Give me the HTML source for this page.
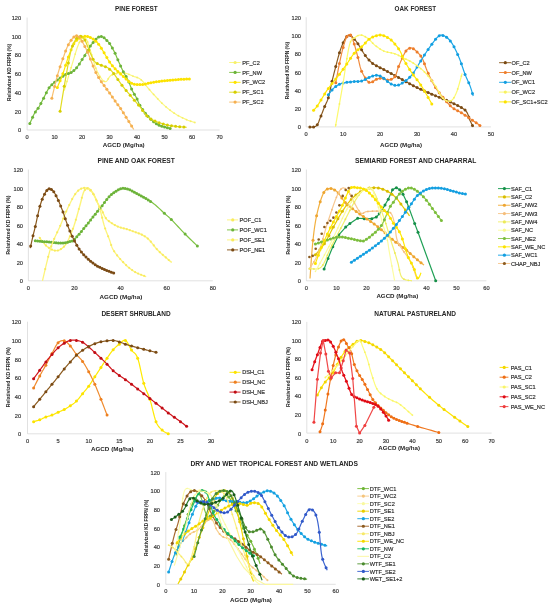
<!DOCTYPE html>
<html><head><meta charset="utf-8"><style>
html,body{margin:0;padding:0;background:#fff;overflow:hidden;width:550px;height:607px;}
svg{display:block;font-family:"Liberation Sans", sans-serif;filter:blur(0.3px);}
.t{stroke:#333;stroke-width:0.18;}
</style></head><body>
<svg width="550" height="607" viewBox="0 0 550 607">
<rect width="550" height="607" fill="#fff"/>
<line x1="27.1" y1="17.56" x2="27.1" y2="130" stroke="#d9d9d9" stroke-width="0.8"/>
<line x1="27.1" y1="130" x2="219.6" y2="130" stroke="#d9d9d9" stroke-width="0.8"/>
<text x="21.2" y="132.45" font-size="5.7" fill="#404040" class="t" text-anchor="end">0</text>
<text x="21.2" y="113.71" font-size="5.7" fill="#404040" class="t" text-anchor="end">20</text>
<text x="21.2" y="94.97" font-size="5.7" fill="#404040" class="t" text-anchor="end">40</text>
<text x="21.2" y="76.23" font-size="5.7" fill="#404040" class="t" text-anchor="end">60</text>
<text x="21.2" y="57.49" font-size="5.7" fill="#404040" class="t" text-anchor="end">80</text>
<text x="21.2" y="38.75" font-size="5.7" fill="#404040" class="t" text-anchor="end">100</text>
<text x="21.2" y="20.01" font-size="5.7" fill="#404040" class="t" text-anchor="end">120</text>
<text x="27.1" y="139.15" font-size="5.7" fill="#404040" class="t" text-anchor="middle">0</text>
<text x="54.6" y="139.15" font-size="5.7" fill="#404040" class="t" text-anchor="middle">10</text>
<text x="82.1" y="139.15" font-size="5.7" fill="#404040" class="t" text-anchor="middle">20</text>
<text x="109.6" y="139.15" font-size="5.7" fill="#404040" class="t" text-anchor="middle">30</text>
<text x="137.1" y="139.15" font-size="5.7" fill="#404040" class="t" text-anchor="middle">40</text>
<text x="164.6" y="139.15" font-size="5.7" fill="#404040" class="t" text-anchor="middle">50</text>
<text x="192.1" y="139.15" font-size="5.7" fill="#404040" class="t" text-anchor="middle">60</text>
<text x="219.6" y="139.15" font-size="5.7" fill="#404040" class="t" text-anchor="middle">70</text>
<text x="136.3" y="10.85" font-size="6.3" font-weight="bold" fill="#262626" text-anchor="middle" textLength="42.5" lengthAdjust="spacingAndGlyphs">PINE FOREST</text>
<text x="123.7" y="146.9" font-size="6.2" font-weight="bold" fill="#262626" text-anchor="middle" textLength="42" lengthAdjust="spacingAndGlyphs">AGCD (Mg/ha)</text>
<text transform="translate(10.5,72.4) rotate(-90)" font-size="5.4" font-weight="bold" fill="#262626" text-anchor="middle" textLength="57" lengthAdjust="spacingAndGlyphs">Relativized KD FRPN (%)</text>
<path d="M64.22 90.65 L64.63 89.28 L65.18 87.45 L65.84 85.26 L66.56 82.85 L67.32 80.31 L68.08 77.79 L68.8 75.38 L69.45 73.22 L70.04 71.24 L70.61 69.33 L71.17 67.46 L71.72 65.63 L72.26 63.83 L72.79 62.07 L73.32 60.33 L73.85 58.6 L74.38 56.87 L74.9 55.12 L75.42 53.39 L75.93 51.69 L76.44 50.05 L76.95 48.48 L77.46 47.01 L77.97 45.67 L78.49 44.42 L79.01 43.22 L79.52 42.09 L80.04 41.06 L80.55 40.13 L81.07 39.33 L81.58 38.67 L82.1 38.17 L82.62 37.82 L83.13 37.57 L83.65 37.45 L84.16 37.47 L84.68 37.63 L85.19 37.95 L85.71 38.44 L86.22 39.11 L86.73 39.98 L87.22 41.04 L87.71 42.28 L88.2 43.68 L88.7 45.21 L89.22 46.84 L89.77 48.57 L90.35 50.35 L90.97 52.32 L91.63 54.52 L92.31 56.88 L93.01 59.32 L93.73 61.74 L94.44 64.08 L95.15 66.25 L95.85 68.16 L96.54 69.85 L97.24 71.43 L97.95 72.89 L98.65 74.23 L99.35 75.46 L100.03 76.57 L100.7 77.57 L101.35 78.47 L101.97 79.26 L102.56 79.97 L103.13 80.57 L103.69 81.06 L104.25 81.41 L104.82 81.63 L105.41 81.68 L106.03 81.56 L106.63 81.18 L107.19 80.51 L107.75 79.64 L108.33 78.65 L108.96 77.62 L109.69 76.63 L110.53 75.76 L111.53 75.09 L112.71 74.58 L114.08 74.12 L115.58 73.73 L117.16 73.41 L118.78 73.16 L120.38 72.99 L121.92 72.92 L123.35 72.94 L124.7 73.09 L126.02 73.38 L127.31 73.77 L128.57 74.24 L129.8 74.75 L130.99 75.28 L132.14 75.77 L133.25 76.22 L134.3 76.59 L135.3 76.91 L136.25 77.22 L137.17 77.53 L138.06 77.88 L138.93 78.29 L139.8 78.79 L140.67 79.4 L141.54 80.15 L142.38 81.01 L143.21 81.96 L144.03 82.97 L144.84 84.01 L145.64 85.07 L146.46 86.1 L147.28 87.09 L148.07 88.02 L148.83 88.91 L149.57 89.79 L150.32 90.68 L151.1 91.59 L151.93 92.54 L152.85 93.57 L153.88 94.68 L155.02 95.9 L156.26 97.24 L157.58 98.65 L158.96 100.1 L160.38 101.56 L161.8 103 L163.22 104.37 L164.6 105.64 L165.96 106.83 L167.33 107.99 L168.7 109.11 L170.08 110.19 L171.46 111.23 L172.84 112.22 L174.22 113.17 L175.6 114.07 L176.99 114.93 L178.41 115.74 L179.85 116.51 L181.27 117.23 L182.68 117.91 L184.04 118.55 L185.36 119.14 L186.6 119.69 L187.82 120.2 L189.05 120.66 L190.26 121.08 L191.41 121.45 L192.48 121.78 L193.43 122.06 L194.23 122.31 L194.85 122.5" fill="none" stroke="#fbf77e" stroke-width="1.2" stroke-linejoin="round"/>
<circle cx="66.97" cy="81.47" r="0.9" fill="#f6f06a"/>
<circle cx="71.1" cy="67.7" r="0.9" fill="#f6f06a"/>
<circle cx="75.22" cy="54.03" r="0.9" fill="#f6f06a"/>
<circle cx="79.35" cy="42.47" r="0.9" fill="#f6f06a"/>
<circle cx="83.47" cy="37.49" r="0.9" fill="#f6f06a"/>
<circle cx="87.6" cy="42" r="0.9" fill="#f6f06a"/>
<circle cx="91.72" cy="54.85" r="0.9" fill="#f6f06a"/>
<circle cx="95.85" cy="68.16" r="0.9" fill="#f6f06a"/>
<circle cx="99.97" cy="76.48" r="0.9" fill="#f6f06a"/>
<circle cx="104.1" cy="81.32" r="0.9" fill="#f6f06a"/>
<circle cx="108.22" cy="78.83" r="0.9" fill="#f6f06a"/>
<circle cx="112.35" cy="74.74" r="0.9" fill="#f6f06a"/>
<circle cx="116.47" cy="73.55" r="0.9" fill="#f6f06a"/>
<circle cx="120.6" cy="72.98" r="0.9" fill="#f6f06a"/>
<circle cx="124.72" cy="73.09" r="0.9" fill="#f6f06a"/>
<circle cx="128.85" cy="74.36" r="0.9" fill="#f6f06a"/>
<circle cx="132.97" cy="76.11" r="0.9" fill="#f6f06a"/>
<circle cx="137.1" cy="77.51" r="0.9" fill="#f6f06a"/>
<circle cx="141.22" cy="79.88" r="0.9" fill="#f6f06a"/>
<circle cx="145.35" cy="84.68" r="0.9" fill="#f6f06a"/>
<circle cx="149.47" cy="89.68" r="0.9" fill="#f6f06a"/>
<circle cx="153.6" cy="94.38" r="0.9" fill="#f6f06a"/>
<circle cx="157.72" cy="98.8" r="0.9" fill="#f6f06a"/>
<circle cx="161.85" cy="103.04" r="0.9" fill="#f6f06a"/>
<circle cx="165.97" cy="106.84" r="0.9" fill="#f6f06a"/>
<circle cx="170.1" cy="110.2" r="0.9" fill="#f6f06a"/>
<circle cx="174.22" cy="113.17" r="0.9" fill="#f6f06a"/>
<circle cx="178.35" cy="115.7" r="0.9" fill="#f6f06a"/>
<circle cx="182.47" cy="117.82" r="0.9" fill="#f6f06a"/>
<circle cx="186.6" cy="119.69" r="0.9" fill="#f6f06a"/>
<circle cx="190.72" cy="121.23" r="0.9" fill="#f6f06a"/>
<circle cx="194.85" cy="122.5" r="0.9" fill="#f6f06a"/>
<path d="M29.3 124.66 L29.71 123.75 L30.26 122.51 L30.91 121.02 L31.64 119.39 L32.4 117.71 L33.15 116.07 L33.88 114.58 L34.53 113.32 L35.11 112.3 L35.68 111.44 L36.22 110.68 L36.76 109.98 L37.29 109.3 L37.82 108.6 L38.37 107.83 L38.92 106.95 L39.49 105.98 L40.06 104.95 L40.62 103.89 L41.19 102.79 L41.77 101.66 L42.37 100.51 L42.97 99.33 L43.6 98.14 L44.25 96.9 L44.91 95.57 L45.58 94.19 L46.27 92.81 L46.97 91.44 L47.68 90.14 L48.39 88.92 L49.1 87.84 L49.82 86.87 L50.57 86 L51.32 85.21 L52.08 84.48 L52.84 83.8 L53.58 83.16 L54.31 82.54 L55.01 81.93 L55.68 81.35 L56.33 80.82 L56.95 80.34 L57.56 79.88 L58.18 79.43 L58.8 79 L59.44 78.55 L60.1 78.09 L60.79 77.6 L61.5 77.1 L62.23 76.6 L62.96 76.09 L63.7 75.61 L64.43 75.15 L65.16 74.72 L65.88 74.34 L66.58 74.04 L67.27 73.82 L67.96 73.64 L68.64 73.49 L69.32 73.32 L70.01 73.12 L70.69 72.84 L71.38 72.47 L72.06 72.01 L72.75 71.5 L73.44 70.94 L74.12 70.34 L74.81 69.68 L75.5 68.97 L76.19 68.22 L76.88 67.41 L77.58 66.5 L78.32 65.47 L79.07 64.35 L79.81 63.2 L80.53 62.07 L81.21 60.98 L81.83 60 L82.38 59.16 L82.8 58.53 L83.1 58.09 L83.32 57.77 L83.51 57.5 L83.71 57.2 L83.97 56.8 L84.34 56.23 L84.85 55.41 L85.51 54.31 L86.28 52.97 L87.14 51.45 L88.06 49.84 L89.03 48.2 L90.03 46.6 L91.02 45.1 L92 43.8 L92.98 42.57 L93.99 41.32 L95.03 40.11 L96.07 38.97 L97.13 37.97 L98.18 37.16 L99.22 36.58 L100.25 36.3 L101.28 36.35 L102.31 36.7 L103.36 37.29 L104.39 38.07 L105.41 38.98 L106.39 39.96 L107.34 40.96 L108.22 41.92 L109.07 42.9 L109.87 43.98 L110.64 45.13 L111.37 46.32 L112.07 47.54 L112.74 48.76 L113.39 49.95 L114 51.1 L114.56 52.19 L115.06 53.24 L115.51 54.26 L115.94 55.29 L116.37 56.33 L116.82 57.42 L117.3 58.58 L117.85 59.82 L118.47 61.19 L119.13 62.69 L119.84 64.27 L120.57 65.89 L121.3 67.49 L122.01 69.05 L122.7 70.5 L123.35 71.81 L123.95 72.95 L124.53 73.94 L125.08 74.84 L125.62 75.68 L126.15 76.51 L126.68 77.38 L127.21 78.33 L127.75 79.4 L128.3 80.63 L128.85 81.96 L129.4 83.38 L129.95 84.83 L130.5 86.28 L131.05 87.7 L131.6 89.04 L132.15 90.27 L132.7 91.38 L133.26 92.39 L133.81 93.34 L134.37 94.25 L134.92 95.14 L135.47 96.04 L136.01 96.97 L136.55 97.95 L137.04 98.97 L137.48 99.99 L137.9 101.02 L138.32 102.07 L138.78 103.14 L139.3 104.26 L139.92 105.43 L140.67 106.67 L141.57 108.02 L142.6 109.48 L143.72 111.03 L144.9 112.6 L146.13 114.16 L147.37 115.66 L148.58 117.05 L149.75 118.29 L150.87 119.39 L151.97 120.4 L153.06 121.32 L154.15 122.18 L155.26 122.97 L156.4 123.7 L157.59 124.39 L158.82 125.03 L160.21 125.64 L161.75 126.19 L163.39 126.69 L165.03 127.14 L166.6 127.54 L168.02 127.88 L169.22 128.17 L170.1 128.41" fill="none" stroke="#7dc242" stroke-width="1.2" stroke-linejoin="round"/>
<circle cx="29.85" cy="123.43" r="1.5" fill="#6cb33a"/>
<circle cx="32.6" cy="117.27" r="1.5" fill="#6cb33a"/>
<circle cx="35.35" cy="111.94" r="1.5" fill="#6cb33a"/>
<circle cx="38.1" cy="108.21" r="1.5" fill="#6cb33a"/>
<circle cx="40.85" cy="103.45" r="1.5" fill="#6cb33a"/>
<circle cx="43.6" cy="98.14" r="1.5" fill="#6cb33a"/>
<circle cx="46.35" cy="92.66" r="1.5" fill="#6cb33a"/>
<circle cx="49.1" cy="87.84" r="1.5" fill="#6cb33a"/>
<circle cx="51.85" cy="84.7" r="1.5" fill="#6cb33a"/>
<circle cx="54.6" cy="82.29" r="1.5" fill="#6cb33a"/>
<circle cx="57.35" cy="80.04" r="1.5" fill="#6cb33a"/>
<circle cx="60.1" cy="78.09" r="1.5" fill="#6cb33a"/>
<circle cx="62.85" cy="76.17" r="1.5" fill="#6cb33a"/>
<circle cx="65.6" cy="74.49" r="1.5" fill="#6cb33a"/>
<circle cx="68.35" cy="73.55" r="1.5" fill="#6cb33a"/>
<circle cx="71.1" cy="72.62" r="1.5" fill="#6cb33a"/>
<circle cx="73.85" cy="70.58" r="1.5" fill="#6cb33a"/>
<circle cx="76.6" cy="67.73" r="1.5" fill="#6cb33a"/>
<circle cx="79.35" cy="63.92" r="1.5" fill="#6cb33a"/>
<circle cx="82.1" cy="59.59" r="1.5" fill="#6cb33a"/>
<circle cx="84.85" cy="55.41" r="1.5" fill="#6cb33a"/>
<circle cx="87.6" cy="50.65" r="1.5" fill="#6cb33a"/>
<circle cx="90.35" cy="46.11" r="1.5" fill="#6cb33a"/>
<circle cx="93.1" cy="42.42" r="1.5" fill="#6cb33a"/>
<circle cx="95.85" cy="39.21" r="1.5" fill="#6cb33a"/>
<circle cx="98.6" cy="36.92" r="1.5" fill="#6cb33a"/>
<circle cx="101.35" cy="36.38" r="1.5" fill="#6cb33a"/>
<circle cx="104.1" cy="37.85" r="1.5" fill="#6cb33a"/>
<circle cx="106.85" cy="40.44" r="1.5" fill="#6cb33a"/>
<circle cx="109.6" cy="43.62" r="1.5" fill="#6cb33a"/>
<circle cx="112.35" cy="48.04" r="1.5" fill="#6cb33a"/>
<circle cx="115.1" cy="53.33" r="1.5" fill="#6cb33a"/>
<circle cx="117.85" cy="59.82" r="1.5" fill="#6cb33a"/>
<circle cx="120.6" cy="65.96" r="1.5" fill="#6cb33a"/>
<circle cx="123.35" cy="71.81" r="1.5" fill="#6cb33a"/>
<circle cx="126.1" cy="76.43" r="1.5" fill="#6cb33a"/>
<circle cx="128.85" cy="81.96" r="1.5" fill="#6cb33a"/>
<circle cx="131.6" cy="89.04" r="1.5" fill="#6cb33a"/>
<circle cx="134.35" cy="94.22" r="1.5" fill="#6cb33a"/>
<circle cx="137.1" cy="99.1" r="1.5" fill="#6cb33a"/>
<circle cx="139.85" cy="105.29" r="1.5" fill="#6cb33a"/>
<circle cx="142.6" cy="109.49" r="1.5" fill="#6cb33a"/>
<circle cx="145.35" cy="113.17" r="1.5" fill="#6cb33a"/>
<circle cx="148.1" cy="116.5" r="1.5" fill="#6cb33a"/>
<circle cx="150.85" cy="119.37" r="1.5" fill="#6cb33a"/>
<circle cx="153.6" cy="121.75" r="1.5" fill="#6cb33a"/>
<circle cx="156.35" cy="123.67" r="1.5" fill="#6cb33a"/>
<circle cx="159.1" cy="125.15" r="1.5" fill="#6cb33a"/>
<circle cx="161.85" cy="126.22" r="1.5" fill="#6cb33a"/>
<circle cx="164.6" cy="127.02" r="1.5" fill="#6cb33a"/>
<circle cx="167.35" cy="127.72" r="1.5" fill="#6cb33a"/>
<circle cx="170.1" cy="128.41" r="1.5" fill="#6cb33a"/>
<path d="M56.8 88.77 L57.27 87.63 L57.9 86.12 L58.65 84.33 L59.48 82.33 L60.36 80.2 L61.23 78.01 L62.08 75.85 L62.85 73.78 L63.56 71.74 L64.26 69.61 L64.95 67.43 L65.63 65.23 L66.31 63.05 L66.99 60.91 L67.67 58.86 L68.35 56.91 L69.04 55.04 L69.72 53.2 L70.41 51.39 L71.1 49.65 L71.79 48 L72.47 46.46 L73.16 45.05 L73.85 43.8 L74.53 42.71 L75.19 41.78 L75.84 40.97 L76.5 40.28 L77.17 39.68 L77.86 39.14 L78.58 38.65 L79.35 38.17 L80.17 37.73 L81.03 37.33 L81.93 36.99 L82.86 36.71 L83.79 36.49 L84.71 36.35 L85.62 36.28 L86.5 36.3 L87.35 36.4 L88.19 36.59 L89.02 36.85 L89.83 37.18 L90.65 37.58 L91.46 38.03 L92.28 38.55 L93.1 39.11 L93.89 39.67 L94.64 40.21 L95.37 40.78 L96.11 41.42 L96.88 42.19 L97.72 43.12 L98.65 44.26 L99.7 45.67 L100.88 47.44 L102.18 49.57 L103.57 51.95 L105.03 54.48 L106.52 57.06 L108.03 59.56 L109.52 61.89 L110.97 63.94 L112.42 65.75 L113.9 67.43 L115.39 69 L116.89 70.47 L118.36 71.86 L119.81 73.18 L121.2 74.44 L122.53 75.65 L123.78 76.83 L124.96 77.97 L126.1 79.04 L127.2 80.05 L128.29 80.97 L129.37 81.8 L130.47 82.53 L131.6 83.15 L132.71 83.65 L133.78 84.03 L134.82 84.31 L135.88 84.5 L136.99 84.6 L138.18 84.64 L139.49 84.62 L140.95 84.56 L142.56 84.4 L144.3 84.13 L146.14 83.77 L148.07 83.36 L150.07 82.92 L152.13 82.49 L154.23 82.08 L156.35 81.74 L158.56 81.45 L160.88 81.17 L163.29 80.9 L165.73 80.64 L168.17 80.4 L170.57 80.17 L172.87 79.96 L175.05 79.78 L177.19 79.61 L179.38 79.47 L181.55 79.34 L183.64 79.23 L185.59 79.14 L187.32 79.06 L188.78 78.99 L189.9 78.93" fill="none" stroke="#ffea00" stroke-width="1.2" stroke-linejoin="round"/>
<circle cx="57.35" cy="87.44" r="1.5" fill="#fce200"/>
<circle cx="60.1" cy="80.82" r="1.5" fill="#fce200"/>
<circle cx="62.85" cy="73.78" r="1.5" fill="#fce200"/>
<circle cx="65.6" cy="65.34" r="1.5" fill="#fce200"/>
<circle cx="68.35" cy="56.91" r="1.5" fill="#fce200"/>
<circle cx="71.1" cy="49.65" r="1.5" fill="#fce200"/>
<circle cx="73.85" cy="43.8" r="1.5" fill="#fce200"/>
<circle cx="76.6" cy="40.19" r="1.5" fill="#fce200"/>
<circle cx="79.35" cy="38.17" r="1.5" fill="#fce200"/>
<circle cx="82.1" cy="36.94" r="1.5" fill="#fce200"/>
<circle cx="84.85" cy="36.34" r="1.5" fill="#fce200"/>
<circle cx="87.6" cy="36.46" r="1.5" fill="#fce200"/>
<circle cx="90.35" cy="37.43" r="1.5" fill="#fce200"/>
<circle cx="93.1" cy="39.11" r="1.5" fill="#fce200"/>
<circle cx="95.85" cy="41.2" r="1.5" fill="#fce200"/>
<circle cx="98.6" cy="44.2" r="1.5" fill="#fce200"/>
<circle cx="101.35" cy="48.2" r="1.5" fill="#fce200"/>
<circle cx="104.1" cy="52.87" r="1.5" fill="#fce200"/>
<circle cx="106.85" cy="57.6" r="1.5" fill="#fce200"/>
<circle cx="109.6" cy="62" r="1.5" fill="#fce200"/>
<circle cx="112.35" cy="65.66" r="1.5" fill="#fce200"/>
<circle cx="115.1" cy="68.69" r="1.5" fill="#fce200"/>
<circle cx="117.85" cy="71.38" r="1.5" fill="#fce200"/>
<circle cx="120.6" cy="73.9" r="1.5" fill="#fce200"/>
<circle cx="123.35" cy="76.43" r="1.5" fill="#fce200"/>
<circle cx="126.1" cy="79.04" r="1.5" fill="#fce200"/>
<circle cx="128.85" cy="81.4" r="1.5" fill="#fce200"/>
<circle cx="131.6" cy="83.15" r="1.5" fill="#fce200"/>
<circle cx="134.35" cy="84.18" r="1.5" fill="#fce200"/>
<circle cx="137.1" cy="84.61" r="1.5" fill="#fce200"/>
<circle cx="139.85" cy="84.61" r="1.5" fill="#fce200"/>
<circle cx="142.6" cy="84.39" r="1.5" fill="#fce200"/>
<circle cx="145.35" cy="83.93" r="1.5" fill="#fce200"/>
<circle cx="148.1" cy="83.35" r="1.5" fill="#fce200"/>
<circle cx="150.85" cy="82.76" r="1.5" fill="#fce200"/>
<circle cx="153.6" cy="82.2" r="1.5" fill="#fce200"/>
<circle cx="156.35" cy="81.74" r="1.5" fill="#fce200"/>
<circle cx="159.1" cy="81.38" r="1.5" fill="#fce200"/>
<circle cx="161.85" cy="81.06" r="1.5" fill="#fce200"/>
<circle cx="164.6" cy="80.76" r="1.5" fill="#fce200"/>
<circle cx="167.35" cy="80.48" r="1.5" fill="#fce200"/>
<circle cx="170.1" cy="80.21" r="1.5" fill="#fce200"/>
<circle cx="172.85" cy="79.97" r="1.5" fill="#fce200"/>
<circle cx="175.6" cy="79.73" r="1.5" fill="#fce200"/>
<circle cx="178.35" cy="79.54" r="1.5" fill="#fce200"/>
<circle cx="181.1" cy="79.37" r="1.5" fill="#fce200"/>
<circle cx="183.85" cy="79.22" r="1.5" fill="#fce200"/>
<circle cx="186.6" cy="79.09" r="1.5" fill="#fce200"/>
<circle cx="189.35" cy="78.96" r="1.5" fill="#fce200"/>
<path d="M60.1 111.26 L60.52 108.7 L61.09 105.26 L61.76 101.16 L62.51 96.62 L63.3 91.86 L64.1 87.1 L64.87 82.56 L65.6 78.47 L66.29 74.62 L66.97 70.73 L67.66 66.88 L68.35 63.12 L69.04 59.52 L69.72 56.15 L70.41 53.07 L71.1 50.35 L71.8 48 L72.51 45.95 L73.22 44.17 L73.94 42.62 L74.64 41.29 L75.32 40.12 L75.98 39.09 L76.6 38.17 L77.18 37.41 L77.73 36.85 L78.25 36.47 L78.75 36.24 L79.24 36.14 L79.73 36.13 L80.22 36.19 L80.72 36.3 L81.23 36.44 L81.72 36.62 L82.21 36.88 L82.7 37.24 L83.2 37.71 L83.72 38.32 L84.27 39.09 L84.85 40.05 L85.48 41.27 L86.15 42.77 L86.85 44.47 L87.57 46.29 L88.29 48.15 L89 49.97 L89.69 51.67 L90.35 53.17 L90.96 54.51 L91.53 55.8 L92.08 57.02 L92.62 58.18 L93.17 59.26 L93.74 60.25 L94.35 61.16 L95.03 61.97 L95.77 62.66 L96.57 63.23 L97.41 63.69 L98.27 64.08 L99.15 64.42 L100.01 64.72 L100.84 65.03 L101.62 65.35 L102.37 65.65 L103.08 65.9 L103.78 66.11 L104.46 66.31 L105.13 66.52 L105.8 66.76 L106.46 67.05 L107.12 67.41 L107.79 67.83 L108.44 68.27 L109.09 68.75 L109.74 69.26 L110.38 69.82 L111.03 70.43 L111.69 71.09 L112.35 71.81 L113.02 72.61 L113.71 73.48 L114.39 74.42 L115.08 75.4 L115.78 76.41 L116.47 77.42 L117.16 78.43 L117.85 79.4 L118.54 80.37 L119.22 81.34 L119.91 82.33 L120.6 83.31 L121.29 84.28 L121.97 85.24 L122.66 86.18 L123.35 87.09 L124.04 87.96 L124.72 88.8 L125.41 89.63 L126.1 90.44 L126.79 91.23 L127.47 92.03 L128.16 92.83 L128.85 93.64 L129.54 94.46 L130.22 95.29 L130.91 96.11 L131.6 96.93 L132.29 97.75 L132.97 98.57 L133.66 99.39 L134.35 100.2 L135.01 100.98 L135.62 101.71 L136.22 102.41 L136.82 103.12 L137.47 103.87 L138.17 104.69 L138.95 105.61 L139.85 106.67 L140.82 107.91 L141.84 109.33 L142.9 110.86 L144.04 112.46 L145.28 114.06 L146.63 115.6 L148.11 117.03 L149.75 118.29 L151.57 119.39 L153.57 120.42 L155.71 121.37 L157.97 122.25 L160.29 123.05 L162.65 123.78 L165.02 124.44 L167.35 125.03 L169.81 125.55 L172.5 125.97 L175.29 126.31 L178.07 126.58 L180.72 126.8 L183.1 126.98 L185.1 127.14 L186.6 127.28" fill="none" stroke="#e2dc20" stroke-width="1.2" stroke-linejoin="round"/>
<circle cx="60.1" cy="111.26" r="1.5" fill="#d6ce00"/>
<circle cx="64.22" cy="86.35" r="1.5" fill="#d6ce00"/>
<circle cx="68.35" cy="63.12" r="1.5" fill="#d6ce00"/>
<circle cx="72.47" cy="46.04" r="1.5" fill="#d6ce00"/>
<circle cx="76.6" cy="38.17" r="1.5" fill="#d6ce00"/>
<circle cx="80.72" cy="36.3" r="1.5" fill="#d6ce00"/>
<circle cx="84.85" cy="40.05" r="1.5" fill="#d6ce00"/>
<circle cx="88.97" cy="49.9" r="1.5" fill="#d6ce00"/>
<circle cx="93.1" cy="59.13" r="1.5" fill="#d6ce00"/>
<circle cx="97.22" cy="63.59" r="1.5" fill="#d6ce00"/>
<circle cx="101.35" cy="65.23" r="1.5" fill="#d6ce00"/>
<circle cx="105.47" cy="66.64" r="1.5" fill="#d6ce00"/>
<circle cx="109.6" cy="69.15" r="1.5" fill="#d6ce00"/>
<circle cx="113.72" cy="73.51" r="1.5" fill="#d6ce00"/>
<circle cx="117.85" cy="79.4" r="1.5" fill="#d6ce00"/>
<circle cx="121.97" cy="85.24" r="1.5" fill="#d6ce00"/>
<circle cx="126.1" cy="90.44" r="1.5" fill="#d6ce00"/>
<circle cx="130.22" cy="95.29" r="1.5" fill="#d6ce00"/>
<circle cx="134.35" cy="100.2" r="1.5" fill="#d6ce00"/>
<circle cx="138.47" cy="105.06" r="1.5" fill="#d6ce00"/>
<circle cx="142.6" cy="110.43" r="1.5" fill="#d6ce00"/>
<circle cx="146.72" cy="115.7" r="1.5" fill="#d6ce00"/>
<circle cx="150.85" cy="118.96" r="1.5" fill="#d6ce00"/>
<circle cx="154.97" cy="121.04" r="1.5" fill="#d6ce00"/>
<circle cx="159.1" cy="122.64" r="1.5" fill="#d6ce00"/>
<circle cx="163.22" cy="123.94" r="1.5" fill="#d6ce00"/>
<circle cx="167.35" cy="125.03" r="1.5" fill="#d6ce00"/>
<circle cx="171.47" cy="125.81" r="1.5" fill="#d6ce00"/>
<circle cx="175.6" cy="126.34" r="1.5" fill="#d6ce00"/>
<circle cx="179.72" cy="126.72" r="1.5" fill="#d6ce00"/>
<circle cx="183.85" cy="127.04" r="1.5" fill="#d6ce00"/>
<path d="M51.85 98.14 L52.27 96.37 L52.84 93.97 L53.51 91.11 L54.26 87.95 L55.05 84.66 L55.85 81.41 L56.62 78.35 L57.35 75.65 L58.04 73.26 L58.73 70.98 L59.41 68.79 L60.1 66.69 L60.79 64.66 L61.48 62.68 L62.16 60.72 L62.85 58.79 L63.53 56.86 L64.21 54.94 L64.88 53.06 L65.55 51.23 L66.23 49.47 L66.92 47.79 L67.62 46.2 L68.35 44.73 L69.11 43.35 L69.91 42.01 L70.73 40.75 L71.56 39.58 L72.39 38.53 L73.19 37.62 L73.96 36.87 L74.68 36.3 L75.35 35.95 L76 35.8 L76.63 35.83 L77.24 35.98 L77.81 36.24 L78.36 36.56 L78.87 36.9 L79.35 37.24 L79.77 37.55 L80.11 37.89 L80.4 38.25 L80.67 38.68 L80.95 39.18 L81.26 39.78 L81.64 40.5 L82.1 41.36 L82.64 42.34 L83.24 43.42 L83.88 44.61 L84.56 45.9 L85.28 47.3 L86.03 48.82 L86.8 50.46 L87.6 52.23 L88.45 54.23 L89.37 56.51 L90.33 58.97 L91.31 61.52 L92.3 64.06 L93.26 66.5 L94.18 68.74 L95.03 70.69 L95.8 72.34 L96.54 73.8 L97.23 75.1 L97.9 76.28 L98.55 77.37 L99.2 78.42 L99.85 79.46 L100.53 80.53 L101.21 81.59 L101.9 82.6 L102.59 83.57 L103.28 84.51 L103.96 85.43 L104.65 86.35 L105.34 87.27 L106.03 88.21 L106.71 89.16 L107.41 90.11 L108.1 91.06 L108.79 92.01 L109.48 92.96 L110.17 93.9 L110.85 94.85 L111.53 95.8 L112.2 96.76 L112.87 97.73 L113.54 98.72 L114.21 99.69 L114.86 100.66 L115.51 101.6 L116.14 102.52 L116.75 103.39 L117.28 104.12 L117.71 104.67 L118.1 105.13 L118.49 105.6 L118.93 106.17 L119.49 106.93 L120.21 107.97 L121.15 109.39 L122.42 111.36 L124.03 113.9 L125.85 116.79 L127.75 119.83 L129.62 122.83 L131.33 125.58 L132.77 127.88 L133.8 129.53" fill="none" stroke="#f8c070" stroke-width="1.2" stroke-linejoin="round"/>
<circle cx="51.85" cy="98.14" r="1.5" fill="#f5b050"/>
<circle cx="54.6" cy="86.52" r="1.5" fill="#f5b050"/>
<circle cx="57.35" cy="75.65" r="1.5" fill="#f5b050"/>
<circle cx="60.1" cy="66.69" r="1.5" fill="#f5b050"/>
<circle cx="62.85" cy="58.79" r="1.5" fill="#f5b050"/>
<circle cx="65.6" cy="51.1" r="1.5" fill="#f5b050"/>
<circle cx="68.35" cy="44.73" r="1.5" fill="#f5b050"/>
<circle cx="71.1" cy="40.23" r="1.5" fill="#f5b050"/>
<circle cx="73.85" cy="36.97" r="1.5" fill="#f5b050"/>
<circle cx="76.6" cy="35.82" r="1.5" fill="#f5b050"/>
<circle cx="79.35" cy="37.24" r="1.5" fill="#f5b050"/>
<circle cx="82.1" cy="41.36" r="1.5" fill="#f5b050"/>
<circle cx="84.85" cy="46.47" r="1.5" fill="#f5b050"/>
<circle cx="87.6" cy="52.23" r="1.5" fill="#f5b050"/>
<circle cx="90.35" cy="59.03" r="1.5" fill="#f5b050"/>
<circle cx="93.1" cy="66.1" r="1.5" fill="#f5b050"/>
<circle cx="95.85" cy="72.44" r="1.5" fill="#f5b050"/>
<circle cx="98.6" cy="77.46" r="1.5" fill="#f5b050"/>
<circle cx="101.35" cy="81.79" r="1.5" fill="#f5b050"/>
<circle cx="104.1" cy="85.61" r="1.5" fill="#f5b050"/>
<circle cx="106.85" cy="89.35" r="1.5" fill="#f5b050"/>
<circle cx="109.6" cy="93.12" r="1.5" fill="#f5b050"/>
<circle cx="112.35" cy="96.98" r="1.5" fill="#f5b050"/>
<circle cx="115.1" cy="101.01" r="1.5" fill="#f5b050"/>
<circle cx="117.85" cy="104.83" r="1.5" fill="#f5b050"/>
<circle cx="120.6" cy="108.56" r="1.5" fill="#f5b050"/>
<circle cx="123.35" cy="112.83" r="1.5" fill="#f5b050"/>
<circle cx="126.1" cy="117.2" r="1.5" fill="#f5b050"/>
<circle cx="128.85" cy="121.6" r="1.5" fill="#f5b050"/>
<circle cx="131.6" cy="126.01" r="1.5" fill="#f5b050"/>
<line x1="229.2" y1="62.5" x2="240.6" y2="62.5" stroke="#fbf77e" stroke-width="0.95"/>
<circle cx="235.1" cy="62.5" r="1.6" fill="#f6f06a"/>
<text x="242.3" y="64.66" font-size="6.0" fill="#262626" class="t" textLength="17.51" lengthAdjust="spacingAndGlyphs">PF_C2</text>
<line x1="229.2" y1="72.4" x2="240.6" y2="72.4" stroke="#7dc242" stroke-width="0.95"/>
<circle cx="235.1" cy="72.4" r="1.6" fill="#6cb33a"/>
<text x="242.3" y="74.56" font-size="6.0" fill="#262626" class="t" textLength="19.69" lengthAdjust="spacingAndGlyphs">PF_NW</text>
<line x1="229.2" y1="82.3" x2="240.6" y2="82.3" stroke="#ffea00" stroke-width="0.95"/>
<circle cx="235.1" cy="82.3" r="1.6" fill="#fce200"/>
<text x="242.3" y="84.46" font-size="6.0" fill="#262626" class="t" textLength="22.82" lengthAdjust="spacingAndGlyphs">PF_WC2</text>
<line x1="229.2" y1="92.2" x2="240.6" y2="92.2" stroke="#e2dc20" stroke-width="0.95"/>
<circle cx="235.1" cy="92.2" r="1.6" fill="#d6ce00"/>
<text x="242.3" y="94.36" font-size="6.0" fill="#262626" class="t" textLength="21.26" lengthAdjust="spacingAndGlyphs">PF_SC1</text>
<line x1="229.2" y1="102.1" x2="240.6" y2="102.1" stroke="#f8c070" stroke-width="0.95"/>
<circle cx="235.1" cy="102.1" r="1.6" fill="#f5b050"/>
<text x="242.3" y="104.26" font-size="6.0" fill="#262626" class="t" textLength="21.26" lengthAdjust="spacingAndGlyphs">PF_SC2</text>
<line x1="306.2" y1="17.22" x2="306.2" y2="126.9" stroke="#d9d9d9" stroke-width="0.8"/>
<line x1="306.2" y1="126.9" x2="490.95" y2="126.9" stroke="#d9d9d9" stroke-width="0.8"/>
<text x="301" y="129.35" font-size="5.7" fill="#404040" class="t" text-anchor="end">0</text>
<text x="301" y="111.07" font-size="5.7" fill="#404040" class="t" text-anchor="end">20</text>
<text x="301" y="92.79" font-size="5.7" fill="#404040" class="t" text-anchor="end">40</text>
<text x="301" y="74.51" font-size="5.7" fill="#404040" class="t" text-anchor="end">60</text>
<text x="301" y="56.23" font-size="5.7" fill="#404040" class="t" text-anchor="end">80</text>
<text x="301" y="37.95" font-size="5.7" fill="#404040" class="t" text-anchor="end">100</text>
<text x="301" y="19.67" font-size="5.7" fill="#404040" class="t" text-anchor="end">120</text>
<text x="306.2" y="136.25" font-size="5.7" fill="#404040" class="t" text-anchor="middle">0</text>
<text x="343.15" y="136.25" font-size="5.7" fill="#404040" class="t" text-anchor="middle">10</text>
<text x="380.1" y="136.25" font-size="5.7" fill="#404040" class="t" text-anchor="middle">20</text>
<text x="417.05" y="136.25" font-size="5.7" fill="#404040" class="t" text-anchor="middle">30</text>
<text x="454" y="136.25" font-size="5.7" fill="#404040" class="t" text-anchor="middle">40</text>
<text x="490.95" y="136.25" font-size="5.7" fill="#404040" class="t" text-anchor="middle">50</text>
<text x="415.3" y="10.95" font-size="6.3" font-weight="bold" fill="#262626" text-anchor="middle" textLength="41.4" lengthAdjust="spacingAndGlyphs">OAK FOREST</text>
<text x="401" y="146.7" font-size="6.2" font-weight="bold" fill="#262626" text-anchor="middle" textLength="42" lengthAdjust="spacingAndGlyphs">AGCD (Mg/ha)</text>
<text transform="translate(289.1,70.5) rotate(-90)" font-size="5.4" font-weight="bold" fill="#262626" text-anchor="middle" textLength="57.3" lengthAdjust="spacingAndGlyphs">Relativized KD FRPN (%)</text>
<path d="M309.89 126.9 L310.18 126.91 L310.56 126.95 L311.01 127 L311.51 127.04 L312.04 127.06 L312.58 127.05 L313.1 127 L313.59 126.9 L314.05 126.78 L314.51 126.66 L314.98 126.53 L315.44 126.35 L315.9 126.11 L316.36 125.77 L316.82 125.31 L317.28 124.71 L317.75 123.93 L318.21 122.99 L318.67 121.93 L319.13 120.77 L319.59 119.56 L320.06 118.32 L320.52 117.1 L320.98 115.93 L321.44 114.78 L321.9 113.61 L322.37 112.42 L322.83 111.23 L323.29 110.04 L323.75 108.85 L324.21 107.67 L324.68 106.52 L325.14 105.44 L325.6 104.44 L326.06 103.49 L326.52 102.52 L326.98 101.51 L327.45 100.39 L327.91 99.12 L328.37 97.65 L328.83 95.95 L329.29 94.03 L329.76 91.96 L330.22 89.79 L330.68 87.57 L331.14 85.36 L331.6 83.22 L332.06 81.2 L332.53 79.28 L332.99 77.39 L333.45 75.54 L333.91 73.72 L334.37 71.91 L334.84 70.12 L335.3 68.35 L335.76 66.58 L336.22 64.79 L336.68 63 L337.15 61.21 L337.61 59.44 L338.07 57.7 L338.53 56.02 L338.99 54.4 L339.45 52.87 L339.92 51.41 L340.38 50.01 L340.84 48.67 L341.3 47.38 L341.76 46.15 L342.23 44.98 L342.69 43.87 L343.15 42.81 L343.61 41.8 L344.07 40.83 L344.54 39.9 L345 39.04 L345.46 38.25 L345.92 37.54 L346.38 36.93 L346.84 36.41 L347.31 36.01 L347.77 35.69 L348.23 35.47 L348.69 35.33 L349.15 35.27 L349.62 35.28 L350.08 35.36 L350.54 35.5 L351 35.73 L351.46 36.07 L351.93 36.5 L352.39 36.99 L352.85 37.52 L353.31 38.07 L353.77 38.62 L354.24 39.16 L354.67 39.63 L355.07 40.06 L355.46 40.48 L355.85 40.93 L356.27 41.44 L356.75 42.05 L357.29 42.8 L357.93 43.73 L358.68 44.89 L359.52 46.28 L360.43 47.83 L361.39 49.47 L362.39 51.13 L363.39 52.76 L364.37 54.27 L365.32 55.61 L366.23 56.79 L367.13 57.9 L368.03 58.94 L368.92 59.92 L369.83 60.85 L370.76 61.72 L371.72 62.57 L372.71 63.38 L373.74 64.14 L374.81 64.82 L375.89 65.46 L377.01 66.06 L378.13 66.63 L379.27 67.21 L380.42 67.79 L381.58 68.4 L382.76 69.05 L383.98 69.7 L385.22 70.36 L386.47 71.03 L387.71 71.68 L388.92 72.32 L390.09 72.93 L391.19 73.52 L392.14 74.04 L392.93 74.46 L393.63 74.85 L394.33 75.22 L395.09 75.64 L396 76.14 L397.14 76.76 L398.57 77.54 L400.36 78.53 L402.44 79.69 L404.74 80.98 L407.19 82.34 L409.72 83.74 L412.25 85.11 L414.72 86.41 L417.05 87.6 L419.27 88.67 L421.46 89.69 L423.63 90.66 L425.78 91.59 L427.93 92.51 L430.07 93.42 L432.24 94.34 L434.42 95.28 L436.65 96.23 L438.93 97.18 L441.24 98.13 L443.54 99.07 L445.81 100.02 L448.02 100.97 L450.15 101.91 L452.15 102.86 L454.09 103.79 L456 104.7 L457.86 105.61 L459.63 106.51 L461.31 107.44 L462.86 108.39 L464.25 109.39 L465.45 110.45 L466.44 111.6 L467.21 112.83 L467.82 114.13 L468.3 115.45 L468.7 116.76 L469.07 118.03 L469.45 119.23 L469.89 120.32 L470.38 121.34 L470.88 122.35 L471.36 123.32 L471.83 124.23 L472.26 125.06 L472.64 125.79 L472.97 126.41 L473.21 126.9" fill="none" stroke="#8b5a1e" stroke-width="1.2" stroke-linejoin="round"/>
<circle cx="309.89" cy="126.9" r="1.5" fill="#7a4a14"/>
<circle cx="313.59" cy="126.9" r="1.5" fill="#7a4a14"/>
<circle cx="317.28" cy="124.71" r="1.5" fill="#7a4a14"/>
<circle cx="320.98" cy="115.93" r="1.5" fill="#7a4a14"/>
<circle cx="324.68" cy="106.52" r="1.5" fill="#7a4a14"/>
<circle cx="328.37" cy="97.65" r="1.5" fill="#7a4a14"/>
<circle cx="332.06" cy="81.2" r="1.5" fill="#7a4a14"/>
<circle cx="335.76" cy="66.58" r="1.5" fill="#7a4a14"/>
<circle cx="339.45" cy="52.87" r="1.5" fill="#7a4a14"/>
<circle cx="343.15" cy="42.81" r="1.5" fill="#7a4a14"/>
<circle cx="346.84" cy="36.41" r="1.5" fill="#7a4a14"/>
<circle cx="350.54" cy="35.5" r="1.5" fill="#7a4a14"/>
<circle cx="354.24" cy="39.16" r="1.5" fill="#7a4a14"/>
<circle cx="357.93" cy="43.73" r="1.5" fill="#7a4a14"/>
<circle cx="361.62" cy="49.85" r="1.5" fill="#7a4a14"/>
<circle cx="365.32" cy="55.61" r="1.5" fill="#7a4a14"/>
<circle cx="369.01" cy="60.01" r="1.5" fill="#7a4a14"/>
<circle cx="372.71" cy="63.38" r="1.5" fill="#7a4a14"/>
<circle cx="376.4" cy="65.73" r="1.5" fill="#7a4a14"/>
<circle cx="380.1" cy="67.63" r="1.5" fill="#7a4a14"/>
<circle cx="383.79" cy="69.6" r="1.5" fill="#7a4a14"/>
<circle cx="387.49" cy="71.56" r="1.5" fill="#7a4a14"/>
<circle cx="391.19" cy="73.52" r="1.5" fill="#7a4a14"/>
<circle cx="394.88" cy="75.53" r="1.5" fill="#7a4a14"/>
<circle cx="398.57" cy="77.54" r="1.5" fill="#7a4a14"/>
<circle cx="402.27" cy="79.59" r="1.5" fill="#7a4a14"/>
<circle cx="405.96" cy="81.66" r="1.5" fill="#7a4a14"/>
<circle cx="409.66" cy="83.71" r="1.5" fill="#7a4a14"/>
<circle cx="413.36" cy="85.69" r="1.5" fill="#7a4a14"/>
<circle cx="417.05" cy="87.6" r="1.5" fill="#7a4a14"/>
<circle cx="420.75" cy="89.35" r="1.5" fill="#7a4a14"/>
<circle cx="424.44" cy="91.01" r="1.5" fill="#7a4a14"/>
<circle cx="428.13" cy="92.6" r="1.5" fill="#7a4a14"/>
<circle cx="431.83" cy="94.16" r="1.5" fill="#7a4a14"/>
<circle cx="435.52" cy="95.75" r="1.5" fill="#7a4a14"/>
<circle cx="439.22" cy="97.3" r="1.5" fill="#7a4a14"/>
<circle cx="442.91" cy="98.82" r="1.5" fill="#7a4a14"/>
<circle cx="446.61" cy="100.36" r="1.5" fill="#7a4a14"/>
<circle cx="450.3" cy="101.99" r="1.5" fill="#7a4a14"/>
<circle cx="454" cy="103.75" r="1.5" fill="#7a4a14"/>
<circle cx="457.69" cy="105.53" r="1.5" fill="#7a4a14"/>
<circle cx="461.39" cy="107.48" r="1.5" fill="#7a4a14"/>
<circle cx="465.08" cy="110.12" r="1.5" fill="#7a4a14"/>
<circle cx="468.78" cy="117.05" r="1.5" fill="#7a4a14"/>
<circle cx="472.48" cy="125.47" r="1.5" fill="#7a4a14"/>
<path d="M335.76 82.66 L336.05 81.15 L336.42 79.12 L336.87 76.7 L337.38 74.02 L337.91 71.22 L338.44 68.42 L338.97 65.76 L339.45 63.38 L339.92 61.18 L340.38 59.02 L340.84 56.9 L341.3 54.84 L341.76 52.84 L342.23 50.92 L342.69 49.1 L343.15 47.38 L343.61 45.74 L344.07 44.14 L344.54 42.62 L345 41.19 L345.46 39.87 L345.92 38.68 L346.38 37.64 L346.84 36.78 L347.31 36.06 L347.77 35.47 L348.23 35.01 L348.69 34.68 L349.15 34.51 L349.62 34.51 L350.08 34.68 L350.54 35.04 L351 35.63 L351.46 36.45 L351.93 37.46 L352.39 38.62 L352.85 39.91 L353.31 41.27 L353.77 42.68 L354.24 44.09 L354.7 45.55 L355.16 47.12 L355.62 48.77 L356.08 50.47 L356.54 52.22 L357.01 53.97 L357.47 55.72 L357.93 57.44 L358.37 59.15 L358.77 60.9 L359.15 62.66 L359.55 64.43 L359.97 66.18 L360.44 67.89 L360.99 69.55 L361.62 71.15 L362.37 72.76 L363.21 74.44 L364.13 76.13 L365.09 77.76 L366.08 79.26 L367.08 80.56 L368.07 81.59 L369.01 82.3 L369.95 82.59 L370.91 82.51 L371.88 82.15 L372.85 81.61 L373.8 80.96 L374.71 80.31 L375.59 79.75 L376.4 79.37 L377.15 79.12 L377.81 78.88 L378.43 78.67 L379.01 78.49 L379.6 78.34 L380.21 78.23 L380.86 78.18 L381.58 78.18 L382.37 78.3 L383.22 78.53 L384.11 78.84 L385.02 79.18 L385.94 79.51 L386.85 79.77 L387.74 79.92 L388.6 79.92 L389.43 79.8 L390.27 79.63 L391.11 79.39 L391.92 79.07 L392.72 78.65 L393.48 78.11 L394.21 77.44 L394.88 76.63 L395.48 75.65 L395.99 74.5 L396.45 73.22 L396.89 71.82 L397.33 70.34 L397.8 68.8 L398.33 67.23 L398.94 65.66 L399.66 63.98 L400.45 62.12 L401.3 60.15 L402.18 58.17 L403.07 56.24 L403.95 54.45 L404.8 52.87 L405.6 51.59 L406.34 50.58 L407.06 49.77 L407.76 49.13 L408.44 48.65 L409.11 48.31 L409.78 48.09 L410.45 47.97 L411.14 47.93 L411.83 48.02 L412.52 48.26 L413.22 48.63 L413.91 49.11 L414.6 49.67 L415.29 50.28 L415.99 50.93 L416.68 51.59 L417.37 52.23 L418.07 52.89 L418.76 53.58 L419.45 54.32 L420.14 55.15 L420.84 56.08 L421.53 57.14 L422.22 58.35 L422.9 59.74 L423.56 61.31 L424.2 63.01 L424.86 64.81 L425.52 66.68 L426.22 68.58 L426.97 70.48 L427.77 72.33 L428.63 74.22 L429.55 76.18 L430.51 78.19 L431.51 80.21 L432.52 82.2 L433.53 84.12 L434.54 85.93 L435.52 87.6 L436.49 89.11 L437.44 90.48 L438.39 91.76 L439.34 92.97 L440.29 94.13 L441.27 95.28 L442.26 96.44 L443.28 97.65 L444.32 98.91 L445.37 100.19 L446.43 101.48 L447.51 102.76 L448.62 104.02 L449.75 105.22 L450.93 106.37 L452.15 107.43 L453.39 108.36 L454.61 109.15 L455.85 109.85 L457.14 110.52 L458.5 111.21 L459.95 111.97 L461.52 112.86 L463.24 113.92 L465.26 115.26 L467.62 116.87 L470.18 118.63 L472.8 120.45 L475.33 122.22 L477.63 123.83 L479.56 125.18 L480.97 126.17" fill="none" stroke="#f08a3c" stroke-width="1.2" stroke-linejoin="round"/>
<circle cx="335.76" cy="82.66" r="1.5" fill="#ee7d2a"/>
<circle cx="339.45" cy="63.38" r="1.5" fill="#ee7d2a"/>
<circle cx="343.15" cy="47.38" r="1.5" fill="#ee7d2a"/>
<circle cx="346.84" cy="36.78" r="1.5" fill="#ee7d2a"/>
<circle cx="350.54" cy="35.04" r="1.5" fill="#ee7d2a"/>
<circle cx="354.24" cy="44.09" r="1.5" fill="#ee7d2a"/>
<circle cx="357.93" cy="57.44" r="1.5" fill="#ee7d2a"/>
<circle cx="361.62" cy="71.15" r="1.5" fill="#ee7d2a"/>
<circle cx="365.32" cy="78.11" r="1.5" fill="#ee7d2a"/>
<circle cx="369.01" cy="82.3" r="1.5" fill="#ee7d2a"/>
<circle cx="372.71" cy="81.68" r="1.5" fill="#ee7d2a"/>
<circle cx="376.4" cy="79.37" r="1.5" fill="#ee7d2a"/>
<circle cx="380.1" cy="78.25" r="1.5" fill="#ee7d2a"/>
<circle cx="383.79" cy="78.73" r="1.5" fill="#ee7d2a"/>
<circle cx="387.49" cy="79.88" r="1.5" fill="#ee7d2a"/>
<circle cx="391.19" cy="79.36" r="1.5" fill="#ee7d2a"/>
<circle cx="394.88" cy="76.63" r="1.5" fill="#ee7d2a"/>
<circle cx="398.57" cy="66.6" r="1.5" fill="#ee7d2a"/>
<circle cx="402.27" cy="57.97" r="1.5" fill="#ee7d2a"/>
<circle cx="405.96" cy="51.09" r="1.5" fill="#ee7d2a"/>
<circle cx="409.66" cy="48.13" r="1.5" fill="#ee7d2a"/>
<circle cx="413.36" cy="48.72" r="1.5" fill="#ee7d2a"/>
<circle cx="417.05" cy="51.93" r="1.5" fill="#ee7d2a"/>
<circle cx="420.75" cy="55.95" r="1.5" fill="#ee7d2a"/>
<circle cx="424.44" cy="63.66" r="1.5" fill="#ee7d2a"/>
<circle cx="428.13" cy="73.14" r="1.5" fill="#ee7d2a"/>
<circle cx="431.83" cy="80.85" r="1.5" fill="#ee7d2a"/>
<circle cx="435.52" cy="87.6" r="1.5" fill="#ee7d2a"/>
<circle cx="439.22" cy="92.82" r="1.5" fill="#ee7d2a"/>
<circle cx="442.91" cy="97.22" r="1.5" fill="#ee7d2a"/>
<circle cx="446.61" cy="101.7" r="1.5" fill="#ee7d2a"/>
<circle cx="450.3" cy="105.76" r="1.5" fill="#ee7d2a"/>
<circle cx="454" cy="108.76" r="1.5" fill="#ee7d2a"/>
<circle cx="457.69" cy="110.8" r="1.5" fill="#ee7d2a"/>
<circle cx="461.39" cy="112.78" r="1.5" fill="#ee7d2a"/>
<circle cx="465.08" cy="115.15" r="1.5" fill="#ee7d2a"/>
<circle cx="468.78" cy="117.67" r="1.5" fill="#ee7d2a"/>
<circle cx="472.48" cy="120.23" r="1.5" fill="#ee7d2a"/>
<circle cx="476.17" cy="122.81" r="1.5" fill="#ee7d2a"/>
<circle cx="479.87" cy="125.4" r="1.5" fill="#ee7d2a"/>
<path d="M327.63 95.82 L328.08 95.22 L328.68 94.4 L329.38 93.43 L330.17 92.35 L331.01 91.24 L331.87 90.16 L332.73 89.17 L333.54 88.33 L334.34 87.61 L335.15 86.95 L335.97 86.34 L336.8 85.77 L337.64 85.25 L338.49 84.77 L339.34 84.34 L340.19 83.94 L341.05 83.6 L341.92 83.32 L342.8 83.08 L343.68 82.89 L344.57 82.73 L345.45 82.58 L346.33 82.44 L347.21 82.3 L348.09 82.16 L348.95 82.05 L349.81 81.96 L350.68 81.87 L351.55 81.8 L352.43 81.73 L353.32 81.65 L354.24 81.57 L355.17 81.5 L356.11 81.46 L357.07 81.43 L358.05 81.39 L359.03 81.34 L360.01 81.24 L361 81.07 L361.99 80.83 L363 80.49 L364.03 80.04 L365.06 79.53 L366.11 78.98 L367.14 78.42 L368.16 77.88 L369.16 77.4 L370.12 77 L371.06 76.65 L371.97 76.3 L372.85 75.99 L373.73 75.7 L374.59 75.48 L375.44 75.32 L376.29 75.24 L377.14 75.26 L378.01 75.39 L378.88 75.64 L379.76 75.97 L380.63 76.37 L381.48 76.81 L382.3 77.27 L383.07 77.74 L383.79 78.18 L384.43 78.63 L384.98 79.11 L385.47 79.61 L385.94 80.12 L386.42 80.64 L386.94 81.15 L387.53 81.64 L388.23 82.11 L389.04 82.61 L389.94 83.16 L390.9 83.72 L391.9 84.26 L392.93 84.75 L393.97 85.14 L395 85.4 L395.99 85.5 L396.95 85.43 L397.91 85.23 L398.87 84.91 L399.82 84.5 L400.78 83.99 L401.76 83.42 L402.74 82.79 L403.75 82.11 L404.77 81.4 L405.81 80.65 L406.86 79.83 L407.93 78.94 L409 77.97 L410.08 76.91 L411.16 75.73 L412.25 74.44 L413.34 72.97 L414.46 71.32 L415.59 69.53 L416.73 67.67 L417.85 65.77 L418.97 63.88 L420.06 62.06 L421.11 60.36 L422.13 58.76 L423.11 57.21 L424.06 55.69 L424.99 54.21 L425.93 52.74 L426.88 51.29 L427.86 49.84 L428.87 48.39 L429.95 46.86 L431.09 45.26 L432.26 43.63 L433.45 42.02 L434.61 40.49 L435.73 39.11 L436.79 37.91 L437.74 36.96 L438.58 36.25 L439.31 35.71 L439.97 35.34 L440.58 35.12 L441.19 35.03 L441.82 35.08 L442.51 35.24 L443.28 35.5 L444.15 35.86 L445.07 36.34 L446.03 36.94 L447.03 37.67 L448.04 38.52 L449.05 39.5 L450.06 40.63 L451.04 41.9 L452.02 43.35 L453.02 45 L454.02 46.81 L455.02 48.75 L456 50.77 L456.97 52.84 L457.9 54.92 L458.8 56.98 L459.67 59.09 L460.51 61.33 L461.33 63.63 L462.13 65.96 L462.9 68.25 L463.65 70.47 L464.38 72.54 L465.08 74.44 L465.77 76.13 L466.42 77.66 L467.06 79.08 L467.67 80.4 L468.26 81.67 L468.83 82.92 L469.37 84.18 L469.89 85.5 L470.4 86.91 L470.9 88.41 L471.39 89.94 L471.85 91.44 L472.28 92.86 L472.65 94.13 L472.97 95.2 L473.21 96.01" fill="none" stroke="#1aa7e8" stroke-width="1.2" stroke-linejoin="round"/>
<circle cx="328.37" cy="94.83" r="1.5" fill="#139ee0"/>
<circle cx="332.06" cy="89.94" r="1.5" fill="#139ee0"/>
<circle cx="335.76" cy="86.49" r="1.5" fill="#139ee0"/>
<circle cx="339.45" cy="84.28" r="1.5" fill="#139ee0"/>
<circle cx="343.15" cy="83.01" r="1.5" fill="#139ee0"/>
<circle cx="346.84" cy="82.36" r="1.5" fill="#139ee0"/>
<circle cx="350.54" cy="81.89" r="1.5" fill="#139ee0"/>
<circle cx="354.24" cy="81.57" r="1.5" fill="#139ee0"/>
<circle cx="357.93" cy="81.4" r="1.5" fill="#139ee0"/>
<circle cx="361.62" cy="80.92" r="1.5" fill="#139ee0"/>
<circle cx="365.32" cy="79.39" r="1.5" fill="#139ee0"/>
<circle cx="369.01" cy="77.47" r="1.5" fill="#139ee0"/>
<circle cx="372.71" cy="76.04" r="1.5" fill="#139ee0"/>
<circle cx="376.4" cy="75.24" r="1.5" fill="#139ee0"/>
<circle cx="380.1" cy="76.12" r="1.5" fill="#139ee0"/>
<circle cx="383.79" cy="78.18" r="1.5" fill="#139ee0"/>
<circle cx="387.49" cy="81.61" r="1.5" fill="#139ee0"/>
<circle cx="391.19" cy="83.88" r="1.5" fill="#139ee0"/>
<circle cx="394.88" cy="85.37" r="1.5" fill="#139ee0"/>
<circle cx="398.57" cy="85.01" r="1.5" fill="#139ee0"/>
<circle cx="402.27" cy="83.09" r="1.5" fill="#139ee0"/>
<circle cx="405.96" cy="80.53" r="1.5" fill="#139ee0"/>
<circle cx="409.66" cy="77.32" r="1.5" fill="#139ee0"/>
<circle cx="413.36" cy="72.95" r="1.5" fill="#139ee0"/>
<circle cx="417.05" cy="67.12" r="1.5" fill="#139ee0"/>
<circle cx="420.75" cy="60.96" r="1.5" fill="#139ee0"/>
<circle cx="424.44" cy="55.09" r="1.5" fill="#139ee0"/>
<circle cx="428.13" cy="49.45" r="1.5" fill="#139ee0"/>
<circle cx="431.83" cy="44.23" r="1.5" fill="#139ee0"/>
<circle cx="435.52" cy="39.36" r="1.5" fill="#139ee0"/>
<circle cx="439.22" cy="35.78" r="1.5" fill="#139ee0"/>
<circle cx="442.91" cy="35.38" r="1.5" fill="#139ee0"/>
<circle cx="446.61" cy="37.36" r="1.5" fill="#139ee0"/>
<circle cx="450.3" cy="40.95" r="1.5" fill="#139ee0"/>
<circle cx="454" cy="46.78" r="1.5" fill="#139ee0"/>
<circle cx="457.69" cy="54.46" r="1.5" fill="#139ee0"/>
<circle cx="461.39" cy="63.8" r="1.5" fill="#139ee0"/>
<circle cx="465.08" cy="74.44" r="1.5" fill="#139ee0"/>
<circle cx="468.78" cy="82.82" r="1.5" fill="#139ee0"/>
<circle cx="472.48" cy="93.53" r="1.5" fill="#139ee0"/>
<path d="M335.39 126.9 L335.97 123.64 L336.74 119.29 L337.65 114.11 L338.67 108.36 L339.74 102.3 L340.81 96.19 L341.84 90.29 L342.78 84.86 L343.65 79.57 L344.51 74.03 L345.36 68.41 L346.2 62.89 L347.02 57.63 L347.84 52.81 L348.64 48.61 L349.43 45.19 L350.21 42.65 L350.97 40.86 L351.72 39.67 L352.46 38.92 L353.19 38.47 L353.91 38.16 L354.63 37.83 L355.34 37.33 L356.04 36.74 L356.72 36.23 L357.38 35.81 L358.05 35.48 L358.72 35.24 L359.41 35.09 L360.12 35.02 L360.89 35.04 L361.69 35.17 L362.54 35.41 L363.41 35.75 L364.3 36.17 L365.21 36.66 L366.12 37.21 L367.02 37.8 L367.91 38.42 L368.77 39.11 L369.62 39.9 L370.46 40.75 L371.3 41.65 L372.16 42.57 L373.04 43.48 L373.96 44.36 L374.93 45.19 L375.93 45.98 L376.96 46.79 L378.02 47.59 L379.11 48.36 L380.23 49.11 L381.38 49.82 L382.57 50.46 L383.79 51.04 L385.09 51.52 L386.45 51.9 L387.87 52.21 L389.31 52.49 L390.76 52.75 L392.19 53.04 L393.57 53.37 L394.88 53.78 L396.13 54.27 L397.35 54.8 L398.53 55.38 L399.68 55.98 L400.82 56.59 L401.93 57.2 L403.03 57.79 L404.12 58.35 L405.16 58.85 L406.15 59.3 L407.1 59.73 L408.04 60.15 L409 60.61 L410.01 61.12 L411.08 61.73 L412.25 62.46 L413.53 63.31 L414.91 64.23 L416.36 65.24 L417.86 66.31 L419.37 67.44 L420.86 68.63 L422.32 69.87 L423.7 71.15 L425.02 72.47 L426.31 73.85 L427.57 75.28 L428.8 76.76 L430.03 78.3 L431.24 79.88 L432.46 81.52 L433.68 83.21 L434.91 85.06 L436.15 87.13 L437.39 89.31 L438.62 91.51 L439.83 93.63 L441.02 95.58 L442.17 97.26 L443.28 98.57 L444.36 99.54 L445.41 100.27 L446.43 100.79 L447.42 101.11 L448.38 101.24 L449.3 101.2 L450.19 101 L451.04 100.67 L451.84 100.18 L452.59 99.53 L453.28 98.71 L453.95 97.72 L454.61 96.57 L455.25 95.26 L455.91 93.79 L456.59 92.17 L457.32 90.19 L458.1 87.76 L458.91 85.07 L459.7 82.27 L460.46 79.53 L461.13 77.04 L461.7 74.95 L462.13 73.43" fill="none" stroke="#fdfa6e" stroke-width="1.2" stroke-linejoin="round"/>
<circle cx="335.76" cy="124.81" r="0.9" fill="#f7f160"/>
<circle cx="339.45" cy="103.9" r="0.9" fill="#f7f160"/>
<circle cx="343.15" cy="82.61" r="0.9" fill="#f7f160"/>
<circle cx="346.84" cy="58.77" r="0.9" fill="#f7f160"/>
<circle cx="350.54" cy="41.87" r="0.9" fill="#f7f160"/>
<circle cx="354.24" cy="38.01" r="0.9" fill="#f7f160"/>
<circle cx="357.93" cy="35.54" r="0.9" fill="#f7f160"/>
<circle cx="361.62" cy="35.16" r="0.9" fill="#f7f160"/>
<circle cx="365.32" cy="36.73" r="0.9" fill="#f7f160"/>
<circle cx="369.01" cy="39.34" r="0.9" fill="#f7f160"/>
<circle cx="372.71" cy="43.14" r="0.9" fill="#f7f160"/>
<circle cx="376.4" cy="46.35" r="0.9" fill="#f7f160"/>
<circle cx="380.1" cy="49.03" r="0.9" fill="#f7f160"/>
<circle cx="383.79" cy="51.04" r="0.9" fill="#f7f160"/>
<circle cx="387.49" cy="52.13" r="0.9" fill="#f7f160"/>
<circle cx="391.19" cy="52.84" r="0.9" fill="#f7f160"/>
<circle cx="394.88" cy="53.78" r="0.9" fill="#f7f160"/>
<circle cx="398.57" cy="55.4" r="0.9" fill="#f7f160"/>
<circle cx="402.27" cy="57.38" r="0.9" fill="#f7f160"/>
<circle cx="405.96" cy="59.22" r="0.9" fill="#f7f160"/>
<circle cx="409.66" cy="60.95" r="0.9" fill="#f7f160"/>
<circle cx="413.36" cy="63.19" r="0.9" fill="#f7f160"/>
<circle cx="417.05" cy="65.73" r="0.9" fill="#f7f160"/>
<circle cx="420.75" cy="68.54" r="0.9" fill="#f7f160"/>
<circle cx="424.44" cy="71.89" r="0.9" fill="#f7f160"/>
<circle cx="428.13" cy="75.96" r="0.9" fill="#f7f160"/>
<circle cx="431.83" cy="80.67" r="0.9" fill="#f7f160"/>
<circle cx="435.52" cy="86.09" r="0.9" fill="#f7f160"/>
<circle cx="439.22" cy="92.56" r="0.9" fill="#f7f160"/>
<circle cx="442.91" cy="98.13" r="0.9" fill="#f7f160"/>
<circle cx="446.61" cy="100.85" r="0.9" fill="#f7f160"/>
<circle cx="450.3" cy="100.96" r="0.9" fill="#f7f160"/>
<circle cx="454" cy="97.64" r="0.9" fill="#f7f160"/>
<circle cx="457.69" cy="89.02" r="0.9" fill="#f7f160"/>
<circle cx="461.39" cy="76.09" r="0.9" fill="#f7f160"/>
<path d="M312.85 111 L313.19 110.64 L313.59 110.24 L314.07 109.77 L314.63 109.21 L315.26 108.52 L315.98 107.68 L316.77 106.65 L317.65 105.42 L318.64 103.91 L319.75 102.12 L320.95 100.13 L322.23 97.99 L323.55 95.78 L324.91 93.57 L326.28 91.43 L327.63 89.43 L329.01 87.51 L330.47 85.6 L331.96 83.7 L333.47 81.83 L334.97 79.99 L336.42 78.2 L337.8 76.47 L339.09 74.8 L340.27 73.21 L341.38 71.69 L342.43 70.23 L343.43 68.81 L344.39 67.43 L345.34 66.07 L346.27 64.72 L347.21 63.38 L348.14 62.02 L349.03 60.67 L349.9 59.33 L350.75 58.01 L351.6 56.73 L352.45 55.5 L353.33 54.33 L354.24 53.23 L355.17 52.23 L356.11 51.33 L357.07 50.5 L358.05 49.72 L359.03 48.95 L360.01 48.17 L361 47.35 L361.99 46.47 L362.99 45.49 L363.97 44.44 L364.97 43.34 L365.97 42.24 L366.98 41.16 L368 40.14 L369.05 39.22 L370.12 38.42 L371.24 37.74 L372.41 37.13 L373.6 36.59 L374.81 36.12 L376.01 35.73 L377.18 35.42 L378.3 35.19 L379.36 35.04 L380.35 34.99 L381.28 35.04 L382.17 35.17 L383.03 35.38 L383.87 35.66 L384.7 35.99 L385.54 36.37 L386.38 36.78 L387.23 37.23 L388.06 37.73 L388.89 38.27 L389.71 38.88 L390.53 39.54 L391.35 40.26 L392.19 41.04 L393.03 41.9 L393.91 42.85 L394.83 43.9 L395.77 45.02 L396.7 46.21 L397.62 47.42 L398.5 48.65 L399.31 49.86 L400.05 51.04 L400.67 52.17 L401.18 53.27 L401.62 54.36 L402.02 55.45 L402.43 56.58 L402.88 57.76 L403.44 59.01 L404.12 60.36 L404.93 61.82 L405.85 63.39 L406.84 65.03 L407.88 66.72 L408.97 68.44 L410.07 70.15 L411.17 71.82 L412.25 73.43 L413.3 74.94 L414.36 76.35 L415.42 77.72 L416.5 79.09 L417.59 80.5 L418.72 82.01 L419.89 83.66 L421.11 85.5 L422.47 87.68 L423.99 90.22 L425.6 92.98 L427.21 95.8 L428.76 98.52 L430.16 101 L431.33 103.08 L432.2 104.6" fill="none" stroke="#ffea00" stroke-width="1.2" stroke-linejoin="round"/>
<circle cx="313.59" cy="110.24" r="1.5" fill="#fce200"/>
<circle cx="317.28" cy="105.94" r="1.5" fill="#fce200"/>
<circle cx="320.98" cy="100.08" r="1.5" fill="#fce200"/>
<circle cx="324.68" cy="93.96" r="1.5" fill="#fce200"/>
<circle cx="328.37" cy="88.4" r="1.5" fill="#fce200"/>
<circle cx="332.06" cy="83.58" r="1.5" fill="#fce200"/>
<circle cx="335.76" cy="79.02" r="1.5" fill="#fce200"/>
<circle cx="339.45" cy="74.31" r="1.5" fill="#fce200"/>
<circle cx="343.15" cy="69.2" r="1.5" fill="#fce200"/>
<circle cx="346.84" cy="63.91" r="1.5" fill="#fce200"/>
<circle cx="350.54" cy="58.33" r="1.5" fill="#fce200"/>
<circle cx="354.24" cy="53.23" r="1.5" fill="#fce200"/>
<circle cx="357.93" cy="49.81" r="1.5" fill="#fce200"/>
<circle cx="361.62" cy="46.8" r="1.5" fill="#fce200"/>
<circle cx="365.32" cy="42.95" r="1.5" fill="#fce200"/>
<circle cx="369.01" cy="39.25" r="1.5" fill="#fce200"/>
<circle cx="372.71" cy="36.99" r="1.5" fill="#fce200"/>
<circle cx="376.4" cy="35.63" r="1.5" fill="#fce200"/>
<circle cx="380.1" cy="35" r="1.5" fill="#fce200"/>
<circle cx="383.79" cy="35.63" r="1.5" fill="#fce200"/>
<circle cx="387.49" cy="37.39" r="1.5" fill="#fce200"/>
<circle cx="391.19" cy="40.11" r="1.5" fill="#fce200"/>
<circle cx="394.88" cy="43.95" r="1.5" fill="#fce200"/>
<circle cx="398.57" cy="48.76" r="1.5" fill="#fce200"/>
<circle cx="402.27" cy="56.15" r="1.5" fill="#fce200"/>
<circle cx="405.96" cy="63.59" r="1.5" fill="#fce200"/>
<circle cx="409.66" cy="69.52" r="1.5" fill="#fce200"/>
<circle cx="413.36" cy="75.01" r="1.5" fill="#fce200"/>
<circle cx="417.05" cy="79.8" r="1.5" fill="#fce200"/>
<circle cx="420.75" cy="84.94" r="1.5" fill="#fce200"/>
<circle cx="424.44" cy="91" r="1.5" fill="#fce200"/>
<circle cx="428.13" cy="97.43" r="1.5" fill="#fce200"/>
<circle cx="431.83" cy="103.95" r="1.5" fill="#fce200"/>
<line x1="499.1" y1="62.7" x2="511.1" y2="62.7" stroke="#8b5a1e" stroke-width="0.95"/>
<circle cx="505.3" cy="62.7" r="1.6" fill="#7a4a14"/>
<text x="511.6" y="64.86" font-size="6.0" fill="#262626" class="t" textLength="18.13" lengthAdjust="spacingAndGlyphs">OF_C2</text>
<line x1="499.1" y1="72.5" x2="511.1" y2="72.5" stroke="#f08a3c" stroke-width="0.95"/>
<circle cx="505.3" cy="72.5" r="1.6" fill="#ee7d2a"/>
<text x="511.6" y="74.66" font-size="6.0" fill="#262626" class="t" textLength="20.31" lengthAdjust="spacingAndGlyphs">OF_NW</text>
<line x1="499.1" y1="82.3" x2="511.1" y2="82.3" stroke="#1aa7e8" stroke-width="0.95"/>
<circle cx="505.3" cy="82.3" r="1.6" fill="#139ee0"/>
<text x="511.6" y="84.46" font-size="6.0" fill="#262626" class="t" textLength="23.44" lengthAdjust="spacingAndGlyphs">OF_WC1</text>
<line x1="499.1" y1="92.1" x2="511.1" y2="92.1" stroke="#fdfa6e" stroke-width="0.95"/>
<circle cx="505.3" cy="92.1" r="1.6" fill="#f7f160"/>
<text x="511.6" y="94.26" font-size="6.0" fill="#262626" class="t" textLength="23.44" lengthAdjust="spacingAndGlyphs">OF_WC2</text>
<line x1="499.1" y1="101.9" x2="511.1" y2="101.9" stroke="#ffea00" stroke-width="0.95"/>
<circle cx="505.3" cy="101.9" r="1.6" fill="#fce200"/>
<text x="511.6" y="104.06" font-size="6.0" fill="#262626" class="t" textLength="36.12" lengthAdjust="spacingAndGlyphs">OF_SC1+SC2</text>
<line x1="28.4" y1="169.56" x2="28.4" y2="280.8" stroke="#d9d9d9" stroke-width="0.8"/>
<line x1="28.4" y1="280.8" x2="212.8" y2="280.8" stroke="#d9d9d9" stroke-width="0.8"/>
<text x="23" y="283.25" font-size="5.7" fill="#404040" class="t" text-anchor="end">0</text>
<text x="23" y="264.71" font-size="5.7" fill="#404040" class="t" text-anchor="end">20</text>
<text x="23" y="246.17" font-size="5.7" fill="#404040" class="t" text-anchor="end">40</text>
<text x="23" y="227.63" font-size="5.7" fill="#404040" class="t" text-anchor="end">60</text>
<text x="23" y="209.09" font-size="5.7" fill="#404040" class="t" text-anchor="end">80</text>
<text x="23" y="190.55" font-size="5.7" fill="#404040" class="t" text-anchor="end">100</text>
<text x="23" y="172.01" font-size="5.7" fill="#404040" class="t" text-anchor="end">120</text>
<text x="28.4" y="290.35" font-size="5.7" fill="#404040" class="t" text-anchor="middle">0</text>
<text x="74.5" y="290.35" font-size="5.7" fill="#404040" class="t" text-anchor="middle">20</text>
<text x="120.6" y="290.35" font-size="5.7" fill="#404040" class="t" text-anchor="middle">40</text>
<text x="166.7" y="290.35" font-size="5.7" fill="#404040" class="t" text-anchor="middle">60</text>
<text x="212.8" y="290.35" font-size="5.7" fill="#404040" class="t" text-anchor="middle">80</text>
<text x="136.2" y="163.25" font-size="6.3" font-weight="bold" fill="#262626" text-anchor="middle" textLength="77.4" lengthAdjust="spacingAndGlyphs">PINE AND OAK FOREST</text>
<text x="120.9" y="298.7" font-size="6.2" font-weight="bold" fill="#262626" text-anchor="middle" textLength="42.7" lengthAdjust="spacingAndGlyphs">AGCD (Mg/ha)</text>
<text transform="translate(10,225) rotate(-90)" font-size="5.4" font-weight="bold" fill="#262626" text-anchor="middle" textLength="59" lengthAdjust="spacingAndGlyphs">Relativized KD FRPN (%)</text>
<path d="M39 236.95 L39.64 237.74 L40.47 238.84 L41.46 240.14 L42.56 241.57 L43.74 243.03 L44.95 244.43 L46.15 245.68 L47.3 246.69 L48.44 247.52 L49.61 248.3 L50.81 249.01 L52.03 249.61 L53.24 250.1 L54.44 250.46 L55.62 250.65 L56.75 250.67 L57.87 250.49 L58.99 250.11 L60.1 249.57 L61.19 248.9 L62.24 248.12 L63.25 247.27 L64.19 246.38 L65.05 245.48 L65.82 244.55 L66.5 243.55 L67.12 242.49 L67.69 241.37 L68.23 240.19 L68.76 238.95 L69.31 237.65 L69.89 236.3 L70.49 234.91 L71.09 233.48 L71.7 231.99 L72.3 230.45 L72.9 228.83 L73.5 227.15 L74.11 225.37 L74.73 223.51 L75.36 221.5 L76.01 219.32 L76.67 217.03 L77.32 214.68 L77.97 212.32 L78.61 210 L79.22 207.78 L79.8 205.71 L80.35 203.73 L80.86 201.74 L81.36 199.79 L81.83 197.91 L82.3 196.15 L82.77 194.54 L83.24 193.11 L83.72 191.9 L84.22 190.93 L84.72 190.18 L85.23 189.6 L85.74 189.18 L86.24 188.87 L86.72 188.66 L87.19 188.5 L87.64 188.38 L88.05 188.3 L88.43 188.31 L88.79 188.41 L89.14 188.58 L89.48 188.83 L89.84 189.14 L90.22 189.52 L90.64 189.95 L91.09 190.47 L91.57 191.09 L92.08 191.78 L92.59 192.54 L93.11 193.34 L93.62 194.16 L94.1 194.98 L94.55 195.79 L94.97 196.61 L95.35 197.46 L95.7 198.32 L96.05 199.21 L96.4 200.1 L96.76 200.99 L97.14 201.87 L97.55 202.75 L98 203.6 L98.46 204.44 L98.95 205.28 L99.45 206.12 L99.96 206.96 L100.47 207.82 L100.97 208.7 L101.47 209.61 L101.96 210.57 L102.45 211.6 L102.94 212.66 L103.43 213.73 L103.92 214.77 L104.41 215.77 L104.9 216.68 L105.39 217.49 L105.84 218.16 L106.25 218.73 L106.64 219.21 L107.04 219.65 L107.48 220.06 L107.99 220.48 L108.58 220.94 L109.31 221.47 L110.15 222.07 L111.08 222.72 L112.1 223.4 L113.2 224.1 L114.35 224.79 L115.55 225.45 L116.79 226.09 L118.06 226.66 L119.36 227.16 L120.68 227.58 L122.05 227.95 L123.47 228.31 L124.94 228.68 L126.49 229.1 L128.11 229.59 L129.82 230.19 L131.68 230.85 L133.69 231.55 L135.81 232.29 L137.99 233.09 L140.17 233.97 L142.29 234.94 L144.32 236.02 L146.19 237.23 L147.88 238.61 L149.45 240.16 L150.93 241.84 L152.35 243.6 L153.75 245.4 L155.16 247.19 L156.63 248.93 L158.17 250.58 L159.89 252.22 L161.78 253.95 L163.75 255.69 L165.72 257.39 L167.6 258.99 L169.29 260.42 L170.71 261.63 L171.77 262.54" fill="none" stroke="#fdf47a" stroke-width="1.4" stroke-linejoin="round"/>
<circle cx="39.92" cy="238.12" r="1.1" fill="#f8ea60"/>
<circle cx="42.92" cy="242.02" r="1.1" fill="#f8ea60"/>
<circle cx="45.92" cy="245.43" r="1.1" fill="#f8ea60"/>
<circle cx="48.91" cy="247.84" r="1.1" fill="#f8ea60"/>
<circle cx="51.91" cy="249.55" r="1.1" fill="#f8ea60"/>
<circle cx="54.91" cy="250.53" r="1.1" fill="#f8ea60"/>
<circle cx="57.9" cy="250.48" r="1.1" fill="#f8ea60"/>
<circle cx="60.9" cy="249.08" r="1.1" fill="#f8ea60"/>
<circle cx="63.9" cy="246.66" r="1.1" fill="#f8ea60"/>
<circle cx="66.89" cy="242.88" r="1.1" fill="#f8ea60"/>
<circle cx="69.89" cy="236.3" r="1.1" fill="#f8ea60"/>
<circle cx="72.89" cy="228.87" r="1.1" fill="#f8ea60"/>
<circle cx="75.88" cy="219.74" r="1.1" fill="#f8ea60"/>
<circle cx="78.88" cy="209.02" r="1.1" fill="#f8ea60"/>
<circle cx="81.88" cy="197.75" r="1.1" fill="#f8ea60"/>
<circle cx="84.87" cy="190.01" r="1.1" fill="#f8ea60"/>
<circle cx="87.87" cy="188.34" r="1.1" fill="#f8ea60"/>
<circle cx="90.87" cy="190.22" r="1.1" fill="#f8ea60"/>
<circle cx="93.86" cy="194.57" r="1.1" fill="#f8ea60"/>
<circle cx="96.86" cy="201.22" r="1.1" fill="#f8ea60"/>
<circle cx="99.86" cy="206.79" r="1.1" fill="#f8ea60"/>
<circle cx="102.85" cy="212.47" r="1.1" fill="#f8ea60"/>
<circle cx="105.85" cy="218.17" r="1.1" fill="#f8ea60"/>
<circle cx="108.84" cy="221.13" r="1.1" fill="#f8ea60"/>
<circle cx="111.84" cy="223.23" r="1.1" fill="#f8ea60"/>
<circle cx="114.84" cy="225.06" r="1.1" fill="#f8ea60"/>
<circle cx="117.83" cy="226.56" r="1.1" fill="#f8ea60"/>
<circle cx="120.83" cy="227.62" r="1.1" fill="#f8ea60"/>
<circle cx="123.83" cy="228.4" r="1.1" fill="#f8ea60"/>
<circle cx="126.82" cy="229.2" r="1.1" fill="#f8ea60"/>
<circle cx="129.82" cy="230.19" r="1.1" fill="#f8ea60"/>
<circle cx="132.82" cy="231.25" r="1.1" fill="#f8ea60"/>
<circle cx="135.81" cy="232.29" r="1.1" fill="#f8ea60"/>
<circle cx="138.81" cy="233.43" r="1.1" fill="#f8ea60"/>
<circle cx="141.81" cy="234.72" r="1.1" fill="#f8ea60"/>
<circle cx="144.8" cy="236.34" r="1.1" fill="#f8ea60"/>
<circle cx="147.8" cy="238.54" r="1.1" fill="#f8ea60"/>
<circle cx="150.8" cy="241.68" r="1.1" fill="#f8ea60"/>
<circle cx="153.79" cy="245.45" r="1.1" fill="#f8ea60"/>
<circle cx="156.79" cy="249.11" r="1.1" fill="#f8ea60"/>
<circle cx="159.78" cy="252.13" r="1.1" fill="#f8ea60"/>
<circle cx="162.78" cy="254.84" r="1.1" fill="#f8ea60"/>
<circle cx="165.78" cy="257.44" r="1.1" fill="#f8ea60"/>
<circle cx="168.77" cy="259.99" r="1.1" fill="#f8ea60"/>
<path d="M34.16 240.75 L35.17 240.84 L36.5 240.95 L38.08 241.09 L39.84 241.23 L41.71 241.39 L43.63 241.56 L45.51 241.71 L47.3 241.87 L49.07 242.03 L50.91 242.23 L52.8 242.45 L54.69 242.65 L56.55 242.84 L58.35 242.98 L60.04 243.07 L61.59 243.07 L63.02 242.99 L64.38 242.83 L65.65 242.61 L66.85 242.35 L67.97 242.07 L69 241.77 L69.95 241.48 L70.81 241.22 L71.51 241.03 L72.02 240.93 L72.41 240.85 L72.73 240.76 L73.06 240.59 L73.45 240.29 L73.99 239.81 L74.73 239.09 L75.68 238.1 L76.79 236.87 L78.01 235.47 L79.31 233.94 L80.66 232.33 L82.02 230.68 L83.36 229.05 L84.64 227.5 L85.9 225.95 L87.19 224.34 L88.49 222.69 L89.79 221.04 L91.06 219.41 L92.29 217.84 L93.46 216.35 L94.55 214.98 L95.55 213.75 L96.47 212.65 L97.33 211.63 L98.14 210.67 L98.94 209.72 L99.75 208.76 L100.58 207.74 L101.47 206.64 L102.4 205.43 L103.34 204.13 L104.3 202.79 L105.27 201.43 L106.26 200.08 L107.26 198.77 L108.28 197.55 L109.31 196.44 L110.37 195.42 L111.47 194.44 L112.59 193.52 L113.73 192.66 L114.86 191.86 L115.97 191.14 L117.04 190.5 L118.06 189.95 L119.02 189.49 L119.92 189.09 L120.78 188.77 L121.62 188.53 L122.47 188.37 L123.33 188.29 L124.24 188.29 L125.21 188.38 L126.18 188.54 L127.12 188.77 L128.05 189.08 L129.03 189.48 L130.09 189.97 L131.28 190.56 L132.63 191.26 L134.2 192.09 L136.06 193.07 L138.2 194.23 L140.55 195.51 L143 196.89 L145.48 198.33 L147.89 199.78 L150.16 201.2 L152.18 202.56 L153.99 203.9 L155.7 205.28 L157.3 206.68 L158.82 208.07 L160.25 209.43 L161.62 210.75 L162.92 211.98 L164.16 213.13 L165.29 214.11 L166.24 214.94 L167.08 215.66 L167.88 216.34 L168.69 217.05 L169.57 217.85 L170.57 218.81 L171.77 219.99 L173.17 221.42 L174.74 223.05 L176.41 224.84 L178.17 226.72 L179.96 228.63 L181.74 230.54 L183.48 232.37 L185.14 234.08 L186.81 235.76 L188.56 237.5 L190.34 239.25 L192.08 240.94 L193.72 242.52 L195.19 243.94 L196.42 245.13 L197.36 246.04" fill="none" stroke="#7dc242" stroke-width="1.2" stroke-linejoin="round"/>
<circle cx="35.31" cy="240.85" r="1.5" fill="#6cb33a"/>
<circle cx="37.62" cy="241.05" r="1.5" fill="#6cb33a"/>
<circle cx="39.92" cy="241.24" r="1.5" fill="#6cb33a"/>
<circle cx="42.23" cy="241.44" r="1.5" fill="#6cb33a"/>
<circle cx="44.53" cy="241.63" r="1.5" fill="#6cb33a"/>
<circle cx="46.84" cy="241.83" r="1.5" fill="#6cb33a"/>
<circle cx="49.14" cy="242.04" r="1.5" fill="#6cb33a"/>
<circle cx="51.45" cy="242.29" r="1.5" fill="#6cb33a"/>
<circle cx="53.75" cy="242.55" r="1.5" fill="#6cb33a"/>
<circle cx="56.06" cy="242.79" r="1.5" fill="#6cb33a"/>
<circle cx="58.37" cy="242.98" r="1.5" fill="#6cb33a"/>
<circle cx="60.67" cy="243.07" r="1.5" fill="#6cb33a"/>
<circle cx="62.98" cy="242.99" r="1.5" fill="#6cb33a"/>
<circle cx="65.28" cy="242.68" r="1.5" fill="#6cb33a"/>
<circle cx="67.59" cy="242.16" r="1.5" fill="#6cb33a"/>
<circle cx="69.89" cy="241.5" r="1.5" fill="#6cb33a"/>
<circle cx="72.19" cy="240.89" r="1.5" fill="#6cb33a"/>
<circle cx="74.5" cy="239.31" r="1.5" fill="#6cb33a"/>
<circle cx="76.81" cy="236.85" r="1.5" fill="#6cb33a"/>
<circle cx="79.11" cy="234.18" r="1.5" fill="#6cb33a"/>
<circle cx="81.41" cy="231.42" r="1.5" fill="#6cb33a"/>
<circle cx="83.72" cy="228.62" r="1.5" fill="#6cb33a"/>
<circle cx="86.03" cy="225.79" r="1.5" fill="#6cb33a"/>
<circle cx="88.33" cy="222.89" r="1.5" fill="#6cb33a"/>
<circle cx="90.64" cy="219.95" r="1.5" fill="#6cb33a"/>
<circle cx="92.94" cy="217.01" r="1.5" fill="#6cb33a"/>
<circle cx="95.25" cy="214.13" r="1.5" fill="#6cb33a"/>
<circle cx="97.55" cy="211.36" r="1.5" fill="#6cb33a"/>
<circle cx="99.85" cy="208.62" r="1.5" fill="#6cb33a"/>
<circle cx="102.16" cy="205.74" r="1.5" fill="#6cb33a"/>
<circle cx="104.47" cy="202.56" r="1.5" fill="#6cb33a"/>
<circle cx="106.77" cy="199.41" r="1.5" fill="#6cb33a"/>
<circle cx="109.08" cy="196.69" r="1.5" fill="#6cb33a"/>
<circle cx="111.38" cy="194.52" r="1.5" fill="#6cb33a"/>
<circle cx="113.69" cy="192.69" r="1.5" fill="#6cb33a"/>
<circle cx="115.99" cy="191.13" r="1.5" fill="#6cb33a"/>
<circle cx="118.3" cy="189.84" r="1.5" fill="#6cb33a"/>
<circle cx="120.6" cy="188.84" r="1.5" fill="#6cb33a"/>
<circle cx="122.91" cy="188.33" r="1.5" fill="#6cb33a"/>
<circle cx="125.21" cy="188.38" r="1.5" fill="#6cb33a"/>
<circle cx="127.52" cy="188.91" r="1.5" fill="#6cb33a"/>
<circle cx="129.82" cy="189.84" r="1.5" fill="#6cb33a"/>
<circle cx="132.12" cy="191" r="1.5" fill="#6cb33a"/>
<circle cx="134.43" cy="192.21" r="1.5" fill="#6cb33a"/>
<circle cx="136.74" cy="193.44" r="1.5" fill="#6cb33a"/>
<circle cx="139.04" cy="194.69" r="1.5" fill="#6cb33a"/>
<circle cx="141.34" cy="195.96" r="1.5" fill="#6cb33a"/>
<circle cx="143.65" cy="197.27" r="1.5" fill="#6cb33a"/>
<circle cx="145.96" cy="198.61" r="1.5" fill="#6cb33a"/>
<circle cx="148.26" cy="200.01" r="1.5" fill="#6cb33a"/>
<circle cx="150.56" cy="201.48" r="1.5" fill="#6cb33a"/>
<circle cx="164.4" cy="213.33" r="1.5" fill="#6cb33a"/>
<circle cx="171.31" cy="219.53" r="1.5" fill="#6cb33a"/>
<circle cx="185.14" cy="234.08" r="1.5" fill="#6cb33a"/>
<circle cx="197.36" cy="246.04" r="1.5" fill="#6cb33a"/>
<path d="M42.46 280.8 L43.09 278.17 L43.93 274.6 L44.92 270.33 L46.03 265.64 L47.21 260.78 L48.42 256.01 L49.62 251.6 L50.76 247.8 L51.9 244.5 L53.1 241.4 L54.34 238.5 L55.58 235.77 L56.8 233.2 L57.96 230.79 L59.03 228.52 L59.98 226.39 L60.79 224.45 L61.49 222.74 L62.1 221.23 L62.66 219.84 L63.18 218.54 L63.7 217.27 L64.23 215.98 L64.82 214.61 L65.44 213.19 L66.08 211.77 L66.71 210.36 L67.35 208.96 L68 207.59 L68.63 206.25 L69.27 204.94 L69.89 203.67 L70.5 202.44 L71.11 201.22 L71.71 200.03 L72.31 198.88 L72.91 197.76 L73.51 196.7 L74.12 195.7 L74.73 194.77 L75.35 193.91 L75.96 193.09 L76.57 192.33 L77.19 191.62 L77.82 190.97 L78.46 190.39 L79.12 189.86 L79.8 189.4 L80.51 189 L81.26 188.65 L82.03 188.36 L82.81 188.13 L83.59 187.97 L84.36 187.88 L85.09 187.86 L85.79 187.91 L86.47 188.07 L87.13 188.32 L87.78 188.66 L88.4 189.06 L89.01 189.51 L89.58 189.97 L90.13 190.44 L90.64 190.88 L91.08 191.26 L91.45 191.58 L91.77 191.88 L92.08 192.21 L92.39 192.62 L92.73 193.15 L93.14 193.85 L93.63 194.77 L94.22 195.91 L94.89 197.23 L95.62 198.69 L96.38 200.29 L97.16 202 L97.94 203.82 L98.69 205.71 L99.39 207.66 L100.06 209.76 L100.72 212.07 L101.36 214.51 L101.99 217.02 L102.61 219.53 L103.23 221.98 L103.85 224.28 L104.47 226.39 L105.09 228.29 L105.71 230.06 L106.33 231.73 L106.94 233.31 L107.55 234.84 L108.15 236.32 L108.74 237.79 L109.31 239.27 L109.82 240.73 L110.27 242.12 L110.68 243.48 L111.09 244.81 L111.54 246.13 L112.06 247.46 L112.69 248.82 L113.45 250.21 L114.37 251.66 L115.4 253.15 L116.53 254.66 L117.73 256.18 L118.99 257.69 L120.29 259.18 L121.6 260.61 L122.91 261.98 L124.22 263.31 L125.58 264.63 L126.97 265.92 L128.39 267.17 L129.83 268.37 L131.28 269.51 L132.74 270.56 L134.2 271.53 L135.75 272.42 L137.43 273.24 L139.17 273.99 L140.9 274.68 L142.54 275.29 L144.02 275.82 L145.26 276.27 L146.19 276.63" fill="none" stroke="#fdf47a" stroke-width="1.3" stroke-linejoin="round"/>
<circle cx="45.23" cy="269.05" r="1.1" fill="#f8ea60"/>
<circle cx="48.22" cy="256.8" r="1.1" fill="#f8ea60"/>
<circle cx="51.22" cy="246.46" r="1.1" fill="#f8ea60"/>
<circle cx="54.22" cy="238.79" r="1.1" fill="#f8ea60"/>
<circle cx="57.21" cy="232.34" r="1.1" fill="#f8ea60"/>
<circle cx="60.21" cy="225.84" r="1.1" fill="#f8ea60"/>
<circle cx="63.21" cy="218.48" r="1.1" fill="#f8ea60"/>
<circle cx="66.2" cy="211.49" r="1.1" fill="#f8ea60"/>
<circle cx="69.2" cy="205.08" r="1.1" fill="#f8ea60"/>
<circle cx="72.2" cy="199.1" r="1.1" fill="#f8ea60"/>
<circle cx="75.19" cy="194.13" r="1.1" fill="#f8ea60"/>
<circle cx="78.19" cy="190.64" r="1.1" fill="#f8ea60"/>
<circle cx="81.18" cy="188.68" r="1.1" fill="#f8ea60"/>
<circle cx="84.18" cy="187.9" r="1.1" fill="#f8ea60"/>
<circle cx="87.18" cy="188.35" r="1.1" fill="#f8ea60"/>
<circle cx="90.17" cy="190.48" r="1.1" fill="#f8ea60"/>
<circle cx="93.17" cy="193.91" r="1.1" fill="#f8ea60"/>
<circle cx="96.17" cy="199.84" r="1.1" fill="#f8ea60"/>
<circle cx="99.16" cy="207.02" r="1.1" fill="#f8ea60"/>
<circle cx="102.16" cy="217.72" r="1.1" fill="#f8ea60"/>
<circle cx="105.16" cy="228.49" r="1.1" fill="#f8ea60"/>
<circle cx="108.15" cy="236.33" r="1.1" fill="#f8ea60"/>
<circle cx="111.15" cy="244.98" r="1.1" fill="#f8ea60"/>
<circle cx="114.15" cy="251.3" r="1.1" fill="#f8ea60"/>
<circle cx="117.14" cy="255.44" r="1.1" fill="#f8ea60"/>
<circle cx="120.14" cy="259" r="1.1" fill="#f8ea60"/>
<circle cx="123.14" cy="262.21" r="1.1" fill="#f8ea60"/>
<circle cx="126.13" cy="265.14" r="1.1" fill="#f8ea60"/>
<circle cx="129.13" cy="267.79" r="1.1" fill="#f8ea60"/>
<circle cx="132.12" cy="270.12" r="1.1" fill="#f8ea60"/>
<circle cx="135.12" cy="272.06" r="1.1" fill="#f8ea60"/>
<circle cx="138.12" cy="273.54" r="1.1" fill="#f8ea60"/>
<circle cx="141.11" cy="274.76" r="1.1" fill="#f8ea60"/>
<circle cx="144.11" cy="275.85" r="1.1" fill="#f8ea60"/>
<path d="M30.24 248.08 L30.46 247.12 L30.75 245.83 L31.09 244.3 L31.47 242.61 L31.87 240.83 L32.27 239.06 L32.66 237.36 L33.01 235.84 L33.34 234.46 L33.67 233.12 L33.99 231.82 L34.31 230.55 L34.62 229.29 L34.93 228.03 L35.24 226.76 L35.55 225.46 L35.84 224.13 L36.14 222.78 L36.43 221.42 L36.71 220.06 L37 218.71 L37.28 217.38 L37.56 216.07 L37.85 214.8 L38.13 213.57 L38.4 212.37 L38.66 211.2 L38.93 210.04 L39.21 208.9 L39.5 207.75 L39.81 206.6 L40.16 205.43 L40.52 204.24 L40.91 203.02 L41.31 201.79 L41.73 200.57 L42.16 199.36 L42.62 198.18 L43.11 197.05 L43.61 195.98 L44.15 194.91 L44.73 193.81 L45.33 192.72 L45.95 191.67 L46.58 190.72 L47.21 189.91 L47.84 189.27 L48.45 188.84 L49.06 188.64 L49.67 188.61 L50.28 188.75 L50.89 189.03 L51.5 189.43 L52.1 189.93 L52.7 190.52 L53.29 191.16 L53.88 191.89 L54.46 192.74 L55.03 193.7 L55.6 194.74 L56.17 195.86 L56.74 197.03 L57.32 198.25 L57.9 199.5 L58.49 200.78 L59.08 202.1 L59.66 203.46 L60.25 204.88 L60.85 206.37 L61.46 207.93 L62.09 209.56 L62.74 211.28 L63.41 213.11 L64.09 215.07 L64.78 217.13 L65.48 219.25 L66.2 221.4 L66.95 223.54 L67.71 225.65 L68.51 227.68 L69.33 229.69 L70.2 231.71 L71.09 233.74 L71.99 235.74 L72.91 237.69 L73.83 239.58 L74.75 241.38 L75.65 243.07 L76.51 244.63 L77.33 246.07 L78.13 247.42 L78.94 248.7 L79.78 249.95 L80.69 251.18 L81.68 252.44 L82.8 253.73 L84.05 255.09 L85.41 256.49 L86.87 257.91 L88.39 259.31 L89.94 260.68 L91.51 261.99 L93.05 263.2 L94.55 264.3 L96.05 265.28 L97.57 266.18 L99.11 266.99 L100.65 267.74 L102.15 268.42 L103.61 269.06 L105.01 269.66 L106.31 270.23 L107.57 270.77 L108.82 271.27 L110.04 271.72 L111.19 272.13 L112.25 272.49 L113.2 272.81 L113.99 273.07 L114.61 273.29" fill="none" stroke="#8b5a1e" stroke-width="1.2" stroke-linejoin="round"/>
<circle cx="30.7" cy="246.02" r="1.5" fill="#7a4a14"/>
<circle cx="33.01" cy="235.84" r="1.5" fill="#7a4a14"/>
<circle cx="35.31" cy="226.44" r="1.5" fill="#7a4a14"/>
<circle cx="37.62" cy="215.82" r="1.5" fill="#7a4a14"/>
<circle cx="39.92" cy="206.22" r="1.5" fill="#7a4a14"/>
<circle cx="42.23" cy="199.19" r="1.5" fill="#7a4a14"/>
<circle cx="44.53" cy="194.18" r="1.5" fill="#7a4a14"/>
<circle cx="46.84" cy="190.39" r="1.5" fill="#7a4a14"/>
<circle cx="49.14" cy="188.63" r="1.5" fill="#7a4a14"/>
<circle cx="51.45" cy="189.4" r="1.5" fill="#7a4a14"/>
<circle cx="53.75" cy="191.73" r="1.5" fill="#7a4a14"/>
<circle cx="56.06" cy="195.64" r="1.5" fill="#7a4a14"/>
<circle cx="58.37" cy="200.5" r="1.5" fill="#7a4a14"/>
<circle cx="60.67" cy="205.92" r="1.5" fill="#7a4a14"/>
<circle cx="62.98" cy="211.91" r="1.5" fill="#7a4a14"/>
<circle cx="65.28" cy="218.65" r="1.5" fill="#7a4a14"/>
<circle cx="67.59" cy="225.29" r="1.5" fill="#7a4a14"/>
<circle cx="69.89" cy="230.99" r="1.5" fill="#7a4a14"/>
<circle cx="72.19" cy="236.17" r="1.5" fill="#7a4a14"/>
<circle cx="74.5" cy="240.89" r="1.5" fill="#7a4a14"/>
<circle cx="76.81" cy="245.14" r="1.5" fill="#7a4a14"/>
<circle cx="79.11" cy="248.96" r="1.5" fill="#7a4a14"/>
<circle cx="81.41" cy="252.1" r="1.5" fill="#7a4a14"/>
<circle cx="83.72" cy="254.73" r="1.5" fill="#7a4a14"/>
<circle cx="86.03" cy="257.08" r="1.5" fill="#7a4a14"/>
<circle cx="88.33" cy="259.26" r="1.5" fill="#7a4a14"/>
<circle cx="90.64" cy="261.26" r="1.5" fill="#7a4a14"/>
<circle cx="92.94" cy="263.11" r="1.5" fill="#7a4a14"/>
<circle cx="95.25" cy="264.75" r="1.5" fill="#7a4a14"/>
<circle cx="97.55" cy="266.16" r="1.5" fill="#7a4a14"/>
<circle cx="99.85" cy="267.35" r="1.5" fill="#7a4a14"/>
<circle cx="102.16" cy="268.42" r="1.5" fill="#7a4a14"/>
<circle cx="104.47" cy="269.43" r="1.5" fill="#7a4a14"/>
<circle cx="106.77" cy="270.43" r="1.5" fill="#7a4a14"/>
<circle cx="109.08" cy="271.37" r="1.5" fill="#7a4a14"/>
<circle cx="111.38" cy="272.2" r="1.5" fill="#7a4a14"/>
<circle cx="113.69" cy="272.97" r="1.5" fill="#7a4a14"/>
<line x1="227" y1="219.9" x2="238.1" y2="219.9" stroke="#fdf47a" stroke-width="0.95"/>
<circle cx="232.75" cy="219.9" r="1.6" fill="#f8ea60"/>
<text x="239.6" y="222.06" font-size="6.0" fill="#262626" class="t" textLength="21.89" lengthAdjust="spacingAndGlyphs">POF_C1</text>
<line x1="227" y1="229.9" x2="238.1" y2="229.9" stroke="#7dc242" stroke-width="0.95"/>
<circle cx="232.75" cy="229.9" r="1.6" fill="#6cb33a"/>
<text x="239.6" y="232.06" font-size="6.0" fill="#262626" class="t" textLength="27.2" lengthAdjust="spacingAndGlyphs">POF_WC1</text>
<line x1="227" y1="239.9" x2="238.1" y2="239.9" stroke="#fdf47a" stroke-width="0.95"/>
<circle cx="232.75" cy="239.9" r="1.6" fill="#f8ea60"/>
<text x="239.6" y="242.06" font-size="6.0" fill="#262626" class="t" textLength="25.33" lengthAdjust="spacingAndGlyphs">POF_SE1</text>
<line x1="227" y1="249.9" x2="238.1" y2="249.9" stroke="#8b5a1e" stroke-width="0.95"/>
<circle cx="232.75" cy="249.9" r="1.6" fill="#7a4a14"/>
<text x="239.6" y="252.06" font-size="6.0" fill="#262626" class="t" textLength="25.64" lengthAdjust="spacingAndGlyphs">POF_NE1</text>
<line x1="306.4" y1="169.56" x2="306.4" y2="280.8" stroke="#d9d9d9" stroke-width="0.8"/>
<line x1="306.4" y1="280.8" x2="486.4" y2="280.8" stroke="#d9d9d9" stroke-width="0.8"/>
<text x="301" y="283.25" font-size="5.7" fill="#404040" class="t" text-anchor="end">0</text>
<text x="301" y="264.71" font-size="5.7" fill="#404040" class="t" text-anchor="end">20</text>
<text x="301" y="246.17" font-size="5.7" fill="#404040" class="t" text-anchor="end">40</text>
<text x="301" y="227.63" font-size="5.7" fill="#404040" class="t" text-anchor="end">60</text>
<text x="301" y="209.09" font-size="5.7" fill="#404040" class="t" text-anchor="end">80</text>
<text x="301" y="190.55" font-size="5.7" fill="#404040" class="t" text-anchor="end">100</text>
<text x="301" y="172.01" font-size="5.7" fill="#404040" class="t" text-anchor="end">120</text>
<text x="306.4" y="289.85" font-size="5.7" fill="#404040" class="t" text-anchor="middle">0</text>
<text x="336.4" y="289.85" font-size="5.7" fill="#404040" class="t" text-anchor="middle">10</text>
<text x="366.4" y="289.85" font-size="5.7" fill="#404040" class="t" text-anchor="middle">20</text>
<text x="396.4" y="289.85" font-size="5.7" fill="#404040" class="t" text-anchor="middle">30</text>
<text x="426.4" y="289.85" font-size="5.7" fill="#404040" class="t" text-anchor="middle">40</text>
<text x="456.4" y="289.85" font-size="5.7" fill="#404040" class="t" text-anchor="middle">50</text>
<text x="486.4" y="289.85" font-size="5.7" fill="#404040" class="t" text-anchor="middle">60</text>
<text x="415.7" y="163.25" font-size="6.3" font-weight="bold" fill="#262626" text-anchor="middle" textLength="121.4" lengthAdjust="spacingAndGlyphs">SEMIARID FOREST AND CHAPARRAL</text>
<text x="397.3" y="298.3" font-size="6.2" font-weight="bold" fill="#262626" text-anchor="middle" textLength="41.8" lengthAdjust="spacingAndGlyphs">AGCD (Mg/ha)</text>
<text transform="translate(289.9,225) rotate(-90)" font-size="5.4" font-weight="bold" fill="#262626" text-anchor="middle" textLength="59" lengthAdjust="spacingAndGlyphs">Relativized KD FRPN (%)</text>
<path d="M324.1 269.03 L328 258.46 L332.8 246.69 L338.8 234.82 L345.7 227.03 L349.9 223.6 L357.7 218.23 L364.3 218.69 L371.8 218.69 L376.3 217.12 L379.3 213.78 L385 205.06 L388.3 199.13 L392.5 189.77 L396.4 187.64 L399.7 189.77 L403 194.22 L406.6 201.82 L408.7 207.29 L414.7 223.6 L418 232.32 L435.7 280.8" fill="none" stroke="#1fa055" stroke-width="1.2" stroke-linejoin="round"/>
<circle cx="324.1" cy="269.03" r="1.5" fill="#168f48"/>
<circle cx="328" cy="258.46" r="1.5" fill="#168f48"/>
<circle cx="332.8" cy="246.69" r="1.5" fill="#168f48"/>
<circle cx="338.8" cy="234.82" r="1.5" fill="#168f48"/>
<circle cx="345.7" cy="227.03" r="1.5" fill="#168f48"/>
<circle cx="349.9" cy="223.6" r="1.5" fill="#168f48"/>
<circle cx="357.7" cy="218.23" r="1.5" fill="#168f48"/>
<circle cx="364.3" cy="218.69" r="1.5" fill="#168f48"/>
<circle cx="371.8" cy="218.69" r="1.5" fill="#168f48"/>
<circle cx="376.3" cy="217.12" r="1.5" fill="#168f48"/>
<circle cx="379.3" cy="213.78" r="1.5" fill="#168f48"/>
<circle cx="385" cy="205.06" r="1.5" fill="#168f48"/>
<circle cx="388.3" cy="199.13" r="1.5" fill="#168f48"/>
<circle cx="392.5" cy="189.77" r="1.5" fill="#168f48"/>
<circle cx="396.4" cy="187.64" r="1.5" fill="#168f48"/>
<circle cx="399.7" cy="189.77" r="1.5" fill="#168f48"/>
<circle cx="403" cy="194.22" r="1.5" fill="#168f48"/>
<circle cx="406.6" cy="201.82" r="1.5" fill="#168f48"/>
<circle cx="408.7" cy="207.29" r="1.5" fill="#168f48"/>
<circle cx="414.7" cy="223.6" r="1.5" fill="#168f48"/>
<circle cx="418" cy="232.32" r="1.5" fill="#168f48"/>
<circle cx="435.7" cy="280.8" r="1.5" fill="#168f48"/>
<path d="M315.4 254.84 L316.09 254.02 L317.02 252.98 L318.12 251.73 L319.34 250.32 L320.63 248.79 L321.94 247.15 L323.21 245.45 L324.4 243.72 L325.52 241.89 L326.65 239.92 L327.77 237.83 L328.9 235.67 L330.02 233.47 L331.15 231.27 L332.27 229.11 L333.4 227.03 L334.52 224.99 L335.65 222.94 L336.77 220.89 L337.9 218.86 L339.02 216.87 L340.15 214.93 L341.27 213.06 L342.4 211.28 L343.52 209.56 L344.65 207.89 L345.77 206.28 L346.9 204.73 L348.02 203.24 L349.15 201.82 L350.27 200.48 L351.4 199.22 L352.52 198.05 L353.65 196.96 L354.77 195.94 L355.9 194.99 L357.02 194.11 L358.15 193.29 L359.27 192.53 L360.4 191.81 L361.51 191.14 L362.61 190.53 L363.71 189.97 L364.81 189.48 L365.92 189.04 L367.04 188.67 L368.2 188.35 L369.4 188.1 L370.65 187.91 L371.95 187.78 L373.28 187.71 L374.63 187.71 L375.98 187.76 L377.32 187.87 L378.63 188.05 L379.9 188.29 L381.13 188.6 L382.36 188.99 L383.57 189.45 L384.76 189.97 L385.92 190.53 L387.05 191.13 L388.15 191.74 L389.2 192.36 L390.2 192.99 L391.15 193.62 L392.05 194.27 L392.93 194.95 L393.79 195.67 L394.65 196.45 L395.51 197.29 L396.4 198.2 L397.31 199.22 L398.23 200.34 L399.15 201.54 L400.07 202.78 L400.99 204.04 L401.88 205.3 L402.76 206.51 L403.6 207.66 L404.45 208.81 L405.32 210 L406.2 211.2 L407.05 212.38 L407.84 213.47 L408.55 214.46 L409.15 215.28 L409.6 215.91" fill="none" stroke="#e6c800" stroke-width="1.2" stroke-linejoin="round"/>
<circle cx="315.4" cy="254.84" r="1.5" fill="#d8bc00"/>
<circle cx="319.9" cy="249.66" r="1.5" fill="#d8bc00"/>
<circle cx="324.4" cy="243.72" r="1.5" fill="#d8bc00"/>
<circle cx="328.9" cy="235.67" r="1.5" fill="#d8bc00"/>
<circle cx="333.4" cy="227.03" r="1.5" fill="#d8bc00"/>
<circle cx="337.9" cy="218.86" r="1.5" fill="#d8bc00"/>
<circle cx="342.4" cy="211.28" r="1.5" fill="#d8bc00"/>
<circle cx="346.9" cy="204.73" r="1.5" fill="#d8bc00"/>
<circle cx="351.4" cy="199.22" r="1.5" fill="#d8bc00"/>
<circle cx="355.9" cy="194.99" r="1.5" fill="#d8bc00"/>
<circle cx="360.4" cy="191.81" r="1.5" fill="#d8bc00"/>
<circle cx="364.9" cy="189.44" r="1.5" fill="#d8bc00"/>
<circle cx="369.4" cy="188.1" r="1.5" fill="#d8bc00"/>
<circle cx="373.9" cy="187.71" r="1.5" fill="#d8bc00"/>
<circle cx="378.4" cy="188.02" r="1.5" fill="#d8bc00"/>
<circle cx="382.9" cy="189.2" r="1.5" fill="#d8bc00"/>
<circle cx="387.4" cy="191.33" r="1.5" fill="#d8bc00"/>
<circle cx="391.9" cy="194.16" r="1.5" fill="#d8bc00"/>
<circle cx="396.4" cy="198.2" r="1.5" fill="#d8bc00"/>
<circle cx="400.9" cy="203.92" r="1.5" fill="#d8bc00"/>
<circle cx="405.4" cy="210.1" r="1.5" fill="#d8bc00"/>
<path d="M310 278.48 L310.2 275.69 L310.46 271.9 L310.78 267.38 L311.12 262.4 L311.5 257.21 L311.9 252.09 L312.3 247.29 L312.7 243.07 L313.09 239.34 L313.48 235.81 L313.88 232.44 L314.29 229.21 L314.73 226.09 L315.21 223.06 L315.73 220.07 L316.3 217.12 L316.94 214.13 L317.64 211.12 L318.39 208.15 L319.17 205.27 L319.97 202.54 L320.76 200.01 L321.55 197.74 L322.3 195.79 L323.01 194.17 L323.68 192.81 L324.34 191.69 L325 190.79 L325.68 190.07 L326.39 189.51 L327.16 189.08 L328 188.75 L328.91 188.53 L329.89 188.47 L330.91 188.55 L331.97 188.78 L333.07 189.15 L334.17 189.68 L335.29 190.35 L336.4 191.16 L337.5 192.2 L338.61 193.5 L339.72 194.99 L340.84 196.61 L342 198.28 L343.19 199.93 L344.42 201.51 L345.7 202.93 L347.04 204.23 L348.44 205.48 L349.87 206.68 L351.34 207.86 L352.84 209 L354.36 210.14 L355.88 211.26 L357.4 212.39 L358.94 213.51 L360.52 214.61 L362.12 215.69 L363.74 216.76 L365.35 217.83 L366.93 218.89 L368.49 219.95 L370 221.01 L371.45 222.05 L372.85 223.07 L374.21 224.07 L375.55 225.07 L376.89 226.09 L378.25 227.15 L379.65 228.26 L381.1 229.44 L382.61 230.72 L384.17 232.1 L385.77 233.54 L387.38 235.01 L389 236.48 L390.6 237.91 L392.17 239.29 L393.7 240.57 L395.18 241.74 L396.64 242.83 L398.08 243.87 L399.49 244.87 L400.9 245.86 L402.3 246.86 L403.7 247.9 L405.1 249 L406.52 250.19 L407.97 251.45 L409.43 252.74 L410.88 254.05 L412.29 255.34 L413.66 256.59 L414.97 257.76 L416.2 258.83 L417.39 259.83 L418.56 260.8 L419.71 261.73 L420.79 262.6 L421.79 263.39 L422.68 264.08 L423.42 264.67 L424 265.13" fill="none" stroke="#f2b040" stroke-width="1.2" stroke-linejoin="round"/>
<circle cx="313" cy="240.21" r="1.5" fill="#eea530"/>
<circle cx="316.6" cy="215.71" r="1.5" fill="#eea530"/>
<circle cx="320.2" cy="201.8" r="1.5" fill="#eea530"/>
<circle cx="323.8" cy="192.61" r="1.5" fill="#eea530"/>
<circle cx="327.4" cy="188.99" r="1.5" fill="#eea530"/>
<circle cx="331" cy="188.57" r="1.5" fill="#eea530"/>
<circle cx="334.6" cy="189.93" r="1.5" fill="#eea530"/>
<circle cx="338.2" cy="193.02" r="1.5" fill="#eea530"/>
<circle cx="341.8" cy="197.99" r="1.5" fill="#eea530"/>
<circle cx="345.4" cy="202.6" r="1.5" fill="#eea530"/>
<circle cx="349" cy="205.95" r="1.5" fill="#eea530"/>
<circle cx="352.6" cy="208.82" r="1.5" fill="#eea530"/>
<circle cx="356.2" cy="211.5" r="1.5" fill="#eea530"/>
<circle cx="359.8" cy="214.1" r="1.5" fill="#eea530"/>
<circle cx="363.4" cy="216.54" r="1.5" fill="#eea530"/>
<circle cx="367" cy="218.93" r="1.5" fill="#eea530"/>
<circle cx="370.6" cy="221.44" r="1.5" fill="#eea530"/>
<circle cx="374.2" cy="224.06" r="1.5" fill="#eea530"/>
<circle cx="377.8" cy="226.8" r="1.5" fill="#eea530"/>
<circle cx="381.4" cy="229.7" r="1.5" fill="#eea530"/>
<circle cx="385" cy="232.84" r="1.5" fill="#eea530"/>
<circle cx="388.6" cy="236.11" r="1.5" fill="#eea530"/>
<circle cx="392.2" cy="239.31" r="1.5" fill="#eea530"/>
<circle cx="395.8" cy="242.2" r="1.5" fill="#eea530"/>
<circle cx="399.4" cy="244.8" r="1.5" fill="#eea530"/>
<circle cx="403" cy="247.38" r="1.5" fill="#eea530"/>
<circle cx="406.6" cy="250.26" r="1.5" fill="#eea530"/>
<circle cx="410.2" cy="253.44" r="1.5" fill="#eea530"/>
<circle cx="413.8" cy="256.71" r="1.5" fill="#eea530"/>
<circle cx="417.4" cy="259.84" r="1.5" fill="#eea530"/>
<circle cx="421" cy="262.76" r="1.5" fill="#eea530"/>
<path d="M309.4 268.75 L310.09 267.63 L311.02 266.24 L312.12 264.6 L313.34 262.72 L314.63 260.61 L315.94 258.28 L317.21 255.73 L318.4 252.99 L319.52 249.92 L320.65 246.46 L321.77 242.72 L322.9 238.8 L324.02 234.79 L325.15 230.81 L326.27 226.95 L327.4 223.33 L328.55 219.79 L329.72 216.19 L330.91 212.59 L332.09 209.07 L333.24 205.72 L334.36 202.6 L335.42 199.79 L336.4 197.37 L337.29 195.32 L338.11 193.58 L338.87 192.1 L339.59 190.88 L340.28 189.89 L340.97 189.11 L341.67 188.52 L342.4 188.1 L343.15 187.89 L343.9 187.94 L344.65 188.21 L345.4 188.68 L346.15 189.3 L346.9 190.06 L347.65 190.9 L348.4 191.81 L349.15 192.85 L349.89 194.09 L350.62 195.48 L351.36 196.96 L352.11 198.5 L352.86 200.04 L353.62 201.54 L354.4 202.93 L355.2 204.33 L356.04 205.82 L356.88 207.34 L357.74 208.82 L358.59 210.2 L359.42 211.42 L360.23 212.42 L361 213.13 L361.7 213.5 L362.31 213.56 L362.88 213.39 L363.44 213.06 L364.03 212.65 L364.7 212.23 L365.47 211.87 L366.4 211.65 L367.51 211.52 L368.77 211.42 L370.15 211.32 L371.59 211.24 L373.07 211.18 L374.52 211.13 L375.91 211.1 L377.2 211.09 L378.41 211.1 L379.6 211.11 L380.76 211.15 L381.89 211.2 L382.97 211.27 L384.01 211.37 L384.98 211.49 L385.9 211.65 L386.75 211.77 L387.52 211.85 L388.25 211.92 L388.92 212.03 L389.55 212.23 L390.15 212.56 L390.73 213.06 L391.3 213.78 L391.84 214.72 L392.34 215.85 L392.81 217.13 L393.25 218.56 L393.67 220.1 L394.08 221.73 L394.49 223.43 L394.9 225.18 L395.24 227.01 L395.47 228.95 L395.65 230.99 L395.84 233.11 L396.1 235.29 L396.49 237.52 L397.07 239.78 L397.9 242.05 L399.06 244.4 L400.54 246.85 L402.23 249.37 L404.03 251.92 L405.86 254.46 L407.61 256.95 L409.19 259.35 L410.5 261.61 L411.58 263.84 L412.54 266.11 L413.39 268.36 L414.14 270.53 L414.78 272.54 L415.34 274.33 L415.81 275.84 L416.2 277" fill="none" stroke="#f8c890" stroke-width="1.2" stroke-linejoin="round"/>
<circle cx="309.4" cy="268.75" r="0.9" fill="#f5bd7a"/>
<circle cx="313.9" cy="261.8" r="0.9" fill="#f5bd7a"/>
<circle cx="318.4" cy="252.99" r="0.9" fill="#f5bd7a"/>
<circle cx="322.9" cy="238.8" r="0.9" fill="#f5bd7a"/>
<circle cx="327.4" cy="223.33" r="0.9" fill="#f5bd7a"/>
<circle cx="331.9" cy="209.63" r="0.9" fill="#f5bd7a"/>
<circle cx="336.4" cy="197.37" r="0.9" fill="#f5bd7a"/>
<circle cx="340.9" cy="189.19" r="0.9" fill="#f5bd7a"/>
<circle cx="345.4" cy="188.68" r="0.9" fill="#f5bd7a"/>
<circle cx="349.9" cy="194.12" r="0.9" fill="#f5bd7a"/>
<circle cx="354.4" cy="202.93" r="0.9" fill="#f5bd7a"/>
<circle cx="358.9" cy="210.66" r="0.9" fill="#f5bd7a"/>
<circle cx="363.4" cy="213.08" r="0.9" fill="#f5bd7a"/>
<circle cx="367.9" cy="211.49" r="0.9" fill="#f5bd7a"/>
<circle cx="372.4" cy="211.21" r="0.9" fill="#f5bd7a"/>
<circle cx="376.9" cy="211.09" r="0.9" fill="#f5bd7a"/>
<circle cx="381.4" cy="211.18" r="0.9" fill="#f5bd7a"/>
<circle cx="385.9" cy="211.65" r="0.9" fill="#f5bd7a"/>
<circle cx="390.4" cy="212.77" r="0.9" fill="#f5bd7a"/>
<circle cx="394.9" cy="225.18" r="0.9" fill="#f5bd7a"/>
<circle cx="399.4" cy="244.96" r="0.9" fill="#f5bd7a"/>
<circle cx="403.9" cy="251.74" r="0.9" fill="#f5bd7a"/>
<circle cx="408.4" cy="258.15" r="0.9" fill="#f5bd7a"/>
<circle cx="412.9" cy="267.06" r="0.9" fill="#f5bd7a"/>
<path d="M309.4 268.75 L310.35 268.72 L311.63 268.81 L313.15 268.92 L314.84 268.98 L316.59 268.89 L318.33 268.58 L319.96 267.94 L321.4 266.89 L322.65 265.41 L323.79 263.54 L324.86 261.37 L325.9 258.96 L326.94 256.38 L328.01 253.71 L329.15 251.01 L330.4 248.36 L331.76 245.68 L333.19 242.89 L334.68 240 L336.21 237.06 L337.77 234.07 L339.33 231.08 L340.88 228.11 L342.4 225.18 L343.92 222.21 L345.47 219.13 L347.03 216 L348.59 212.9 L350.12 209.88 L351.61 207.02 L353.04 204.37 L354.4 202 L355.68 199.89 L356.9 197.95 L358.06 196.18 L359.18 194.59 L360.27 193.17 L361.33 191.92 L362.37 190.85 L363.4 189.95 L364.43 189.26 L365.46 188.8 L366.47 188.52 L367.45 188.41 L368.4 188.44 L369.29 188.57 L370.13 188.77 L370.9 189.03 L371.57 189.3 L372.13 189.61 L372.61 189.99 L373.06 190.48 L373.49 191.11 L373.96 191.92 L374.48 192.94 L375.1 194.22 L375.83 195.85 L376.64 197.84 L377.5 200.1 L378.4 202.51 L379.3 204.97 L380.16 207.39 L380.97 209.65 L381.7 211.65 L382.34 213.38 L382.91 214.94 L383.44 216.38 L383.93 217.76 L384.41 219.12 L384.89 220.51 L385.38 221.99 L385.9 223.6 L386.45 225.36 L387 227.22 L387.57 229.15 L388.13 231.12 L388.7 233.11 L389.27 235.08 L389.84 237.02 L390.4 238.9 L390.97 240.75 L391.56 242.6 L392.15 244.45 L392.74 246.28 L393.32 248.06 L393.88 249.78 L394.41 251.43 L394.9 252.99 L395.34 254.4 L395.73 255.67 L396.08 256.84 L396.42 257.96 L396.75 259.08 L397.1 260.26 L397.48 261.55 L397.9 263 L398.33 264.7 L398.73 266.63 L399.14 268.7 L399.57 270.81 L400.05 272.86 L400.62 274.77 L401.29 276.43 L402.1 277.74 L403.13 278.7 L404.41 279.4 L405.83 279.88 L407.31 280.19 L408.76 280.39 L410.09 280.52 L411.2 280.64 L412 280.8" fill="none" stroke="#f2f070" stroke-width="1.2" stroke-linejoin="round"/>
<circle cx="309.4" cy="268.75" r="0.9" fill="#ecea5a"/>
<circle cx="313.9" cy="268.95" r="0.9" fill="#ecea5a"/>
<circle cx="318.4" cy="268.55" r="0.9" fill="#ecea5a"/>
<circle cx="322.9" cy="265" r="0.9" fill="#ecea5a"/>
<circle cx="327.4" cy="255.23" r="0.9" fill="#ecea5a"/>
<circle cx="331.9" cy="245.4" r="0.9" fill="#ecea5a"/>
<circle cx="336.4" cy="236.7" r="0.9" fill="#ecea5a"/>
<circle cx="340.9" cy="228.07" r="0.9" fill="#ecea5a"/>
<circle cx="345.4" cy="219.27" r="0.9" fill="#ecea5a"/>
<circle cx="349.9" cy="210.31" r="0.9" fill="#ecea5a"/>
<circle cx="354.4" cy="202" r="0.9" fill="#ecea5a"/>
<circle cx="358.9" cy="194.99" r="0.9" fill="#ecea5a"/>
<circle cx="363.4" cy="189.95" r="0.9" fill="#ecea5a"/>
<circle cx="367.9" cy="188.42" r="0.9" fill="#ecea5a"/>
<circle cx="372.4" cy="189.82" r="0.9" fill="#ecea5a"/>
<circle cx="376.9" cy="198.53" r="0.9" fill="#ecea5a"/>
<circle cx="381.4" cy="210.82" r="0.9" fill="#ecea5a"/>
<circle cx="385.9" cy="223.6" r="0.9" fill="#ecea5a"/>
<circle cx="390.4" cy="238.9" r="0.9" fill="#ecea5a"/>
<circle cx="394.9" cy="252.99" r="0.9" fill="#ecea5a"/>
<circle cx="399.4" cy="269.98" r="0.9" fill="#ecea5a"/>
<circle cx="403.9" cy="279.12" r="0.9" fill="#ecea5a"/>
<circle cx="408.4" cy="280.34" r="0.9" fill="#ecea5a"/>
<path d="M315.4 271.53 L316.54 269.45 L318.02 266.75 L319.79 263.55 L321.77 259.94 L323.9 256.05 L326.09 251.98 L328.28 247.83 L330.4 243.72 L332.55 239.37 L334.83 234.56 L337.19 229.48 L339.59 224.31 L341.96 219.25 L344.25 214.5 L346.42 210.23 L348.4 206.64 L350.21 203.73 L351.89 201.32 L353.47 199.32 L354.96 197.66 L356.38 196.25 L357.75 195.02 L359.08 193.87 L360.4 192.74 L361.71 191.66 L362.99 190.75 L364.23 189.99 L365.42 189.37 L366.55 188.89 L367.6 188.52 L368.55 188.26 L369.4 188.1 L370.1 188 L370.64 187.95 L371.07 188 L371.42 188.18 L371.76 188.51 L372.1 189.05 L372.5 189.83 L373 190.88 L373.6 192.28 L374.25 194.03 L374.95 196.04 L375.66 198.24 L376.38 200.54 L377.09 202.87 L377.77 205.15 L378.4 207.29 L378.98 209.34 L379.53 211.4 L380.05 213.46 L380.56 215.52 L381.06 217.56 L381.56 219.6 L382.07 221.61 L382.6 223.6 L383.16 225.57 L383.75 227.53 L384.36 229.47 L384.96 231.39 L385.55 233.3 L386.12 235.18 L386.64 237.05 L387.1 238.9 L387.48 240.63 L387.78 242.19 L388.04 243.68 L388.26 245.18 L388.49 246.77 L388.76 248.55 L389.09 250.59 L389.5 252.99 L390.04 255.98 L390.7 259.57 L391.44 263.54 L392.2 267.64 L392.94 271.62 L393.62 275.26 L394.19 278.31 L394.6 280.52" fill="none" stroke="#fdfda0" stroke-width="1.2" stroke-linejoin="round"/>
<circle cx="315.4" cy="271.53" r="0.8" fill="#f8f890"/>
<circle cx="319.9" cy="263.35" r="0.8" fill="#f8f890"/>
<circle cx="324.4" cy="255.11" r="0.8" fill="#f8f890"/>
<circle cx="328.9" cy="246.63" r="0.8" fill="#f8f890"/>
<circle cx="333.4" cy="237.57" r="0.8" fill="#f8f890"/>
<circle cx="337.9" cy="227.95" r="0.8" fill="#f8f890"/>
<circle cx="342.4" cy="218.34" r="0.8" fill="#f8f890"/>
<circle cx="346.9" cy="209.35" r="0.8" fill="#f8f890"/>
<circle cx="351.4" cy="202.02" r="0.8" fill="#f8f890"/>
<circle cx="355.9" cy="196.73" r="0.8" fill="#f8f890"/>
<circle cx="360.4" cy="192.74" r="0.8" fill="#f8f890"/>
<circle cx="364.9" cy="189.65" r="0.8" fill="#f8f890"/>
<circle cx="369.4" cy="188.1" r="0.8" fill="#f8f890"/>
<circle cx="373.9" cy="193.09" r="0.8" fill="#f8f890"/>
<circle cx="378.4" cy="207.29" r="0.8" fill="#f8f890"/>
<circle cx="382.9" cy="224.65" r="0.8" fill="#f8f890"/>
<circle cx="387.4" cy="240.26" r="0.8" fill="#f8f890"/>
<circle cx="391.9" cy="266.02" r="0.8" fill="#f8f890"/>
<path d="M315.1 244.09 L316 243.78 L317.2 243.35 L318.62 242.85 L320.2 242.29 L321.88 241.71 L323.58 241.14 L325.24 240.59 L326.8 240.1 L328.29 239.64 L329.79 239.15 L331.29 238.65 L332.8 238.18 L334.31 237.75 L335.81 237.38 L337.31 237.11 L338.8 236.95 L340.28 236.93 L341.75 237.01 L343.21 237.19 L344.67 237.44 L346.13 237.73 L347.58 238.04 L349.04 238.34 L350.5 238.62 L352.01 238.92 L353.6 239.27 L355.22 239.65 L356.82 240.04 L358.36 240.39 L359.8 240.7 L361.1 240.92 L362.2 241.03 L363.04 241.06 L363.64 241.05 L364.07 240.99 L364.41 240.85 L364.74 240.64 L365.12 240.33 L365.65 239.91 L366.4 239.36 L367.39 238.66 L368.56 237.79 L369.85 236.79 L371.22 235.71 L372.6 234.58 L373.94 233.44 L375.2 232.33 L376.3 231.3 L377.26 230.37 L378.12 229.52 L378.91 228.72 L379.66 227.9 L380.37 227.02 L381.09 226.05 L381.82 224.92 L382.6 223.6 L383.42 222 L384.28 220.13 L385.15 218.07 L386.01 215.93 L386.87 213.8 L387.69 211.77 L388.47 209.94 L389.2 208.4 L389.86 207.17 L390.45 206.17 L391 205.35 L391.52 204.64 L392.04 203.98 L392.56 203.33 L393.11 202.63 L393.7 201.82 L394.33 200.9 L394.99 199.92 L395.66 198.91 L396.34 197.89 L397.04 196.88 L397.73 195.92 L398.42 195.02 L399.1 194.22 L399.77 193.49 L400.45 192.82 L401.12 192.2 L401.8 191.63 L402.47 191.11 L403.15 190.62 L403.82 190.18 L404.5 189.77 L405.18 189.39 L405.85 189.04 L406.52 188.72 L407.2 188.45 L407.87 188.22 L408.55 188.06 L409.22 187.95 L409.9 187.91 L410.58 187.96 L411.28 188.08 L411.98 188.27 L412.67 188.52 L413.36 188.8 L414.03 189.11 L414.68 189.44 L415.3 189.77 L415.88 190.11 L416.43 190.48 L416.95 190.87 L417.46 191.29 L417.96 191.72 L418.46 192.17 L418.97 192.63 L419.5 193.11 L420.05 193.59 L420.6 194.08 L421.17 194.58 L421.73 195.1 L422.3 195.64 L422.87 196.19 L423.44 196.77 L424 197.37 L424.56 198 L425.13 198.66 L425.7 199.34 L426.27 200.05 L426.83 200.76 L427.4 201.49 L427.95 202.21 L428.5 202.93 L429.04 203.66 L429.56 204.39 L430.08 205.13 L430.6 205.87 L431.12 206.62 L431.64 207.37 L432.16 208.12 L432.7 208.86 L433.25 209.61 L433.8 210.35 L434.35 211.1 L434.91 211.84 L435.48 212.59 L436.05 213.35 L436.62 214.11 L437.2 214.89 L437.82 215.72 L438.49 216.63 L439.19 217.57 L439.88 218.51 L440.54 219.4 L441.13 220.2 L441.63 220.88 L442 221.38" fill="none" stroke="#8cc850" stroke-width="1.2" stroke-linejoin="round"/>
<circle cx="315.4" cy="243.99" r="1.5" fill="#7bbd3c"/>
<circle cx="318.4" cy="242.93" r="1.5" fill="#7bbd3c"/>
<circle cx="321.4" cy="241.88" r="1.5" fill="#7bbd3c"/>
<circle cx="324.4" cy="240.87" r="1.5" fill="#7bbd3c"/>
<circle cx="327.4" cy="239.92" r="1.5" fill="#7bbd3c"/>
<circle cx="330.4" cy="238.94" r="1.5" fill="#7bbd3c"/>
<circle cx="333.4" cy="238" r="1.5" fill="#7bbd3c"/>
<circle cx="336.4" cy="237.28" r="1.5" fill="#7bbd3c"/>
<circle cx="339.4" cy="236.94" r="1.5" fill="#7bbd3c"/>
<circle cx="342.4" cy="237.09" r="1.5" fill="#7bbd3c"/>
<circle cx="345.4" cy="237.59" r="1.5" fill="#7bbd3c"/>
<circle cx="348.4" cy="238.21" r="1.5" fill="#7bbd3c"/>
<circle cx="351.4" cy="238.8" r="1.5" fill="#7bbd3c"/>
<circle cx="354.4" cy="239.46" r="1.5" fill="#7bbd3c"/>
<circle cx="357.4" cy="240.17" r="1.5" fill="#7bbd3c"/>
<circle cx="360.4" cy="240.8" r="1.5" fill="#7bbd3c"/>
<circle cx="363.4" cy="241.06" r="1.5" fill="#7bbd3c"/>
<circle cx="366.4" cy="239.36" r="1.5" fill="#7bbd3c"/>
<circle cx="369.4" cy="237.14" r="1.5" fill="#7bbd3c"/>
<circle cx="372.4" cy="234.74" r="1.5" fill="#7bbd3c"/>
<circle cx="375.4" cy="232.14" r="1.5" fill="#7bbd3c"/>
<circle cx="378.4" cy="229.24" r="1.5" fill="#7bbd3c"/>
<circle cx="381.4" cy="225.57" r="1.5" fill="#7bbd3c"/>
<circle cx="384.4" cy="219.84" r="1.5" fill="#7bbd3c"/>
<circle cx="387.4" cy="212.49" r="1.5" fill="#7bbd3c"/>
<circle cx="390.4" cy="206.26" r="1.5" fill="#7bbd3c"/>
<circle cx="393.4" cy="202.23" r="1.5" fill="#7bbd3c"/>
<circle cx="396.4" cy="197.8" r="1.5" fill="#7bbd3c"/>
<circle cx="399.4" cy="193.9" r="1.5" fill="#7bbd3c"/>
<circle cx="402.4" cy="191.17" r="1.5" fill="#7bbd3c"/>
<circle cx="405.4" cy="189.27" r="1.5" fill="#7bbd3c"/>
<circle cx="408.4" cy="188.09" r="1.5" fill="#7bbd3c"/>
<circle cx="411.4" cy="188.12" r="1.5" fill="#7bbd3c"/>
<circle cx="414.4" cy="189.3" r="1.5" fill="#7bbd3c"/>
<circle cx="417.4" cy="191.24" r="1.5" fill="#7bbd3c"/>
<circle cx="420.4" cy="193.9" r="1.5" fill="#7bbd3c"/>
<circle cx="423.4" cy="196.73" r="1.5" fill="#7bbd3c"/>
<circle cx="426.4" cy="200.21" r="1.5" fill="#7bbd3c"/>
<circle cx="429.4" cy="204.16" r="1.5" fill="#7bbd3c"/>
<circle cx="432.4" cy="208.45" r="1.5" fill="#7bbd3c"/>
<circle cx="435.4" cy="212.49" r="1.5" fill="#7bbd3c"/>
<circle cx="438.4" cy="216.51" r="1.5" fill="#7bbd3c"/>
<circle cx="441.4" cy="220.57" r="1.5" fill="#7bbd3c"/>
<path d="M315.1 264.3 L315.64 262.84 L316.34 260.9 L317.18 258.6 L318.12 256.04 L319.13 253.32 L320.18 250.55 L321.25 247.84 L322.3 245.3 L323.36 242.84 L324.47 240.35 L325.62 237.83 L326.8 235.3 L328 232.78 L329.2 230.29 L330.41 227.85 L331.6 225.46 L332.79 223.14 L334 220.88 L335.22 218.67 L336.44 216.48 L337.65 214.31 L338.86 212.12 L340.04 209.91 L341.2 207.66 L342.34 205.25 L343.49 202.66 L344.62 199.98 L345.74 197.32 L346.83 194.79 L347.89 192.49 L348.92 190.54 L349.9 189.03 L350.82 188.01 L351.67 187.4 L352.48 187.11 L353.26 187.06 L354.03 187.18 L354.81 187.36 L355.63 187.55 L356.5 187.64 L357.43 187.68 L358.4 187.76 L359.4 187.9 L360.42 188.08 L361.43 188.31 L362.43 188.59 L363.39 188.92 L364.3 189.31 L365.16 189.75 L365.97 190.24 L366.76 190.79 L367.52 191.39 L368.28 192.04 L369.04 192.72 L369.81 193.45 L370.6 194.22 L371.42 195.05 L372.26 195.95 L373.11 196.92 L373.96 197.91 L374.8 198.93 L375.63 199.93 L376.43 200.9 L377.2 201.82 L377.93 202.69 L378.63 203.54 L379.3 204.37 L379.96 205.18 L380.61 205.98 L381.26 206.79 L381.92 207.59 L382.6 208.4 L383.3 209.2 L384.01 209.98 L384.73 210.74 L385.45 211.51 L386.17 212.3 L386.89 213.11 L387.6 213.97 L388.3 214.89 L388.99 215.88 L389.67 216.94 L390.35 218.04 L391.02 219.17 L391.69 220.31 L392.36 221.45 L393.03 222.55 L393.7 223.6 L394.39 224.62 L395.1 225.6 L395.82 226.57 L396.53 227.52 L397.23 228.46 L397.9 229.41 L398.53 230.35 L399.1 231.3 L399.6 232.19 L400.02 232.98 L400.4 233.74 L400.75 234.51 L401.1 235.36 L401.48 236.34 L401.9 237.5 L402.4 238.9 L402.97 240.62 L403.6 242.64 L404.26 244.86 L404.95 247.2 L405.66 249.57 L406.38 251.88 L407.1 254.04 L407.8 255.96 L408.51 257.64 L409.24 259.17 L409.98 260.59 L410.72 261.93 L411.46 263.22 L412.17 264.51 L412.86 265.81 L413.5 267.17 L414.1 268.69 L414.68 270.37 L415.22 272.12 L415.75 273.83 L416.26 275.41 L416.75 276.77 L417.23 277.79 L417.7 278.39 L418.18 278.46 L418.67 278.05 L419.15 277.29 L419.61 276.31 L420.04 275.24 L420.43 274.22 L420.75 273.37 L421 272.83" fill="none" stroke="#ffea00" stroke-width="1.2" stroke-linejoin="round"/>
<circle cx="315.4" cy="263.49" r="1.5" fill="#fce200"/>
<circle cx="318.4" cy="255.28" r="1.5" fill="#fce200"/>
<circle cx="321.4" cy="247.48" r="1.5" fill="#fce200"/>
<circle cx="324.4" cy="240.51" r="1.5" fill="#fce200"/>
<circle cx="327.4" cy="234.04" r="1.5" fill="#fce200"/>
<circle cx="330.4" cy="227.86" r="1.5" fill="#fce200"/>
<circle cx="333.4" cy="222.01" r="1.5" fill="#fce200"/>
<circle cx="336.4" cy="216.55" r="1.5" fill="#fce200"/>
<circle cx="339.4" cy="211.11" r="1.5" fill="#fce200"/>
<circle cx="342.4" cy="205.13" r="1.5" fill="#fce200"/>
<circle cx="345.4" cy="198.12" r="1.5" fill="#fce200"/>
<circle cx="348.4" cy="191.53" r="1.5" fill="#fce200"/>
<circle cx="351.4" cy="187.59" r="1.5" fill="#fce200"/>
<circle cx="354.4" cy="187.27" r="1.5" fill="#fce200"/>
<circle cx="357.4" cy="187.68" r="1.5" fill="#fce200"/>
<circle cx="360.4" cy="188.07" r="1.5" fill="#fce200"/>
<circle cx="363.4" cy="188.93" r="1.5" fill="#fce200"/>
<circle cx="366.4" cy="190.54" r="1.5" fill="#fce200"/>
<circle cx="369.4" cy="193.07" r="1.5" fill="#fce200"/>
<circle cx="372.4" cy="196.12" r="1.5" fill="#fce200"/>
<circle cx="375.4" cy="199.65" r="1.5" fill="#fce200"/>
<circle cx="378.4" cy="203.26" r="1.5" fill="#fce200"/>
<circle cx="381.4" cy="206.96" r="1.5" fill="#fce200"/>
<circle cx="384.4" cy="210.39" r="1.5" fill="#fce200"/>
<circle cx="387.4" cy="213.73" r="1.5" fill="#fce200"/>
<circle cx="390.4" cy="218.13" r="1.5" fill="#fce200"/>
<circle cx="393.4" cy="223.13" r="1.5" fill="#fce200"/>
<circle cx="396.4" cy="227.35" r="1.5" fill="#fce200"/>
<circle cx="399.4" cy="231.83" r="1.5" fill="#fce200"/>
<circle cx="402.4" cy="238.9" r="1.5" fill="#fce200"/>
<circle cx="405.4" cy="248.7" r="1.5" fill="#fce200"/>
<circle cx="408.4" cy="257.38" r="1.5" fill="#fce200"/>
<circle cx="411.4" cy="263.12" r="1.5" fill="#fce200"/>
<circle cx="414.4" cy="269.56" r="1.5" fill="#fce200"/>
<circle cx="417.4" cy="278.01" r="1.5" fill="#fce200"/>
<path d="M350.8 262.63 L352.32 261.62 L354.38 260.27 L356.83 258.65 L359.54 256.87 L362.35 254.99 L365.13 253.13 L367.73 251.35 L370 249.75 L372.01 248.29 L373.92 246.89 L375.74 245.53 L377.48 244.2 L379.15 242.88 L380.75 241.57 L382.3 240.25 L383.8 238.9 L385.25 237.52 L386.63 236.12 L387.94 234.7 L389.2 233.29 L390.4 231.9 L391.55 230.53 L392.65 229.22 L393.7 227.96 L394.67 226.8 L395.53 225.72 L396.32 224.71 L397.07 223.72 L397.82 222.72 L398.58 221.68 L399.4 220.57 L400.3 219.34 L401.3 217.99 L402.36 216.54 L403.46 215.02 L404.59 213.45 L405.73 211.87 L406.86 210.3 L407.96 208.76 L409 207.29 L410.01 205.83 L411.01 204.34 L411.99 202.85 L412.96 201.39 L413.89 199.99 L414.8 198.68 L415.67 197.48 L416.5 196.44 L417.27 195.57 L417.97 194.85 L418.63 194.26 L419.26 193.75 L419.88 193.3 L420.51 192.88 L421.18 192.45 L421.9 191.99 L422.67 191.51 L423.47 191.02 L424.3 190.55 L425.14 190.09 L425.99 189.67 L426.84 189.28 L427.68 188.94 L428.5 188.66 L429.29 188.43 L430.04 188.25 L430.78 188.12 L431.52 188.03 L432.27 187.97 L433.06 187.93 L433.9 187.92 L434.8 187.91 L435.77 187.93 L436.81 187.96 L437.89 188.02 L439 188.1 L440.13 188.2 L441.27 188.33 L442.4 188.48 L443.5 188.66 L444.59 188.86 L445.7 189.11 L446.8 189.38 L447.91 189.68 L449 189.98 L450.09 190.29 L451.16 190.59 L452.2 190.88 L453.23 191.17 L454.25 191.46 L455.26 191.76 L456.25 192.06 L457.22 192.35 L458.18 192.63 L459.1 192.88 L460 193.11 L460.9 193.31 L461.83 193.49 L462.75 193.65 L463.64 193.8 L464.46 193.93 L465.2 194.04 L465.82 194.14 L466.3 194.22" fill="none" stroke="#1ca8e8" stroke-width="1.2" stroke-linejoin="round"/>
<circle cx="351.4" cy="262.23" r="1.5" fill="#139ee0"/>
<circle cx="354.4" cy="260.25" r="1.5" fill="#139ee0"/>
<circle cx="357.4" cy="258.28" r="1.5" fill="#139ee0"/>
<circle cx="360.4" cy="256.29" r="1.5" fill="#139ee0"/>
<circle cx="363.4" cy="254.29" r="1.5" fill="#139ee0"/>
<circle cx="366.4" cy="252.26" r="1.5" fill="#139ee0"/>
<circle cx="369.4" cy="250.17" r="1.5" fill="#139ee0"/>
<circle cx="372.4" cy="248.01" r="1.5" fill="#139ee0"/>
<circle cx="375.4" cy="245.79" r="1.5" fill="#139ee0"/>
<circle cx="378.4" cy="243.47" r="1.5" fill="#139ee0"/>
<circle cx="381.4" cy="241.01" r="1.5" fill="#139ee0"/>
<circle cx="384.4" cy="238.33" r="1.5" fill="#139ee0"/>
<circle cx="387.4" cy="235.29" r="1.5" fill="#139ee0"/>
<circle cx="390.4" cy="231.9" r="1.5" fill="#139ee0"/>
<circle cx="393.4" cy="228.32" r="1.5" fill="#139ee0"/>
<circle cx="396.4" cy="224.61" r="1.5" fill="#139ee0"/>
<circle cx="399.4" cy="220.56" r="1.5" fill="#139ee0"/>
<circle cx="402.4" cy="216.48" r="1.5" fill="#139ee0"/>
<circle cx="405.4" cy="212.33" r="1.5" fill="#139ee0"/>
<circle cx="408.4" cy="208.13" r="1.5" fill="#139ee0"/>
<circle cx="411.4" cy="203.75" r="1.5" fill="#139ee0"/>
<circle cx="414.4" cy="199.26" r="1.5" fill="#139ee0"/>
<circle cx="417.4" cy="195.44" r="1.5" fill="#139ee0"/>
<circle cx="420.4" cy="192.95" r="1.5" fill="#139ee0"/>
<circle cx="423.4" cy="191.06" r="1.5" fill="#139ee0"/>
<circle cx="426.4" cy="189.48" r="1.5" fill="#139ee0"/>
<circle cx="429.4" cy="188.4" r="1.5" fill="#139ee0"/>
<circle cx="432.4" cy="187.96" r="1.5" fill="#139ee0"/>
<circle cx="435.4" cy="187.92" r="1.5" fill="#139ee0"/>
<circle cx="438.4" cy="188.06" r="1.5" fill="#139ee0"/>
<circle cx="441.4" cy="188.35" r="1.5" fill="#139ee0"/>
<circle cx="444.4" cy="188.83" r="1.5" fill="#139ee0"/>
<circle cx="447.4" cy="189.54" r="1.5" fill="#139ee0"/>
<circle cx="450.4" cy="190.38" r="1.5" fill="#139ee0"/>
<circle cx="453.4" cy="191.22" r="1.5" fill="#139ee0"/>
<circle cx="456.4" cy="192.11" r="1.5" fill="#139ee0"/>
<circle cx="459.4" cy="192.96" r="1.5" fill="#139ee0"/>
<circle cx="462.4" cy="193.59" r="1.5" fill="#139ee0"/>
<circle cx="465.4" cy="194.07" r="1.5" fill="#139ee0"/>
<circle cx="309.4" cy="257.07" r="1.3" fill="#8b5a1e"/>
<circle cx="312.7" cy="255.86" r="1.3" fill="#8b5a1e"/>
<circle cx="315.7" cy="248.73" r="1.3" fill="#8b5a1e"/>
<circle cx="318.7" cy="239.55" r="1.3" fill="#8b5a1e"/>
<circle cx="321.7" cy="233.71" r="1.3" fill="#8b5a1e"/>
<circle cx="324.4" cy="227.03" r="1.3" fill="#8b5a1e"/>
<circle cx="327.4" cy="223.05" r="1.3" fill="#8b5a1e"/>
<circle cx="330.4" cy="220.73" r="1.3" fill="#8b5a1e"/>
<circle cx="333.4" cy="217.67" r="1.3" fill="#8b5a1e"/>
<circle cx="336.4" cy="212.48" r="1.3" fill="#8b5a1e"/>
<circle cx="339.4" cy="205.34" r="1.3" fill="#8b5a1e"/>
<circle cx="342.7" cy="195.89" r="1.3" fill="#8b5a1e"/>
<circle cx="345.7" cy="189.95" r="1.3" fill="#8b5a1e"/>
<circle cx="348.7" cy="188.1" r="1.3" fill="#8b5a1e"/>
<circle cx="351.7" cy="195.89" r="1.3" fill="#8b5a1e"/>
<line x1="498" y1="188.6" x2="510.4" y2="188.6" stroke="#1fa055" stroke-width="0.95"/>
<circle cx="504.4" cy="188.6" r="1.6" fill="#168f48"/>
<text x="510.9" y="190.76" font-size="6.0" fill="#262626" class="t" textLength="21.26" lengthAdjust="spacingAndGlyphs">SAF_C1</text>
<line x1="498" y1="196.92" x2="510.4" y2="196.92" stroke="#e6c800" stroke-width="0.95"/>
<circle cx="504.4" cy="196.92" r="1.6" fill="#d8bc00"/>
<text x="510.9" y="199.08" font-size="6.0" fill="#262626" class="t" textLength="21.26" lengthAdjust="spacingAndGlyphs">SAF_C2</text>
<line x1="498" y1="205.24" x2="510.4" y2="205.24" stroke="#f2b040" stroke-width="0.95"/>
<circle cx="504.4" cy="205.24" r="1.6" fill="#eea530"/>
<text x="510.9" y="207.4" font-size="6.0" fill="#262626" class="t" textLength="26.57" lengthAdjust="spacingAndGlyphs">SAF_NW2</text>
<line x1="498" y1="213.56" x2="510.4" y2="213.56" stroke="#f8c890" stroke-width="0.95"/>
<circle cx="504.4" cy="213.56" r="1.6" fill="#f5bd7a"/>
<text x="510.9" y="215.72" font-size="6.0" fill="#262626" class="t" textLength="26.57" lengthAdjust="spacingAndGlyphs">SAF_NW3</text>
<line x1="498" y1="221.88" x2="510.4" y2="221.88" stroke="#f2f070" stroke-width="0.95"/>
<circle cx="504.4" cy="221.88" r="1.6" fill="#ecea5a"/>
<text x="510.9" y="224.04" font-size="6.0" fill="#262626" class="t" textLength="26.57" lengthAdjust="spacingAndGlyphs">SAF_NW4</text>
<line x1="498" y1="230.2" x2="510.4" y2="230.2" stroke="#fdfda0" stroke-width="0.95"/>
<circle cx="504.4" cy="230.2" r="1.6" fill="#f8f890"/>
<text x="510.9" y="232.36" font-size="6.0" fill="#262626" class="t" textLength="22.2" lengthAdjust="spacingAndGlyphs">SAF_NC</text>
<line x1="498" y1="238.52" x2="510.4" y2="238.52" stroke="#8cc850" stroke-width="0.95"/>
<circle cx="504.4" cy="238.52" r="1.6" fill="#7bbd3c"/>
<text x="510.9" y="240.68" font-size="6.0" fill="#262626" class="t" textLength="25.01" lengthAdjust="spacingAndGlyphs">SAF_NE2</text>
<line x1="498" y1="246.84" x2="510.4" y2="246.84" stroke="#ffea00" stroke-width="0.95"/>
<circle cx="504.4" cy="246.84" r="1.6" fill="#fce200"/>
<text x="510.9" y="249" font-size="6.0" fill="#262626" class="t" textLength="34.39" lengthAdjust="spacingAndGlyphs">SAF_WE_NC</text>
<line x1="498" y1="255.16" x2="510.4" y2="255.16" stroke="#1ca8e8" stroke-width="0.95"/>
<circle cx="504.4" cy="255.16" r="1.6" fill="#139ee0"/>
<text x="510.9" y="257.32" font-size="6.0" fill="#262626" class="t" textLength="26.57" lengthAdjust="spacingAndGlyphs">SAF_WC1</text>
<line x1="498" y1="263.48" x2="510.4" y2="263.48" stroke="#f8c890" stroke-width="0.95"/>
<circle cx="504.4" cy="263.48" r="1.6" fill="#8b5a1e"/>
<text x="510.9" y="265.64" font-size="6.0" fill="#262626" class="t" textLength="29.39" lengthAdjust="spacingAndGlyphs">CHAP_NBJ</text>
<line x1="27.5" y1="321.72" x2="27.5" y2="433.8" stroke="#d9d9d9" stroke-width="0.8"/>
<line x1="27.5" y1="433.8" x2="211.1" y2="433.8" stroke="#d9d9d9" stroke-width="0.8"/>
<text x="21.2" y="436.25" font-size="5.7" fill="#404040" class="t" text-anchor="end">0</text>
<text x="21.2" y="417.57" font-size="5.7" fill="#404040" class="t" text-anchor="end">20</text>
<text x="21.2" y="398.89" font-size="5.7" fill="#404040" class="t" text-anchor="end">40</text>
<text x="21.2" y="380.21" font-size="5.7" fill="#404040" class="t" text-anchor="end">60</text>
<text x="21.2" y="361.53" font-size="5.7" fill="#404040" class="t" text-anchor="end">80</text>
<text x="21.2" y="342.85" font-size="5.7" fill="#404040" class="t" text-anchor="end">100</text>
<text x="21.2" y="324.17" font-size="5.7" fill="#404040" class="t" text-anchor="end">120</text>
<text x="27.5" y="442.95" font-size="5.7" fill="#404040" class="t" text-anchor="middle">0</text>
<text x="58.1" y="442.95" font-size="5.7" fill="#404040" class="t" text-anchor="middle">5</text>
<text x="88.7" y="442.95" font-size="5.7" fill="#404040" class="t" text-anchor="middle">10</text>
<text x="119.3" y="442.95" font-size="5.7" fill="#404040" class="t" text-anchor="middle">15</text>
<text x="149.9" y="442.95" font-size="5.7" fill="#404040" class="t" text-anchor="middle">20</text>
<text x="180.5" y="442.95" font-size="5.7" fill="#404040" class="t" text-anchor="middle">25</text>
<text x="211.1" y="442.95" font-size="5.7" fill="#404040" class="t" text-anchor="middle">30</text>
<text x="136" y="315.85" font-size="6.3" font-weight="bold" fill="#262626" text-anchor="middle" textLength="69.2" lengthAdjust="spacingAndGlyphs">DESERT SHRUBLAND</text>
<text x="112.2" y="451.1" font-size="6.2" font-weight="bold" fill="#262626" text-anchor="middle" textLength="42.6" lengthAdjust="spacingAndGlyphs">AGCD (Mg/ha)</text>
<text transform="translate(10,377.2) rotate(-90)" font-size="5.4" font-weight="bold" fill="#262626" text-anchor="middle" textLength="60" lengthAdjust="spacingAndGlyphs">Relativized KD FRPN (%)</text>
<path d="M33.62 421.66 L34.09 421.52 L34.72 421.34 L35.47 421.14 L36.3 420.9 L37.18 420.64 L38.07 420.37 L38.93 420.08 L39.74 419.79 L40.51 419.48 L41.27 419.13 L42.04 418.77 L42.8 418.39 L43.56 418.01 L44.33 417.64 L45.09 417.3 L45.86 416.99 L46.62 416.72 L47.39 416.48 L48.16 416.26 L48.92 416.05 L49.69 415.85 L50.45 415.63 L51.22 415.39 L51.98 415.12 L52.75 414.81 L53.51 414.49 L54.28 414.14 L55.04 413.78 L55.8 413.41 L56.57 413.04 L57.33 412.67 L58.1 412.32 L58.87 411.97 L59.63 411.64 L60.4 411.31 L61.16 410.98 L61.92 410.64 L62.69 410.28 L63.46 409.91 L64.22 409.52 L64.98 409.1 L65.75 408.67 L66.52 408.22 L67.28 407.76 L68.05 407.29 L68.81 406.8 L69.57 406.3 L70.34 405.78 L71.11 405.26 L71.87 404.74 L72.64 404.22 L73.4 403.68 L74.17 403.11 L74.93 402.5 L75.7 401.83 L76.46 401.11 L77.23 400.31 L77.99 399.44 L78.76 398.51 L79.52 397.55 L80.28 396.56 L81.05 395.57 L81.81 394.59 L82.58 393.64 L83.34 392.72 L84.11 391.81 L84.88 390.92 L85.64 390.02 L86.41 389.1 L87.17 388.17 L87.94 387.19 L88.7 386.17 L89.47 385.09 L90.23 383.96 L91 382.8 L91.76 381.61 L92.53 380.41 L93.29 379.2 L94.06 378.01 L94.82 376.83 L95.59 375.66 L96.35 374.49 L97.12 373.32 L97.88 372.16 L98.64 370.99 L99.41 369.82 L100.17 368.65 L100.94 367.49 L101.7 366.31 L102.47 365.13 L103.23 363.94 L104 362.76 L104.77 361.58 L105.53 360.42 L106.3 359.27 L107.06 358.15 L107.83 357.03 L108.59 355.91 L109.36 354.8 L110.12 353.71 L110.89 352.65 L111.65 351.62 L112.42 350.65 L113.18 349.74 L113.95 348.89 L114.71 348.1 L115.48 347.35 L116.24 346.65 L117 345.98 L117.77 345.34 L118.53 344.73 L119.3 344.14 L120.06 343.49 L120.83 342.76 L121.59 342.01 L122.36 341.31 L123.12 340.73 L123.89 340.34 L124.66 340.21 L125.42 340.4 L126.19 340.98 L126.95 341.92 L127.72 343.13 L128.48 344.52 L129.25 346 L130.01 347.49 L130.78 348.89 L131.54 350.11 L132.31 351.08 L133.07 351.84 L133.84 352.49 L134.6 353.16 L135.37 353.95 L136.13 354.97 L136.9 356.33 L137.66 358.15 L138.42 360.54 L139.19 363.46 L139.95 366.75 L140.72 370.26 L141.49 373.84 L142.25 377.31 L143.02 380.54 L143.78 383.36 L144.55 385.75 L145.31 387.84 L146.07 389.72 L146.84 391.48 L147.61 393.22 L148.37 395.03 L149.13 397.01 L149.9 399.24 L150.67 401.83 L151.43 404.71 L152.19 407.78 L152.96 410.92 L153.73 413.99 L154.49 416.89 L155.25 419.48 L156.02 421.66 L156.79 423.41 L157.55 424.85 L158.31 426.04 L159.08 427.03 L159.85 427.87 L160.61 428.62 L161.38 429.33 L162.14 430.06 L162.95 430.78 L163.81 431.41 L164.7 431.97 L165.58 432.46 L166.41 432.88 L167.16 433.24 L167.79 433.54 L168.26 433.8" fill="none" stroke="#ffea00" stroke-width="1.2" stroke-linejoin="round"/>
<circle cx="33.62" cy="421.66" r="1.5" fill="#fce200"/>
<circle cx="39.74" cy="419.79" r="1.5" fill="#fce200"/>
<circle cx="45.86" cy="416.99" r="1.5" fill="#fce200"/>
<circle cx="51.98" cy="415.12" r="1.5" fill="#fce200"/>
<circle cx="58.1" cy="412.32" r="1.5" fill="#fce200"/>
<circle cx="64.22" cy="409.52" r="1.5" fill="#fce200"/>
<circle cx="70.34" cy="405.78" r="1.5" fill="#fce200"/>
<circle cx="76.46" cy="401.11" r="1.5" fill="#fce200"/>
<circle cx="82.58" cy="393.64" r="1.5" fill="#fce200"/>
<circle cx="88.7" cy="386.17" r="1.5" fill="#fce200"/>
<circle cx="94.82" cy="376.83" r="1.5" fill="#fce200"/>
<circle cx="100.94" cy="367.49" r="1.5" fill="#fce200"/>
<circle cx="107.06" cy="358.15" r="1.5" fill="#fce200"/>
<circle cx="113.18" cy="349.74" r="1.5" fill="#fce200"/>
<circle cx="119.3" cy="344.14" r="1.5" fill="#fce200"/>
<circle cx="125.42" cy="340.4" r="1.5" fill="#fce200"/>
<circle cx="131.54" cy="350.11" r="1.5" fill="#fce200"/>
<circle cx="137.66" cy="358.15" r="1.5" fill="#fce200"/>
<circle cx="143.78" cy="383.36" r="1.5" fill="#fce200"/>
<circle cx="149.9" cy="399.24" r="1.5" fill="#fce200"/>
<circle cx="156.02" cy="421.66" r="1.5" fill="#fce200"/>
<circle cx="162.14" cy="430.06" r="1.5" fill="#fce200"/>
<circle cx="168.26" cy="433.8" r="1.5" fill="#fce200"/>
<path d="M33.62 388.03 L34.09 387.09 L34.72 385.82 L35.47 384.31 L36.3 382.63 L37.18 380.88 L38.07 379.11 L38.93 377.43 L39.74 375.89 L40.51 374.49 L41.27 373.13 L42.04 371.8 L42.8 370.49 L43.56 369.19 L44.33 367.87 L45.09 366.53 L45.86 365.15 L46.62 363.73 L47.39 362.28 L48.16 360.8 L48.92 359.31 L49.69 357.83 L50.45 356.35 L51.22 354.9 L51.98 353.48 L52.75 352.03 L53.51 350.52 L54.28 348.99 L55.04 347.49 L55.8 346.07 L56.57 344.77 L57.33 343.65 L58.1 342.74 L58.87 342.03 L59.63 341.48 L60.4 341.08 L61.16 340.81 L61.92 340.66 L62.69 340.63 L63.46 340.7 L64.22 340.87 L64.98 341.15 L65.75 341.58 L66.52 342.14 L67.28 342.79 L68.05 343.53 L68.81 344.33 L69.57 345.16 L70.34 346 L71.11 346.91 L71.87 347.91 L72.64 348.98 L73.4 350.09 L74.17 351.22 L74.93 352.33 L75.7 353.4 L76.46 354.41 L77.23 355.33 L77.99 356.18 L78.76 357 L79.52 357.8 L80.28 358.61 L81.05 359.47 L81.81 360.39 L82.58 361.42 L83.34 362.53 L84.11 363.7 L84.88 364.93 L85.64 366.2 L86.41 367.52 L87.17 368.88 L87.94 370.27 L88.7 371.69 L89.47 373.14 L90.23 374.62 L91 376.14 L91.76 377.7 L92.53 379.3 L93.29 380.93 L94.06 382.59 L94.82 384.3 L95.59 386.05 L96.35 387.85 L97.12 389.69 L97.88 391.57 L98.64 393.47 L99.41 395.39 L100.17 397.31 L100.94 399.24 L101.75 401.29 L102.61 403.52 L103.5 405.83 L104.38 408.12 L105.21 410.29 L105.96 412.25 L106.59 413.89 L107.06 415.12" fill="none" stroke="#f08c30" stroke-width="1.2" stroke-linejoin="round"/>
<circle cx="33.62" cy="388.03" r="1.5" fill="#ee8020"/>
<circle cx="39.74" cy="375.89" r="1.5" fill="#ee8020"/>
<circle cx="45.86" cy="365.15" r="1.5" fill="#ee8020"/>
<circle cx="51.98" cy="353.48" r="1.5" fill="#ee8020"/>
<circle cx="58.1" cy="342.74" r="1.5" fill="#ee8020"/>
<circle cx="64.22" cy="340.87" r="1.5" fill="#ee8020"/>
<circle cx="70.34" cy="346" r="1.5" fill="#ee8020"/>
<circle cx="76.46" cy="354.41" r="1.5" fill="#ee8020"/>
<circle cx="82.58" cy="361.42" r="1.5" fill="#ee8020"/>
<circle cx="88.7" cy="371.69" r="1.5" fill="#ee8020"/>
<circle cx="94.82" cy="384.3" r="1.5" fill="#ee8020"/>
<circle cx="100.94" cy="399.24" r="1.5" fill="#ee8020"/>
<circle cx="107.06" cy="415.12" r="1.5" fill="#ee8020"/>
<path d="M33.62 378.69 L34.09 378.05 L34.72 377.18 L35.47 376.16 L36.3 375.02 L37.18 373.81 L38.07 372.59 L38.93 371.4 L39.74 370.29 L40.51 369.23 L41.27 368.16 L42.04 367.09 L42.8 366.03 L43.56 364.97 L44.33 363.92 L45.09 362.89 L45.86 361.88 L46.62 360.9 L47.39 359.93 L48.16 358.97 L48.92 358.03 L49.69 357.1 L50.45 356.19 L51.22 355.29 L51.98 354.41 L52.75 353.54 L53.51 352.67 L54.28 351.81 L55.04 350.97 L55.8 350.15 L56.57 349.35 L57.33 348.59 L58.1 347.87 L58.87 347.19 L59.63 346.53 L60.4 345.9 L61.16 345.3 L61.92 344.73 L62.69 344.19 L63.46 343.68 L64.22 343.2 L64.98 342.74 L65.75 342.3 L66.52 341.89 L67.28 341.51 L68.05 341.16 L68.81 340.86 L69.57 340.6 L70.34 340.4 L71.11 340.25 L71.87 340.16 L72.64 340.11 L73.4 340.11 L74.17 340.14 L74.93 340.2 L75.7 340.29 L76.46 340.4 L77.23 340.52 L77.99 340.67 L78.76 340.84 L79.52 341.04 L80.28 341.28 L81.05 341.56 L81.81 341.89 L82.58 342.27 L83.34 342.71 L84.11 343.22 L84.88 343.77 L85.64 344.37 L86.41 345 L87.17 345.64 L87.94 346.29 L88.7 346.94 L89.47 347.59 L90.23 348.27 L91 348.97 L91.76 349.68 L92.53 350.4 L93.29 351.12 L94.06 351.84 L94.82 352.54 L95.59 353.24 L96.35 353.93 L97.12 354.62 L97.88 355.31 L98.64 356.01 L99.41 356.71 L100.17 357.42 L100.94 358.15 L101.7 358.88 L102.47 359.62 L103.23 360.37 L104 361.13 L104.77 361.89 L105.53 362.66 L106.3 363.44 L107.06 364.22 L107.83 365.02 L108.59 365.84 L109.36 366.68 L110.12 367.52 L110.89 368.35 L111.65 369.16 L112.42 369.93 L113.18 370.66 L113.95 371.34 L114.71 371.98 L115.48 372.6 L116.24 373.18 L117 373.75 L117.77 374.31 L118.53 374.87 L119.3 375.43 L120.06 375.97 L120.83 376.5 L121.59 377.02 L122.36 377.53 L123.12 378.04 L123.89 378.56 L124.66 379.08 L125.42 379.63 L126.19 380.19 L126.95 380.76 L127.72 381.35 L128.48 381.93 L129.25 382.53 L130.01 383.12 L130.78 383.71 L131.54 384.3 L132.31 384.88 L133.07 385.47 L133.84 386.05 L134.6 386.63 L135.37 387.22 L136.13 387.8 L136.9 388.38 L137.66 388.97 L138.42 389.55 L139.19 390.13 L139.95 390.71 L140.72 391.29 L141.49 391.87 L142.25 392.46 L143.02 393.05 L143.78 393.64 L144.55 394.24 L145.31 394.84 L146.07 395.45 L146.84 396.06 L147.61 396.67 L148.37 397.28 L149.13 397.89 L149.9 398.49 L150.67 399.09 L151.43 399.69 L152.19 400.29 L152.96 400.88 L153.73 401.48 L154.49 402.07 L155.25 402.66 L156.02 403.26 L156.79 403.85 L157.55 404.45 L158.31 405.04 L159.08 405.63 L159.85 406.23 L160.61 406.82 L161.38 407.42 L162.14 408.02 L162.91 408.63 L163.67 409.24 L164.44 409.86 L165.2 410.47 L165.97 411.09 L166.73 411.69 L167.5 412.29 L168.26 412.88 L169.02 413.45 L169.79 414.01 L170.55 414.56 L171.32 415.1 L172.08 415.64 L172.85 416.18 L173.61 416.72 L174.38 417.27 L175.14 417.82 L175.91 418.36 L176.68 418.9 L177.44 419.45 L178.2 419.99 L178.97 420.54 L179.74 421.1 L180.5 421.66 L181.31 422.26 L182.17 422.92 L183.06 423.59 L183.94 424.27 L184.77 424.91 L185.52 425.48 L186.15 425.97 L186.62 426.33" fill="none" stroke="#d0141c" stroke-width="1.2" stroke-linejoin="round"/>
<circle cx="33.62" cy="378.69" r="1.5" fill="#c00c14"/>
<circle cx="39.74" cy="370.29" r="1.5" fill="#c00c14"/>
<circle cx="45.86" cy="361.88" r="1.5" fill="#c00c14"/>
<circle cx="51.98" cy="354.41" r="1.5" fill="#c00c14"/>
<circle cx="58.1" cy="347.87" r="1.5" fill="#c00c14"/>
<circle cx="64.22" cy="343.2" r="1.5" fill="#c00c14"/>
<circle cx="70.34" cy="340.4" r="1.5" fill="#c00c14"/>
<circle cx="76.46" cy="340.4" r="1.5" fill="#c00c14"/>
<circle cx="82.58" cy="342.27" r="1.5" fill="#c00c14"/>
<circle cx="88.7" cy="346.94" r="1.5" fill="#c00c14"/>
<circle cx="94.82" cy="352.54" r="1.5" fill="#c00c14"/>
<circle cx="100.94" cy="358.15" r="1.5" fill="#c00c14"/>
<circle cx="107.06" cy="364.22" r="1.5" fill="#c00c14"/>
<circle cx="113.18" cy="370.66" r="1.5" fill="#c00c14"/>
<circle cx="119.3" cy="375.43" r="1.5" fill="#c00c14"/>
<circle cx="125.42" cy="379.63" r="1.5" fill="#c00c14"/>
<circle cx="131.54" cy="384.3" r="1.5" fill="#c00c14"/>
<circle cx="137.66" cy="388.97" r="1.5" fill="#c00c14"/>
<circle cx="143.78" cy="393.64" r="1.5" fill="#c00c14"/>
<circle cx="149.9" cy="398.49" r="1.5" fill="#c00c14"/>
<circle cx="156.02" cy="403.26" r="1.5" fill="#c00c14"/>
<circle cx="162.14" cy="408.02" r="1.5" fill="#c00c14"/>
<circle cx="168.26" cy="412.88" r="1.5" fill="#c00c14"/>
<circle cx="174.38" cy="417.27" r="1.5" fill="#c00c14"/>
<circle cx="180.5" cy="421.66" r="1.5" fill="#c00c14"/>
<circle cx="186.62" cy="426.33" r="1.5" fill="#c00c14"/>
<path d="M33.62 406.71 L34.09 406.14 L34.72 405.37 L35.47 404.46 L36.3 403.45 L37.18 402.37 L38.07 401.29 L38.93 400.23 L39.74 399.24 L40.51 398.31 L41.27 397.37 L42.04 396.44 L42.8 395.51 L43.56 394.57 L44.33 393.64 L45.09 392.7 L45.86 391.77 L46.62 390.84 L47.39 389.9 L48.16 388.97 L48.92 388.03 L49.69 387.1 L50.45 386.17 L51.22 385.23 L51.98 384.3 L52.75 383.37 L53.51 382.44 L54.28 381.52 L55.04 380.59 L55.8 379.66 L56.57 378.73 L57.33 377.78 L58.1 376.83 L58.87 375.85 L59.63 374.85 L60.4 373.84 L61.16 372.83 L61.92 371.82 L62.69 370.82 L63.46 369.84 L64.22 368.89 L64.98 367.96 L65.75 367.06 L66.52 366.17 L67.28 365.3 L68.05 364.43 L68.81 363.58 L69.57 362.73 L70.34 361.88 L71.11 361.03 L71.87 360.18 L72.64 359.33 L73.4 358.5 L74.17 357.67 L74.93 356.87 L75.7 356.09 L76.46 355.34 L77.23 354.62 L77.99 353.93 L78.76 353.25 L79.52 352.59 L80.28 351.96 L81.05 351.35 L81.81 350.77 L82.58 350.21 L83.34 349.68 L84.11 349.17 L84.88 348.7 L85.64 348.25 L86.41 347.81 L87.17 347.39 L87.94 346.97 L88.7 346.56 L89.47 346.16 L90.23 345.76 L91 345.38 L91.76 345.01 L92.53 344.65 L93.29 344.3 L94.06 343.98 L94.82 343.67 L95.59 343.38 L96.35 343.11 L97.12 342.85 L97.88 342.61 L98.64 342.39 L99.41 342.18 L100.17 341.98 L100.94 341.8 L101.7 341.64 L102.47 341.49 L103.23 341.36 L104 341.25 L104.77 341.14 L105.53 341.05 L106.3 340.96 L107.06 340.87 L107.83 340.77 L108.59 340.67 L109.36 340.57 L110.12 340.48 L110.89 340.41 L111.65 340.37 L112.42 340.36 L113.18 340.4 L113.95 340.49 L114.71 340.62 L115.48 340.78 L116.24 340.98 L117 341.19 L117.77 341.42 L118.53 341.66 L119.3 341.89 L120.06 342.14 L120.83 342.41 L121.59 342.7 L122.36 342.99 L123.12 343.29 L123.89 343.58 L124.66 343.87 L125.42 344.14 L126.19 344.39 L126.95 344.63 L127.72 344.87 L128.48 345.11 L129.25 345.33 L130.01 345.56 L130.78 345.78 L131.54 346 L132.31 346.22 L133.07 346.44 L133.84 346.65 L134.6 346.86 L135.37 347.07 L136.13 347.28 L136.9 347.48 L137.66 347.69 L138.42 347.89 L139.19 348.09 L139.95 348.29 L140.72 348.48 L141.49 348.68 L142.25 348.88 L143.02 349.08 L143.78 349.27 L144.55 349.47 L145.31 349.67 L146.07 349.87 L146.84 350.07 L147.61 350.27 L148.37 350.47 L149.13 350.67 L149.9 350.86 L150.71 351.06 L151.57 351.28 L152.46 351.49 L153.34 351.71 L154.17 351.91 L154.92 352.09 L155.55 352.24 L156.02 352.36" fill="none" stroke="#8b5a1e" stroke-width="1.2" stroke-linejoin="round"/>
<circle cx="33.62" cy="406.71" r="1.5" fill="#7a4a14"/>
<circle cx="39.74" cy="399.24" r="1.5" fill="#7a4a14"/>
<circle cx="45.86" cy="391.77" r="1.5" fill="#7a4a14"/>
<circle cx="51.98" cy="384.3" r="1.5" fill="#7a4a14"/>
<circle cx="58.1" cy="376.83" r="1.5" fill="#7a4a14"/>
<circle cx="64.22" cy="368.89" r="1.5" fill="#7a4a14"/>
<circle cx="70.34" cy="361.88" r="1.5" fill="#7a4a14"/>
<circle cx="76.46" cy="355.34" r="1.5" fill="#7a4a14"/>
<circle cx="82.58" cy="350.21" r="1.5" fill="#7a4a14"/>
<circle cx="88.7" cy="346.56" r="1.5" fill="#7a4a14"/>
<circle cx="94.82" cy="343.67" r="1.5" fill="#7a4a14"/>
<circle cx="100.94" cy="341.8" r="1.5" fill="#7a4a14"/>
<circle cx="107.06" cy="340.87" r="1.5" fill="#7a4a14"/>
<circle cx="113.18" cy="340.4" r="1.5" fill="#7a4a14"/>
<circle cx="119.3" cy="341.89" r="1.5" fill="#7a4a14"/>
<circle cx="125.42" cy="344.14" r="1.5" fill="#7a4a14"/>
<circle cx="131.54" cy="346" r="1.5" fill="#7a4a14"/>
<circle cx="137.66" cy="347.69" r="1.5" fill="#7a4a14"/>
<circle cx="143.78" cy="349.27" r="1.5" fill="#7a4a14"/>
<circle cx="149.9" cy="350.86" r="1.5" fill="#7a4a14"/>
<circle cx="156.02" cy="352.36" r="1.5" fill="#7a4a14"/>
<line x1="229.5" y1="372.3" x2="240.6" y2="372.3" stroke="#ffea00" stroke-width="0.95"/>
<circle cx="235.25" cy="372.3" r="1.6" fill="#fce200"/>
<text x="242.2" y="374.46" font-size="6.0" fill="#262626" class="t" textLength="22.2" lengthAdjust="spacingAndGlyphs">DSH_C1</text>
<line x1="229.5" y1="382.2" x2="240.6" y2="382.2" stroke="#f08c30" stroke-width="0.95"/>
<circle cx="235.25" cy="382.2" r="1.6" fill="#ee8020"/>
<text x="242.2" y="384.36" font-size="6.0" fill="#262626" class="t" textLength="23.13" lengthAdjust="spacingAndGlyphs">DSH_NC</text>
<line x1="229.5" y1="392.1" x2="240.6" y2="392.1" stroke="#d0141c" stroke-width="0.95"/>
<circle cx="235.25" cy="392.1" r="1.6" fill="#c00c14"/>
<text x="242.2" y="394.26" font-size="6.0" fill="#262626" class="t" textLength="22.82" lengthAdjust="spacingAndGlyphs">DSH_NE</text>
<line x1="229.5" y1="402" x2="240.6" y2="402" stroke="#8b5a1e" stroke-width="0.95"/>
<circle cx="235.25" cy="402" r="1.6" fill="#7a4a14"/>
<text x="242.2" y="404.16" font-size="6.0" fill="#262626" class="t" textLength="25.64" lengthAdjust="spacingAndGlyphs">DSH_NBJ</text>
<line x1="306.8" y1="321.86" x2="306.8" y2="433.1" stroke="#d9d9d9" stroke-width="0.8"/>
<line x1="306.8" y1="433.1" x2="491.6" y2="433.1" stroke="#d9d9d9" stroke-width="0.8"/>
<text x="301.2" y="435.55" font-size="5.7" fill="#404040" class="t" text-anchor="end">0</text>
<text x="301.2" y="417.01" font-size="5.7" fill="#404040" class="t" text-anchor="end">20</text>
<text x="301.2" y="398.47" font-size="5.7" fill="#404040" class="t" text-anchor="end">40</text>
<text x="301.2" y="379.93" font-size="5.7" fill="#404040" class="t" text-anchor="end">60</text>
<text x="301.2" y="361.39" font-size="5.7" fill="#404040" class="t" text-anchor="end">80</text>
<text x="301.2" y="342.85" font-size="5.7" fill="#404040" class="t" text-anchor="end">100</text>
<text x="301.2" y="324.31" font-size="5.7" fill="#404040" class="t" text-anchor="end">120</text>
<text x="306.8" y="442.55" font-size="5.7" fill="#404040" class="t" text-anchor="middle">0</text>
<text x="333.2" y="442.55" font-size="5.7" fill="#404040" class="t" text-anchor="middle">10</text>
<text x="359.6" y="442.55" font-size="5.7" fill="#404040" class="t" text-anchor="middle">20</text>
<text x="386" y="442.55" font-size="5.7" fill="#404040" class="t" text-anchor="middle">30</text>
<text x="412.4" y="442.55" font-size="5.7" fill="#404040" class="t" text-anchor="middle">40</text>
<text x="438.8" y="442.55" font-size="5.7" fill="#404040" class="t" text-anchor="middle">50</text>
<text x="465.2" y="442.55" font-size="5.7" fill="#404040" class="t" text-anchor="middle">60</text>
<text x="491.6" y="442.55" font-size="5.7" fill="#404040" class="t" text-anchor="middle">70</text>
<text x="415.1" y="315.85" font-size="6.3" font-weight="bold" fill="#262626" text-anchor="middle" textLength="81.8" lengthAdjust="spacingAndGlyphs">NATURAL PASTURELAND</text>
<text x="399.1" y="450.4" font-size="6.2" font-weight="bold" fill="#262626" text-anchor="middle" textLength="41.8" lengthAdjust="spacingAndGlyphs">AGCD (Mg/ha)</text>
<text transform="translate(290,377) rotate(-90)" font-size="5.4" font-weight="bold" fill="#262626" text-anchor="middle" textLength="60" lengthAdjust="spacingAndGlyphs">Relativized KD FRPN (%)</text>
<path d="M317.36 395.09 L317.83 394.23 L318.44 393.07 L319.17 391.7 L319.98 390.17 L320.87 388.56 L321.8 386.95 L322.75 385.39 L323.7 383.97 L324.69 382.67 L325.76 381.42 L326.88 380.2 L328.04 378.99 L329.19 377.76 L330.32 376.5 L331.4 375.17 L332.41 373.77 L333.33 372.26 L334.21 370.65 L335.04 368.97 L335.84 367.27 L336.63 365.56 L337.41 363.89 L338.2 362.29 L339.01 360.79 L339.82 359.39 L340.61 358.04 L341.39 356.74 L342.18 355.49 L342.98 354.28 L343.81 353.11 L344.68 351.98 L345.61 350.88 L346.62 349.79 L347.72 348.72 L348.87 347.68 L350.05 346.69 L351.21 345.74 L352.33 344.87 L353.38 344.07 L354.32 343.37 L355.13 342.75 L355.83 342.19 L356.45 341.71 L357.03 341.3 L357.6 340.96 L358.19 340.7 L358.85 340.51 L359.6 340.4 L360.45 340.39 L361.37 340.49 L362.34 340.69 L363.35 340.94 L364.36 341.25 L365.36 341.59 L366.33 341.93 L367.26 342.25 L368.12 342.57 L368.93 342.9 L369.72 343.24 L370.49 343.6 L371.27 344 L372.08 344.42 L372.94 344.89 L373.86 345.41 L374.86 345.97 L375.93 346.58 L377.05 347.23 L378.2 347.92 L379.34 348.63 L380.47 349.37 L381.55 350.12 L382.57 350.88 L383.48 351.62 L384.31 352.34 L385.08 353.07 L385.84 353.83 L386.61 354.63 L387.44 355.51 L388.37 356.47 L389.43 357.55 L390.63 358.76 L391.95 360.1 L393.35 361.53 L394.81 363.04 L396.31 364.58 L397.82 366.12 L399.32 367.65 L400.78 369.14 L402.22 370.59 L403.67 372.03 L405.12 373.48 L406.58 374.93 L408.03 376.38 L409.49 377.83 L410.95 379.28 L412.4 380.72 L413.83 382.16 L415.23 383.59 L416.62 385.01 L418.01 386.43 L419.43 387.86 L420.89 389.32 L422.41 390.8 L424.02 392.31 L425.71 393.87 L427.46 395.48 L429.28 397.12 L431.14 398.77 L433.04 400.43 L434.96 402.08 L436.88 403.7 L438.8 405.29 L440.75 406.86 L442.75 408.43 L444.78 410 L446.82 411.55 L448.85 413.07 L450.84 414.55 L452.78 415.97 L454.64 417.34 L456.51 418.7 L458.44 420.07 L460.36 421.43 L462.23 422.73 L463.97 423.94 L465.53 425.01 L466.84 425.91 L467.84 426.61" fill="none" stroke="#ffe400" stroke-width="1.2" stroke-linejoin="round"/>
<circle cx="317.36" cy="395.09" r="1.5" fill="#f2d600"/>
<circle cx="321.32" cy="387.77" r="1.5" fill="#f2d600"/>
<circle cx="325.28" cy="381.98" r="1.5" fill="#f2d600"/>
<circle cx="329.24" cy="377.7" r="1.5" fill="#f2d600"/>
<circle cx="333.2" cy="372.48" r="1.5" fill="#f2d600"/>
<circle cx="337.16" cy="364.42" r="1.5" fill="#f2d600"/>
<circle cx="341.12" cy="357.19" r="1.5" fill="#f2d600"/>
<circle cx="345.08" cy="351.5" r="1.5" fill="#f2d600"/>
<circle cx="349.04" cy="347.54" r="1.5" fill="#f2d600"/>
<circle cx="353" cy="344.36" r="1.5" fill="#f2d600"/>
<circle cx="356.96" cy="341.34" r="1.5" fill="#f2d600"/>
<circle cx="360.92" cy="340.44" r="1.5" fill="#f2d600"/>
<circle cx="364.88" cy="341.43" r="1.5" fill="#f2d600"/>
<circle cx="368.84" cy="342.86" r="1.5" fill="#f2d600"/>
<circle cx="372.8" cy="344.82" r="1.5" fill="#f2d600"/>
<circle cx="376.76" cy="347.07" r="1.5" fill="#f2d600"/>
<circle cx="380.72" cy="349.54" r="1.5" fill="#f2d600"/>
<circle cx="384.68" cy="352.7" r="1.5" fill="#f2d600"/>
<circle cx="388.64" cy="356.74" r="1.5" fill="#f2d600"/>
<circle cx="392.6" cy="360.77" r="1.5" fill="#f2d600"/>
<circle cx="396.56" cy="364.83" r="1.5" fill="#f2d600"/>
<circle cx="400.52" cy="368.87" r="1.5" fill="#f2d600"/>
<circle cx="404.48" cy="372.84" r="1.5" fill="#f2d600"/>
<circle cx="408.44" cy="376.78" r="1.5" fill="#f2d600"/>
<circle cx="412.4" cy="380.72" r="1.5" fill="#f2d600"/>
<circle cx="416.36" cy="384.75" r="1.5" fill="#f2d600"/>
<circle cx="420.32" cy="388.75" r="1.5" fill="#f2d600"/>
<circle cx="429.56" cy="397.36" r="1.5" fill="#f2d600"/>
<circle cx="438.8" cy="405.29" r="1.5" fill="#f2d600"/>
<circle cx="444.08" cy="409.46" r="1.5" fill="#f2d600"/>
<circle cx="454.64" cy="417.34" r="1.5" fill="#f2d600"/>
<circle cx="459.92" cy="421.12" r="1.5" fill="#f2d600"/>
<circle cx="467.84" cy="426.61" r="1.5" fill="#f2d600"/>
<path d="M319.47 433.1 L319.72 432.43 L320.05 431.58 L320.44 430.57 L320.87 429.42 L321.33 428.15 L321.79 426.79 L322.23 425.34 L322.64 423.83 L323.02 422.21 L323.39 420.45 L323.76 418.58 L324.12 416.62 L324.49 414.6 L324.84 412.56 L325.2 410.53 L325.54 408.53 L325.89 406.54 L326.22 404.51 L326.55 402.46 L326.88 400.39 L327.21 398.33 L327.53 396.29 L327.86 394.28 L328.18 392.31 L328.52 390.37 L328.85 388.44 L329.19 386.52 L329.52 384.63 L329.85 382.77 L330.18 380.95 L330.51 379.19 L330.82 377.48 L331.13 375.83 L331.44 374.24 L331.73 372.69 L332.03 371.18 L332.32 369.72 L332.61 368.29 L332.9 366.89 L333.2 365.52 L333.49 364.19 L333.78 362.91 L334.07 361.67 L334.36 360.46 L334.65 359.27 L334.94 358.1 L335.25 356.95 L335.58 355.79 L335.91 354.63 L336.26 353.47 L336.61 352.32 L336.98 351.19 L337.35 350.08 L337.72 349.01 L338.1 347.97 L338.48 346.98 L338.87 346.01 L339.26 345.03 L339.66 344.06 L340.06 343.14 L340.47 342.29 L340.87 341.53 L341.26 340.89 L341.65 340.4 L342.02 340.05 L342.39 339.81 L342.74 339.67 L343.1 339.64 L343.46 339.7 L343.81 339.85 L344.18 340.09 L344.55 340.4 L344.94 340.83 L345.33 341.41 L345.72 342.11 L346.12 342.87 L346.52 343.68 L346.92 344.49 L347.32 345.26 L347.72 345.96 L348.11 346.55 L348.51 347.03 L348.9 347.47 L349.29 347.91 L349.68 348.42 L350.08 349.05 L350.48 349.85 L350.89 350.88 L351.3 352.19 L351.71 353.77 L352.12 355.54 L352.54 357.42 L352.96 359.33 L353.4 361.2 L353.85 362.95 L354.32 364.5 L354.81 365.89 L355.32 367.19 L355.85 368.42 L356.38 369.58 L356.93 370.69 L357.47 371.75 L358.01 372.78 L358.54 373.77 L359.07 374.7 L359.59 375.54 L360.12 376.31 L360.64 377.05 L361.16 377.79 L361.69 378.55 L362.23 379.36 L362.77 380.26 L363.3 381.22 L363.82 382.21 L364.34 383.22 L364.86 384.28 L365.41 385.37 L365.98 386.52 L366.59 387.72 L367.26 388.97 L367.97 390.34 L368.71 391.81 L369.48 393.37 L370.29 394.96 L371.13 396.55 L372.01 398.1 L372.92 399.58 L373.86 400.93 L374.84 402.18 L375.89 403.36 L376.97 404.48 L378.08 405.54 L379.21 406.58 L380.34 407.58 L381.46 408.57 L382.57 409.55 L383.65 410.54 L384.73 411.51 L385.8 412.46 L386.87 413.39 L387.95 414.28 L389.05 415.14 L390.15 415.94 L391.28 416.69 L392.39 417.37 L393.48 417.97 L394.55 418.51 L395.65 419.02 L396.8 419.5 L398.02 419.99 L399.34 420.5 L400.78 421.05 L402.32 421.62 L403.91 422.18 L405.57 422.74 L407.32 423.31 L409.17 423.91 L411.15 424.52 L413.28 425.17 L415.57 425.87 L418.23 426.66 L421.33 427.56 L424.68 428.53 L428.11 429.51 L431.42 430.45 L434.43 431.3 L436.95 432.02 L438.8 432.54" fill="none" stroke="#f07820" stroke-width="1.2" stroke-linejoin="round"/>
<circle cx="320" cy="431.7" r="1.5" fill="#ee6e14"/>
<circle cx="322.64" cy="423.83" r="1.5" fill="#ee6e14"/>
<circle cx="325.28" cy="410.05" r="1.5" fill="#ee6e14"/>
<circle cx="327.92" cy="393.89" r="1.5" fill="#ee6e14"/>
<circle cx="330.56" cy="378.9" r="1.5" fill="#ee6e14"/>
<circle cx="333.2" cy="365.52" r="1.5" fill="#ee6e14"/>
<circle cx="335.84" cy="354.88" r="1.5" fill="#ee6e14"/>
<circle cx="338.48" cy="346.98" r="1.5" fill="#ee6e14"/>
<circle cx="341.12" cy="341.12" r="1.5" fill="#ee6e14"/>
<circle cx="343.76" cy="339.83" r="1.5" fill="#ee6e14"/>
<circle cx="346.4" cy="343.44" r="1.5" fill="#ee6e14"/>
<circle cx="349.04" cy="347.63" r="1.5" fill="#ee6e14"/>
<circle cx="351.68" cy="353.66" r="1.5" fill="#ee6e14"/>
<circle cx="354.32" cy="364.5" r="1.5" fill="#ee6e14"/>
<circle cx="356.96" cy="370.76" r="1.5" fill="#ee6e14"/>
<circle cx="359.6" cy="375.55" r="1.5" fill="#ee6e14"/>
<circle cx="362.24" cy="379.38" r="1.5" fill="#ee6e14"/>
<circle cx="364.88" cy="384.31" r="1.5" fill="#ee6e14"/>
<circle cx="367.52" cy="389.48" r="1.5" fill="#ee6e14"/>
<circle cx="370.16" cy="394.7" r="1.5" fill="#ee6e14"/>
<circle cx="372.8" cy="399.39" r="1.5" fill="#ee6e14"/>
<circle cx="375.44" cy="402.85" r="1.5" fill="#ee6e14"/>
<circle cx="378.08" cy="405.54" r="1.5" fill="#ee6e14"/>
<circle cx="380.72" cy="407.92" r="1.5" fill="#ee6e14"/>
<circle cx="383.36" cy="410.27" r="1.5" fill="#ee6e14"/>
<circle cx="386" cy="412.63" r="1.5" fill="#ee6e14"/>
<circle cx="388.64" cy="414.82" r="1.5" fill="#ee6e14"/>
<circle cx="391.28" cy="416.69" r="1.5" fill="#ee6e14"/>
<circle cx="393.92" cy="418.19" r="1.5" fill="#ee6e14"/>
<circle cx="396.56" cy="419.4" r="1.5" fill="#ee6e14"/>
<circle cx="399.2" cy="420.45" r="1.5" fill="#ee6e14"/>
<circle cx="401.84" cy="421.44" r="1.5" fill="#ee6e14"/>
<circle cx="404.48" cy="422.37" r="1.5" fill="#ee6e14"/>
<circle cx="407.12" cy="423.25" r="1.5" fill="#ee6e14"/>
<circle cx="417.68" cy="426.5" r="1.5" fill="#ee6e14"/>
<circle cx="438.8" cy="432.54" r="1.5" fill="#ee6e14"/>
<path d="M325.28 377.48 L325.85 376.96 L326.58 376.34 L327.44 375.61 L328.42 374.76 L329.5 373.78 L330.66 372.68 L331.9 371.44 L333.2 370.06 L334.63 368.45 L336.25 366.56 L338 364.48 L339.8 362.3 L341.6 360.11 L343.35 357.98 L344.97 356.02 L346.4 354.31 L347.66 352.8 L348.81 351.42 L349.87 350.15 L350.86 348.97 L351.78 347.89 L352.65 346.87 L353.49 345.93 L354.32 345.04 L355.12 344.16 L355.88 343.29 L356.59 342.47 L357.26 341.73 L357.89 341.12 L358.49 340.67 L359.06 340.42 L359.6 340.4 L360.09 340.64 L360.51 341.11 L360.88 341.77 L361.23 342.6 L361.58 343.56 L361.93 344.61 L362.32 345.74 L362.77 346.89 L363.27 348.11 L363.8 349.45 L364.37 350.88 L364.95 352.39 L365.53 353.97 L366.12 355.6 L366.7 357.26 L367.26 358.94 L367.79 360.66 L368.3 362.44 L368.8 364.28 L369.3 366.15 L369.81 368.05 L370.34 369.97 L370.89 371.88 L371.48 373.77 L372.1 375.72 L372.72 377.75 L373.37 379.82 L374.04 381.88 L374.73 383.89 L375.46 385.79 L376.22 387.53 L377.02 389.07 L377.87 390.39 L378.77 391.55 L379.71 392.56 L380.67 393.45 L381.66 394.27 L382.66 395.02 L383.67 395.75 L384.68 396.48 L385.71 397.19 L386.78 397.83 L387.87 398.42 L388.97 398.97 L390.06 399.48 L391.13 399.97 L392.16 400.45 L393.13 400.93 L394 401.34 L394.77 401.65 L395.47 401.9 L396.16 402.15 L396.89 402.45 L397.69 402.85 L398.63 403.41 L399.73 404.18 L401.11 405.25 L402.77 406.63 L404.59 408.2 L406.48 409.85 L408.31 411.48 L409.98 412.97 L411.38 414.22 L412.4 415.12" fill="none" stroke="#fdfb7a" stroke-width="1.2" stroke-linejoin="round"/>
<circle cx="325.28" cy="377.48" r="0.9" fill="#f8f46a"/>
<circle cx="329.24" cy="374.01" r="0.9" fill="#f8f46a"/>
<circle cx="333.2" cy="370.06" r="0.9" fill="#f8f46a"/>
<circle cx="337.16" cy="365.48" r="0.9" fill="#f8f46a"/>
<circle cx="341.12" cy="360.7" r="0.9" fill="#f8f46a"/>
<circle cx="345.08" cy="355.89" r="0.9" fill="#f8f46a"/>
<circle cx="349.04" cy="351.15" r="0.9" fill="#f8f46a"/>
<circle cx="353" cy="346.48" r="0.9" fill="#f8f46a"/>
<circle cx="356.96" cy="342.06" r="0.9" fill="#f8f46a"/>
<circle cx="360.92" cy="341.86" r="0.9" fill="#f8f46a"/>
<circle cx="364.88" cy="352.22" r="0.9" fill="#f8f46a"/>
<circle cx="368.84" cy="364.42" r="0.9" fill="#f8f46a"/>
<circle cx="372.8" cy="377.99" r="0.9" fill="#f8f46a"/>
<circle cx="376.76" cy="388.56" r="0.9" fill="#f8f46a"/>
<circle cx="380.72" cy="393.49" r="0.9" fill="#f8f46a"/>
<circle cx="384.68" cy="396.48" r="0.9" fill="#f8f46a"/>
<circle cx="388.64" cy="398.8" r="0.9" fill="#f8f46a"/>
<circle cx="392.6" cy="400.67" r="0.9" fill="#f8f46a"/>
<circle cx="396.56" cy="402.31" r="0.9" fill="#f8f46a"/>
<circle cx="400.52" cy="404.79" r="0.9" fill="#f8f46a"/>
<circle cx="404.48" cy="408.1" r="0.9" fill="#f8f46a"/>
<circle cx="408.44" cy="411.59" r="0.9" fill="#f8f46a"/>
<circle cx="412.4" cy="415.12" r="0.9" fill="#f8f46a"/>
<path d="M311.82 370.43 L312.04 369.75 L312.34 368.84 L312.69 367.76 L313.09 366.55 L313.5 365.29 L313.93 364.03 L314.34 362.82 L314.72 361.72 L315.09 360.71 L315.46 359.71 L315.84 358.72 L316.22 357.75 L316.59 356.81 L316.95 355.88 L317.3 354.99 L317.62 354.12 L317.92 353.3 L318.19 352.52 L318.44 351.79 L318.68 351.07 L318.92 350.35 L319.17 349.63 L319.44 348.88 L319.74 348.09 L320.06 347.23 L320.41 346.28 L320.78 345.28 L321.16 344.29 L321.54 343.33 L321.91 342.46 L322.28 341.72 L322.64 341.14 L322.97 340.75 L323.29 340.5 L323.59 340.38 L323.89 340.34 L324.2 340.35 L324.53 340.39 L324.89 340.41 L325.28 340.4 L325.71 340.32 L326.16 340.18 L326.65 340.04 L327.14 339.92 L327.66 339.86 L328.18 339.89 L328.71 340.06 L329.24 340.4 L329.79 340.94 L330.37 341.66 L330.97 342.53 L331.57 343.48 L332.16 344.49 L332.72 345.5 L333.25 346.47 L333.73 347.35 L334.15 348.17 L334.52 348.97 L334.85 349.75 L335.16 350.53 L335.46 351.3 L335.75 352.08 L336.05 352.86 L336.37 353.66 L336.7 354.45 L337.03 355.21 L337.36 355.97 L337.69 356.74 L338.02 357.54 L338.35 358.38 L338.68 359.27 L339.01 360.24 L339.34 361.31 L339.66 362.47 L339.99 363.7 L340.31 364.97 L340.64 366.24 L340.97 367.49 L341.31 368.68 L341.65 369.79 L342 370.8 L342.35 371.75 L342.71 372.65 L343.07 373.53 L343.43 374.39 L343.8 375.24 L344.17 376.12 L344.55 377.02 L344.93 377.93 L345.31 378.82 L345.69 379.71 L346.07 380.6 L346.46 381.52 L346.87 382.47 L347.28 383.47 L347.72 384.53 L348.17 385.7 L348.64 386.99 L349.11 388.37 L349.6 389.76 L350.1 391.11 L350.62 392.38 L351.14 393.51 L351.68 394.44 L352.23 395.17 L352.78 395.72 L353.33 396.14 L353.91 396.47 L354.5 396.75 L355.11 397 L355.76 397.27 L356.43 397.6 L357.13 397.95 L357.85 398.3 L358.59 398.63 L359.35 398.96 L360.15 399.29 L360.98 399.62 L361.85 399.95 L362.77 400.28 L363.76 400.62 L364.83 400.96 L365.95 401.3 L367.11 401.65 L368.26 401.99 L369.39 402.34 L370.48 402.7 L371.48 403.07 L372.41 403.41 L373.28 403.72 L374.11 404.02 L374.91 404.33 L375.7 404.68 L376.48 405.09 L377.27 405.6 L378.08 406.22 L378.92 406.98 L379.79 407.87 L380.66 408.85 L381.53 409.9 L382.38 410.97 L383.2 412.03 L383.97 413.06 L384.68 414 L385.35 414.93 L386 415.89 L386.62 416.85 L387.2 417.78 L387.73 418.65 L388.2 419.43 L388.59 420.09 L388.9 420.59" fill="none" stroke="#e8141e" stroke-width="1.3" stroke-linejoin="round"/>
<circle cx="312.08" cy="369.63" r="1.5" fill="#e00a14"/>
<circle cx="314.72" cy="361.72" r="1.5" fill="#e00a14"/>
<circle cx="317.36" cy="354.82" r="1.5" fill="#e00a14"/>
<circle cx="320" cy="347.39" r="1.5" fill="#e00a14"/>
<circle cx="322.64" cy="341.14" r="1.5" fill="#e00a14"/>
<circle cx="325.28" cy="340.4" r="1.5" fill="#e00a14"/>
<circle cx="327.92" cy="339.88" r="1.5" fill="#e00a14"/>
<circle cx="330.56" cy="341.94" r="1.5" fill="#e00a14"/>
<circle cx="333.2" cy="346.37" r="1.5" fill="#e00a14"/>
<circle cx="335.84" cy="352.31" r="1.5" fill="#e00a14"/>
<circle cx="338.48" cy="358.73" r="1.5" fill="#e00a14"/>
<circle cx="341.12" cy="368.03" r="1.5" fill="#e00a14"/>
<circle cx="343.76" cy="375.15" r="1.5" fill="#e00a14"/>
<circle cx="346.4" cy="381.37" r="1.5" fill="#e00a14"/>
<circle cx="349.04" cy="388.16" r="1.5" fill="#e00a14"/>
<circle cx="351.68" cy="394.44" r="1.5" fill="#e00a14"/>
<circle cx="354.32" cy="396.66" r="1.5" fill="#e00a14"/>
<circle cx="356.96" cy="397.87" r="1.5" fill="#e00a14"/>
<circle cx="359.6" cy="399.06" r="1.5" fill="#e00a14"/>
<circle cx="362.24" cy="400.09" r="1.5" fill="#e00a14"/>
<circle cx="364.88" cy="400.98" r="1.5" fill="#e00a14"/>
<circle cx="367.52" cy="401.77" r="1.5" fill="#e00a14"/>
<circle cx="370.16" cy="402.59" r="1.5" fill="#e00a14"/>
<circle cx="372.8" cy="403.55" r="1.5" fill="#e00a14"/>
<circle cx="375.44" cy="404.56" r="1.5" fill="#e00a14"/>
<circle cx="378.08" cy="406.22" r="1.5" fill="#e00a14"/>
<circle cx="380.72" cy="408.92" r="1.5" fill="#e00a14"/>
<circle cx="383.36" cy="412.25" r="1.5" fill="#e00a14"/>
<circle cx="386" cy="415.89" r="1.5" fill="#e00a14"/>
<circle cx="388.64" cy="420.16" r="1.5" fill="#e00a14"/>
<path d="M313.93 422.25 L317.36 379.15 L320.53 353.1 L323.17 340.4 L325.81 354.12 L328.45 371.18 L331.35 377.67 L335.58 372.85 L339.54 372.85 L343.23 360.79 L346.14 349.95 L349.57 353.1 L352.74 378.41 L356.43 426.15 L359.6 433.1 L364.88 425.41 L373.86 407.33" fill="none" stroke="#f04848" stroke-width="1.2" stroke-linejoin="round"/>
<circle cx="313.93" cy="422.25" r="1.5" fill="#ee3c3c"/>
<circle cx="317.36" cy="379.15" r="1.5" fill="#ee3c3c"/>
<circle cx="320.53" cy="353.1" r="1.5" fill="#ee3c3c"/>
<circle cx="323.17" cy="340.4" r="1.5" fill="#ee3c3c"/>
<circle cx="325.81" cy="354.12" r="1.5" fill="#ee3c3c"/>
<circle cx="328.45" cy="371.18" r="1.5" fill="#ee3c3c"/>
<circle cx="331.35" cy="377.67" r="1.5" fill="#ee3c3c"/>
<circle cx="335.58" cy="372.85" r="1.5" fill="#ee3c3c"/>
<circle cx="339.54" cy="372.85" r="1.5" fill="#ee3c3c"/>
<circle cx="343.23" cy="360.79" r="1.5" fill="#ee3c3c"/>
<circle cx="346.14" cy="349.95" r="1.5" fill="#ee3c3c"/>
<circle cx="349.57" cy="353.1" r="1.5" fill="#ee3c3c"/>
<circle cx="352.74" cy="378.41" r="1.5" fill="#ee3c3c"/>
<circle cx="356.43" cy="426.15" r="1.5" fill="#ee3c3c"/>
<circle cx="359.6" cy="433.1" r="1.5" fill="#ee3c3c"/>
<circle cx="364.88" cy="425.41" r="1.5" fill="#ee3c3c"/>
<circle cx="373.86" cy="407.33" r="1.5" fill="#ee3c3c"/>
<line x1="499.6" y1="367.4" x2="508.4" y2="367.4" stroke="#ffe400" stroke-width="0.95"/>
<circle cx="504.2" cy="367.4" r="1.6" fill="#f2d600"/>
<text x="510.7" y="369.56" font-size="6.0" fill="#262626" class="t" textLength="21.16" lengthAdjust="spacingAndGlyphs">PAS_C1</text>
<line x1="499.6" y1="377.2" x2="508.4" y2="377.2" stroke="#f07820" stroke-width="0.95"/>
<circle cx="504.2" cy="377.2" r="1.6" fill="#ee6e14"/>
<text x="510.7" y="379.36" font-size="6.0" fill="#262626" class="t" textLength="21.16" lengthAdjust="spacingAndGlyphs">PAS_C2</text>
<line x1="499.6" y1="387" x2="508.4" y2="387" stroke="#fdfb7a" stroke-width="0.95"/>
<circle cx="504.2" cy="387" r="1.6" fill="#f8f46a"/>
<text x="510.7" y="389.16" font-size="6.0" fill="#262626" class="t" textLength="24.91" lengthAdjust="spacingAndGlyphs">PAS_SC1</text>
<line x1="499.6" y1="396.8" x2="508.4" y2="396.8" stroke="#e8141e" stroke-width="0.95"/>
<circle cx="504.2" cy="396.8" r="1.6" fill="#e00a14"/>
<text x="510.7" y="398.96" font-size="6.0" fill="#262626" class="t" textLength="24.91" lengthAdjust="spacingAndGlyphs">PAS_SC2</text>
<line x1="499.6" y1="406.6" x2="508.4" y2="406.6" stroke="#f04848" stroke-width="0.95"/>
<circle cx="504.2" cy="406.6" r="1.6" fill="#ee3c3c"/>
<text x="510.7" y="408.76" font-size="6.0" fill="#262626" class="t" textLength="34.29" lengthAdjust="spacingAndGlyphs">PAS_WE_NC</text>
<line x1="165.8" y1="472.1" x2="165.8" y2="584.3" stroke="#d9d9d9" stroke-width="0.8"/>
<line x1="165.8" y1="584.3" x2="335.72" y2="584.3" stroke="#d9d9d9" stroke-width="0.8"/>
<text x="160" y="586.75" font-size="5.7" fill="#404040" class="t" text-anchor="end">0</text>
<text x="160" y="568.05" font-size="5.7" fill="#404040" class="t" text-anchor="end">20</text>
<text x="160" y="549.35" font-size="5.7" fill="#404040" class="t" text-anchor="end">40</text>
<text x="160" y="530.65" font-size="5.7" fill="#404040" class="t" text-anchor="end">60</text>
<text x="160" y="511.95" font-size="5.7" fill="#404040" class="t" text-anchor="end">80</text>
<text x="160" y="493.25" font-size="5.7" fill="#404040" class="t" text-anchor="end">100</text>
<text x="160" y="474.55" font-size="5.7" fill="#404040" class="t" text-anchor="end">120</text>
<text x="165.8" y="593.45" font-size="5.7" fill="#404040" class="t" text-anchor="middle">0</text>
<text x="194.12" y="593.45" font-size="5.7" fill="#404040" class="t" text-anchor="middle">10</text>
<text x="222.44" y="593.45" font-size="5.7" fill="#404040" class="t" text-anchor="middle">20</text>
<text x="250.76" y="593.45" font-size="5.7" fill="#404040" class="t" text-anchor="middle">30</text>
<text x="279.08" y="593.45" font-size="5.7" fill="#404040" class="t" text-anchor="middle">40</text>
<text x="307.4" y="593.45" font-size="5.7" fill="#404040" class="t" text-anchor="middle">50</text>
<text x="335.72" y="593.45" font-size="5.7" fill="#404040" class="t" text-anchor="middle">60</text>
<text x="274.2" y="466.05" font-size="6.3" font-weight="bold" fill="#262626" text-anchor="middle" textLength="167.5" lengthAdjust="spacingAndGlyphs">DRY AND WET TROPICAL FOREST AND WETLANDS</text>
<text x="251" y="601.9" font-size="6.2" font-weight="bold" fill="#262626" text-anchor="middle" textLength="41.8" lengthAdjust="spacingAndGlyphs">AGCD (Mg/ha)</text>
<text transform="translate(148,527.8) rotate(-90)" font-size="5.4" font-weight="bold" fill="#262626" text-anchor="middle" textLength="56.5" lengthAdjust="spacingAndGlyphs">Relativized KD FRPN (%)</text>
<path d="M176 555.5 L176.29 554.27 L176.67 552.64 L177.12 550.69 L177.62 548.53 L178.17 546.23 L178.76 543.89 L179.36 541.59 L179.96 539.42 L180.59 537.33 L181.26 535.21 L181.96 533.07 L182.69 530.92 L183.43 528.76 L184.17 526.6 L184.9 524.45 L185.62 522.31 L186.34 520.11 L187.06 517.83 L187.79 515.51 L188.51 513.2 L189.23 510.98 L189.93 508.88 L190.62 506.97 L191.29 505.29 L191.94 503.87 L192.6 502.65 L193.24 501.6 L193.87 500.68 L194.48 499.87 L195.06 499.13 L195.6 498.42 L196.1 497.72 L196.55 497 L196.95 496.27 L197.31 495.59 L197.64 494.97 L197.96 494.46 L198.27 494.09 L198.59 493.88 L198.93 493.89 L199.29 494.11 L199.64 494.53 L200 495.12 L200.35 495.85 L200.7 496.69 L201.06 497.61 L201.41 498.59 L201.77 499.59 L202.11 500.69 L202.45 501.93 L202.79 503.29 L203.13 504.7 L203.47 506.12 L203.83 507.5 L204.2 508.8 L204.6 509.97 L205 511.09 L205.41 512.25 L205.83 513.4 L206.26 514.47 L206.72 515.42 L207.2 516.19 L207.72 516.73 L208.28 516.98 L208.89 516.91 L209.56 516.55 L210.26 515.97 L210.99 515.2 L211.73 514.3 L212.48 513.33 L213.22 512.34 L213.94 511.37 L214.65 510.36 L215.36 509.23 L216.07 508.01 L216.78 506.75 L217.48 505.49 L218.19 504.25 L218.9 503.08 L219.61 502.02 L220.32 500.99 L221.02 499.92 L221.73 498.87 L222.44 497.87 L223.15 496.98 L223.86 496.26 L224.56 495.74 L225.27 495.47 L225.96 495.43 L226.62 495.53 L227.27 495.8 L227.93 496.25 L228.6 496.9 L229.32 497.75 L230.09 498.83 L230.94 500.15 L231.88 501.83 L232.93 503.91 L234.04 506.27 L235.18 508.82 L236.33 511.43 L237.44 514 L238.49 516.41 L239.43 518.57 L240.28 520.51 L241.05 522.36 L241.76 524.13 L242.44 525.82 L243.1 527.44 L243.75 529 L244.41 530.5 L245.1 531.94 L245.8 533.27 L246.51 534.47 L247.21 535.57 L247.91 536.63 L248.62 537.68 L249.32 538.78 L250.04 539.97 L250.76 541.29 L251.51 542.78 L252.29 544.4 L253.08 546.11 L253.88 547.87 L254.65 549.63 L255.39 551.34 L256.08 552.97 L256.71 554.47 L257.28 555.91 L257.82 557.34 L258.32 558.74 L258.78 560.07 L259.19 561.29 L259.55 562.38 L259.86 563.3 L260.11 564.01" fill="none" stroke="#7cc040" stroke-width="1.2" stroke-linejoin="round"/>
<circle cx="177.13" cy="550.65" r="1.5" fill="#6cb334"/>
<circle cx="180.81" cy="536.63" r="1.5" fill="#6cb334"/>
<circle cx="184.49" cy="525.66" r="1.5" fill="#6cb334"/>
<circle cx="188.17" cy="514.27" r="1.5" fill="#6cb334"/>
<circle cx="191.85" cy="504.06" r="1.5" fill="#6cb334"/>
<circle cx="195.54" cy="498.51" r="1.5" fill="#6cb334"/>
<circle cx="199.22" cy="494.07" r="1.5" fill="#6cb334"/>
<circle cx="202.9" cy="503.74" r="1.5" fill="#6cb334"/>
<circle cx="206.58" cy="515.14" r="1.5" fill="#6cb334"/>
<circle cx="210.26" cy="515.96" r="1.5" fill="#6cb334"/>
<circle cx="213.94" cy="511.37" r="1.5" fill="#6cb334"/>
<circle cx="217.63" cy="505.24" r="1.5" fill="#6cb334"/>
<circle cx="221.31" cy="499.5" r="1.5" fill="#6cb334"/>
<circle cx="224.99" cy="495.58" r="1.5" fill="#6cb334"/>
<circle cx="228.67" cy="496.98" r="1.5" fill="#6cb334"/>
<circle cx="232.35" cy="502.76" r="1.5" fill="#6cb334"/>
<circle cx="236.03" cy="510.75" r="1.5" fill="#6cb334"/>
<circle cx="239.72" cy="519.22" r="1.5" fill="#6cb334"/>
<circle cx="243.4" cy="528.16" r="1.5" fill="#6cb334"/>
<circle cx="247.08" cy="535.37" r="1.5" fill="#6cb334"/>
<circle cx="250.76" cy="541.29" r="1.5" fill="#6cb334"/>
<circle cx="254.44" cy="549.15" r="1.5" fill="#6cb334"/>
<circle cx="258.12" cy="558.19" r="1.5" fill="#6cb334"/>
<path d="M182.79 541.29 L183.38 540.68 L184.17 539.84 L185.11 538.84 L186.16 537.74 L187.26 536.62 L188.37 535.52 L189.44 534.54 L190.44 533.72 L191.37 533.08 L192.29 532.58 L193.21 532.17 L194.12 531.8 L195.03 531.43 L195.95 531.02 L196.87 530.52 L197.8 529.88 L198.75 529.08 L199.72 528.14 L200.7 527.11 L201.68 526.03 L202.65 524.96 L203.61 523.96 L204.54 523.05 L205.45 522.31 L206.33 521.64 L207.2 520.96 L208.05 520.33 L208.88 519.79 L209.69 519.38 L210.48 519.17 L211.24 519.19 L211.96 519.5 L212.64 520.2 L213.26 521.26 L213.85 522.59 L214.42 524.1 L214.98 525.68 L215.55 527.24 L216.15 528.67 L216.78 529.88 L217.43 530.93 L218.09 531.91 L218.75 532.85 L219.43 533.72 L220.13 534.54 L220.86 535.29 L221.63 535.99 L222.44 536.62 L223.29 537.09 L224.17 537.39 L225.09 537.58 L226.03 537.73 L227.01 537.91 L228.01 538.21 L229.04 538.68 L230.09 539.42 L231.17 540.42 L232.3 541.63 L233.45 542.99 L234.64 544.47 L235.83 546.04 L237.04 547.65 L238.24 549.26 L239.43 550.83 L240.61 552.42 L241.79 554.09 L242.96 555.81 L244.14 557.54 L245.33 559.26 L246.55 560.94 L247.79 562.53 L249.06 564.01 L250.4 565.39 L251.8 566.69 L253.25 567.93 L254.71 569.11 L256.15 570.25 L257.55 571.35 L258.88 572.41 L260.11 573.45 L261.28 574.5 L262.44 575.56 L263.56 576.6 L264.62 577.6 L265.59 578.52 L266.46 579.34 L267.19 580.03 L267.75 580.56" fill="none" stroke="#f8d090" stroke-width="1.2" stroke-linejoin="round"/>
<circle cx="182.79" cy="541.29" r="1.0" fill="#f5c47a"/>
<circle cx="186.47" cy="537.42" r="1.0" fill="#f5c47a"/>
<circle cx="190.16" cy="533.95" r="1.0" fill="#f5c47a"/>
<circle cx="193.84" cy="531.91" r="1.0" fill="#f5c47a"/>
<circle cx="197.52" cy="530.08" r="1.0" fill="#f5c47a"/>
<circle cx="201.2" cy="526.56" r="1.0" fill="#f5c47a"/>
<circle cx="204.88" cy="522.78" r="1.0" fill="#f5c47a"/>
<circle cx="208.56" cy="519.99" r="1.0" fill="#f5c47a"/>
<circle cx="212.24" cy="519.79" r="1.0" fill="#f5c47a"/>
<circle cx="215.93" cy="528.14" r="1.0" fill="#f5c47a"/>
<circle cx="219.61" cy="533.93" r="1.0" fill="#f5c47a"/>
<circle cx="223.29" cy="537.09" r="1.0" fill="#f5c47a"/>
<circle cx="226.97" cy="537.9" r="1.0" fill="#f5c47a"/>
<circle cx="230.65" cy="539.94" r="1.0" fill="#f5c47a"/>
<circle cx="234.33" cy="544.1" r="1.0" fill="#f5c47a"/>
<circle cx="238.02" cy="548.96" r="1.0" fill="#f5c47a"/>
<circle cx="241.7" cy="553.96" r="1.0" fill="#f5c47a"/>
<circle cx="245.38" cy="559.33" r="1.0" fill="#f5c47a"/>
<circle cx="249.06" cy="564.01" r="1.0" fill="#f5c47a"/>
<circle cx="252.74" cy="567.49" r="1.0" fill="#f5c47a"/>
<circle cx="256.42" cy="570.46" r="1.0" fill="#f5c47a"/>
<circle cx="260.11" cy="573.45" r="1.0" fill="#f5c47a"/>
<circle cx="263.79" cy="576.82" r="1.0" fill="#f5c47a"/>
<circle cx="267.47" cy="580.29" r="1.0" fill="#f5c47a"/>
<path d="M174.3 556.25 L174.74 553.73 L175.34 550.37 L176.05 546.37 L176.84 541.93 L177.67 537.23 L178.49 532.47 L179.27 527.84 L179.96 523.52 L180.55 519.21 L181.05 514.58 L181.52 509.82 L181.98 505.12 L182.47 500.68 L183.03 496.68 L183.69 493.32 L184.49 490.8 L185.44 489.23 L186.5 488.5 L187.65 488.4 L188.88 488.75 L190.16 489.36 L191.47 490.03 L192.8 490.58 L194.12 490.8 L195.47 490.74 L196.9 490.58 L198.37 490.39 L199.85 490.22 L201.33 490.12 L202.78 490.14 L204.16 490.35 L205.45 490.8 L206.65 491.46 L207.77 492.26 L208.84 493.21 L209.87 494.31 L210.88 495.55 L211.89 496.94 L212.9 498.47 L213.94 500.15 L214.97 501.98 L215.94 503.95 L216.88 506.07 L217.84 508.33 L218.84 510.74 L219.92 513.3 L221.11 516 L222.44 518.85 L223.94 521.91 L225.58 525.21 L227.34 528.68 L229.17 532.29 L231.04 535.97 L232.93 539.67 L234.79 543.33 L236.6 546.9 L238.41 550.53 L240.27 554.35 L242.16 558.24 L244.03 562.09 L245.86 565.8 L247.62 569.25 L249.26 572.34 L250.76 574.95 L252.15 577.08 L253.48 578.82 L254.73 580.24 L255.89 581.38 L256.94 582.3 L257.86 583.06 L258.64 583.71 L259.26 584.3" fill="none" stroke="#fdfdb0" stroke-width="1.2" stroke-linejoin="round"/>
<circle cx="174.3" cy="556.25" r="0.8" fill="#f8f8a0"/>
<circle cx="178.54" cy="532.16" r="0.8" fill="#f8f8a0"/>
<circle cx="182.79" cy="498.36" r="0.8" fill="#f8f8a0"/>
<circle cx="187.04" cy="488.45" r="0.8" fill="#f8f8a0"/>
<circle cx="191.29" cy="489.94" r="0.8" fill="#f8f8a0"/>
<circle cx="195.54" cy="490.73" r="0.8" fill="#f8f8a0"/>
<circle cx="199.78" cy="490.22" r="0.8" fill="#f8f8a0"/>
<circle cx="204.03" cy="490.33" r="0.8" fill="#f8f8a0"/>
<circle cx="208.28" cy="492.71" r="0.8" fill="#f8f8a0"/>
<circle cx="212.53" cy="497.91" r="0.8" fill="#f8f8a0"/>
<circle cx="216.78" cy="505.83" r="0.8" fill="#f8f8a0"/>
<circle cx="221.02" cy="515.81" r="0.8" fill="#f8f8a0"/>
<circle cx="225.27" cy="524.58" r="0.8" fill="#f8f8a0"/>
<circle cx="229.52" cy="532.99" r="0.8" fill="#f8f8a0"/>
<circle cx="233.77" cy="541.32" r="0.8" fill="#f8f8a0"/>
<circle cx="238.02" cy="549.75" r="0.8" fill="#f8f8a0"/>
<circle cx="242.26" cy="558.46" r="0.8" fill="#f8f8a0"/>
<circle cx="246.51" cy="567.07" r="0.8" fill="#f8f8a0"/>
<circle cx="250.76" cy="574.95" r="0.8" fill="#f8f8a0"/>
<circle cx="255.01" cy="580.51" r="0.8" fill="#f8f8a0"/>
<circle cx="259.26" cy="584.3" r="0.8" fill="#f8f8a0"/>
<path d="M177.98 583.93 L178.35 583.28 L178.84 582.42 L179.43 581.4 L180.08 580.27 L180.78 579.06 L181.48 577.82 L182.16 576.59 L182.79 575.42 L183.39 574.27 L183.98 573.1 L184.57 571.91 L185.16 570.71 L185.76 569.5 L186.36 568.28 L186.98 567.08 L187.61 565.88 L188.26 564.73 L188.93 563.65 L189.61 562.58 L190.3 561.51 L190.99 560.39 L191.67 559.2 L192.34 557.89 L192.99 556.44 L193.61 554.82 L194.21 553.05 L194.8 551.17 L195.38 549.22 L195.96 547.22 L196.55 545.21 L197.16 543.22 L197.8 541.29 L198.47 539.4 L199.16 537.5 L199.86 535.61 L200.58 533.72 L201.3 531.82 L202.03 529.93 L202.75 528.04 L203.47 526.14 L204.17 524.24 L204.88 522.31 L205.59 520.38 L206.3 518.45 L207.01 516.54 L207.71 514.65 L208.42 512.8 L209.13 511 L209.84 509.2 L210.54 507.39 L211.24 505.59 L211.94 503.83 L212.65 502.13 L213.36 500.53 L214.07 499.05 L214.79 497.72 L215.51 496.52 L216.23 495.42 L216.94 494.41 L217.66 493.51 L218.39 492.72 L219.15 492.05 L219.93 491.5 L220.74 491.08 L221.61 490.78 L222.52 490.58 L223.47 490.5 L224.44 490.54 L225.41 490.71 L226.35 491.01 L227.26 491.44 L228.1 492.02 L228.89 492.72 L229.64 493.55 L230.35 494.51 L231.04 495.6 L231.72 496.84 L232.39 498.22 L233.07 499.76 L233.77 501.46 L234.48 503.33 L235.18 505.38 L235.89 507.58 L236.6 509.93 L237.31 512.42 L238.02 515.02 L238.72 517.73 L239.43 520.53 L240.14 523.49 L240.85 526.63 L241.56 529.91 L242.26 533.3 L242.97 536.75 L243.68 540.21 L244.39 543.64 L245.1 546.99 L245.82 550.43 L246.58 554.04 L247.34 557.73 L248.1 561.37 L248.84 564.88 L249.54 568.13 L250.19 571.03 L250.76 573.45 L251.27 575.4 L251.73 576.95 L252.15 578.17 L252.53 579.13 L252.86 579.88 L253.15 580.48 L253.39 581 L253.59 581.5" fill="none" stroke="#f0d800" stroke-width="1.2" stroke-linejoin="round"/>
<circle cx="180.81" cy="579" r="1.5" fill="#e8cc00"/>
<circle cx="184.49" cy="572.08" r="1.5" fill="#e8cc00"/>
<circle cx="188.17" cy="564.88" r="1.5" fill="#e8cc00"/>
<circle cx="191.85" cy="558.83" r="1.5" fill="#e8cc00"/>
<circle cx="195.54" cy="548.67" r="1.5" fill="#e8cc00"/>
<circle cx="199.22" cy="537.34" r="1.5" fill="#e8cc00"/>
<circle cx="202.9" cy="527.65" r="1.5" fill="#e8cc00"/>
<circle cx="206.58" cy="517.69" r="1.5" fill="#e8cc00"/>
<circle cx="210.26" cy="508.1" r="1.5" fill="#e8cc00"/>
<circle cx="213.94" cy="499.31" r="1.5" fill="#e8cc00"/>
<circle cx="217.63" cy="493.56" r="1.5" fill="#e8cc00"/>
<circle cx="221.31" cy="490.88" r="1.5" fill="#e8cc00"/>
<circle cx="224.99" cy="490.64" r="1.5" fill="#e8cc00"/>
<circle cx="228.67" cy="492.52" r="1.5" fill="#e8cc00"/>
<circle cx="232.35" cy="498.14" r="1.5" fill="#e8cc00"/>
<circle cx="236.03" cy="508.05" r="1.5" fill="#e8cc00"/>
<circle cx="239.72" cy="521.71" r="1.5" fill="#e8cc00"/>
<circle cx="243.4" cy="538.82" r="1.5" fill="#e8cc00"/>
<circle cx="247.08" cy="556.45" r="1.5" fill="#e8cc00"/>
<circle cx="250.76" cy="573.45" r="1.5" fill="#e8cc00"/>
<path d="M168.49 572.52 L168.94 571.15 L169.54 569.26 L170.27 567.01 L171.06 564.54 L171.9 562.01 L172.72 559.56 L173.51 557.34 L174.21 555.5 L174.84 554.04 L175.44 552.8 L176.01 551.73 L176.58 550.77 L177.13 549.88 L177.69 548.99 L178.25 548.04 L178.83 546.99 L179.42 545.88 L180.02 544.79 L180.62 543.69 L181.22 542.58 L181.83 541.42 L182.43 540.21 L183.04 538.92 L183.64 537.55 L184.25 536.05 L184.85 534.44 L185.46 532.73 L186.07 530.98 L186.67 529.22 L187.27 527.47 L187.87 525.78 L188.46 524.18 L189.03 522.65 L189.6 521.16 L190.16 519.7 L190.72 518.28 L191.28 516.88 L191.84 515.51 L192.41 514.18 L192.99 512.87 L193.56 511.54 L194.1 510.2 L194.65 508.86 L195.2 507.56 L195.78 506.33 L196.39 505.21 L197.06 504.23 L197.8 503.42 L198.62 502.82 L199.51 502.4 L200.46 502.13 L201.45 501.97 L202.46 501.86 L203.47 501.77 L204.47 501.65 L205.45 501.46 L206.42 501.22 L207.41 500.98 L208.4 500.75 L209.4 500.52 L210.37 500.29 L211.32 500.05 L212.23 499.82 L213.09 499.59 L213.89 499.32 L214.63 499.01 L215.33 498.68 L216 498.36 L216.66 498.07 L217.33 497.85 L218.02 497.72 L218.76 497.72 L219.5 497.87 L220.23 498.16 L220.96 498.55 L221.71 499 L222.5 499.47 L223.34 499.93 L224.26 500.32 L225.27 500.62 L226.39 500.82 L227.59 500.97 L228.87 501.08 L230.21 501.16 L231.58 501.22 L232.98 501.28 L234.37 501.36 L235.75 501.46 L237.11 501.64 L238.48 501.93 L239.86 502.25 L241.26 502.56 L242.67 502.79 L244.11 502.9 L245.58 502.81 L247.08 502.49 L248.66 501.84 L250.34 500.91 L252.06 499.76 L253.8 498.5 L255.52 497.2 L257.17 495.95 L258.71 494.85 L260.11 493.98 L261.34 493.28 L262.45 492.65 L263.45 492.09 L264.39 491.62 L265.29 491.24 L266.17 490.98 L267.08 490.83 L268.04 490.8 L269.02 490.89 L270.01 491.09 L271 491.4 L271.98 491.82 L272.97 492.35 L273.96 493 L274.96 493.76 L275.96 494.63 L276.99 495.67 L278.05 496.88 L279.12 498.23 L280.2 499.68 L281.25 501.2 L282.28 502.74 L283.26 504.27 L284.18 505.76 L285.02 507.22 L285.78 508.71 L286.49 510.21 L287.17 511.73 L287.85 513.26 L288.55 514.78 L289.3 516.31 L290.12 517.82 L291.02 519.36 L291.97 520.93 L292.95 522.52 L293.97 524.1 L294.99 525.65 L296.03 527.15 L297.05 528.57 L298.05 529.88 L299.04 531.11 L300.03 532.27 L301.02 533.37 L302 534.41 L302.99 535.38 L303.98 536.29 L304.98 537.14 L305.98 537.92 L306.96 538.62 L307.9 539.21 L308.83 539.73 L309.77 540.19 L310.75 540.61 L311.8 541.03 L312.94 541.47 L314.2 541.94 L315.68 542.47 L317.42 543.04 L319.3 543.63 L321.22 544.21 L323.08 544.75 L324.77 545.24 L326.19 545.65 L327.22 545.96" fill="none" stroke="#20a8e8" stroke-width="1.2" stroke-linejoin="round"/>
<circle cx="168.63" cy="572.09" r="1.5" fill="#14a0e0"/>
<circle cx="172.03" cy="561.61" r="1.5" fill="#14a0e0"/>
<circle cx="175.43" cy="552.82" r="1.5" fill="#14a0e0"/>
<circle cx="178.83" cy="546.99" r="1.5" fill="#14a0e0"/>
<circle cx="182.23" cy="540.62" r="1.5" fill="#14a0e0"/>
<circle cx="185.62" cy="532.26" r="1.5" fill="#14a0e0"/>
<circle cx="189.02" cy="522.68" r="1.5" fill="#14a0e0"/>
<circle cx="192.42" cy="514.15" r="1.5" fill="#14a0e0"/>
<circle cx="195.82" cy="506.26" r="1.5" fill="#14a0e0"/>
<circle cx="199.22" cy="502.54" r="1.5" fill="#14a0e0"/>
<circle cx="202.62" cy="501.85" r="1.5" fill="#14a0e0"/>
<circle cx="206.01" cy="501.32" r="1.5" fill="#14a0e0"/>
<circle cx="209.41" cy="500.51" r="1.5" fill="#14a0e0"/>
<circle cx="212.81" cy="499.67" r="1.5" fill="#14a0e0"/>
<circle cx="216.21" cy="498.26" r="1.5" fill="#14a0e0"/>
<circle cx="219.61" cy="497.91" r="1.5" fill="#14a0e0"/>
<circle cx="223.01" cy="499.74" r="1.5" fill="#14a0e0"/>
<circle cx="226.4" cy="500.82" r="1.5" fill="#14a0e0"/>
<circle cx="229.8" cy="501.13" r="1.5" fill="#14a0e0"/>
<circle cx="233.2" cy="501.3" r="1.5" fill="#14a0e0"/>
<circle cx="236.6" cy="501.57" r="1.5" fill="#14a0e0"/>
<circle cx="240" cy="502.28" r="1.5" fill="#14a0e0"/>
<circle cx="243.4" cy="502.84" r="1.5" fill="#14a0e0"/>
<circle cx="246.8" cy="502.55" r="1.5" fill="#14a0e0"/>
<circle cx="250.19" cy="500.99" r="1.5" fill="#14a0e0"/>
<circle cx="253.59" cy="498.65" r="1.5" fill="#14a0e0"/>
<circle cx="256.99" cy="496.09" r="1.5" fill="#14a0e0"/>
<circle cx="260.39" cy="493.82" r="1.5" fill="#14a0e0"/>
<circle cx="263.79" cy="491.92" r="1.5" fill="#14a0e0"/>
<circle cx="267.19" cy="490.82" r="1.5" fill="#14a0e0"/>
<circle cx="270.58" cy="491.27" r="1.5" fill="#14a0e0"/>
<circle cx="273.98" cy="493.01" r="1.5" fill="#14a0e0"/>
<circle cx="277.38" cy="496.11" r="1.5" fill="#14a0e0"/>
<circle cx="280.78" cy="500.52" r="1.5" fill="#14a0e0"/>
<circle cx="284.18" cy="505.76" r="1.5" fill="#14a0e0"/>
<circle cx="287.58" cy="512.65" r="1.5" fill="#14a0e0"/>
<circle cx="290.97" cy="519.28" r="1.5" fill="#14a0e0"/>
<circle cx="294.37" cy="524.72" r="1.5" fill="#14a0e0"/>
<circle cx="297.77" cy="529.51" r="1.5" fill="#14a0e0"/>
<circle cx="301.17" cy="533.53" r="1.5" fill="#14a0e0"/>
<circle cx="304.57" cy="536.79" r="1.5" fill="#14a0e0"/>
<circle cx="307.97" cy="539.25" r="1.5" fill="#14a0e0"/>
<circle cx="311.36" cy="540.86" r="1.5" fill="#14a0e0"/>
<circle cx="314.76" cy="542.15" r="1.5" fill="#14a0e0"/>
<circle cx="318.16" cy="543.27" r="1.5" fill="#14a0e0"/>
<circle cx="321.56" cy="544.3" r="1.5" fill="#14a0e0"/>
<circle cx="324.96" cy="545.3" r="1.5" fill="#14a0e0"/>
<path d="M168.49 559.8 L168.95 557.85 L169.56 555.17 L170.3 551.97 L171.12 548.46 L171.96 544.86 L172.78 541.37 L173.55 538.21 L174.21 535.59 L174.77 533.52 L175.27 531.82 L175.72 530.37 L176.15 529.08 L176.57 527.83 L177.01 526.53 L177.47 525.06 L177.98 523.34 L178.52 521.31 L179.09 519.08 L179.67 516.7 L180.27 514.26 L180.88 511.83 L181.5 509.47 L182.14 507.27 L182.79 505.29 L183.46 503.49 L184.15 501.79 L184.85 500.18 L185.57 498.67 L186.29 497.28 L187.02 496.02 L187.74 494.88 L188.46 493.89 L189.16 493.03 L189.87 492.32 L190.58 491.74 L191.29 491.28 L192 490.94 L192.7 490.7 L193.41 490.56 L194.12 490.52 L194.83 490.6 L195.54 490.81 L196.24 491.14 L196.95 491.57 L197.66 492.08 L198.37 492.65 L199.08 493.26 L199.78 493.89 L200.49 494.53 L201.2 495.2 L201.91 495.92 L202.62 496.7 L203.32 497.54 L204.03 498.47 L204.74 499.49 L205.45 500.62 L206.16 501.9 L206.86 503.33 L207.57 504.88 L208.28 506.51 L208.99 508.16 L209.7 509.8 L210.4 511.38 L211.11 512.87 L211.82 514.29 L212.53 515.7 L213.24 517.1 L213.94 518.46 L214.65 519.78 L215.36 521.04 L216.07 522.23 L216.78 523.34 L217.48 524.36 L218.19 525.29 L218.9 526.15 L219.61 526.96 L220.32 527.72 L221.02 528.46 L221.73 529.17 L222.44 529.88 L223.13 530.57 L223.81 531.22 L224.48 531.84 L225.15 532.43 L225.83 533.01 L226.55 533.58 L227.3 534.16 L228.1 534.75 L228.96 535.33 L229.88 535.9 L230.83 536.47 L231.8 537.03 L232.8 537.6 L233.79 538.18 L234.78 538.79 L235.75 539.42 L236.71 540.08 L237.67 540.77 L238.63 541.48 L239.59 542.21 L240.55 542.94 L241.51 543.67 L242.45 544.4 L243.4 545.12 L244.32 545.84 L245.21 546.55 L246.09 547.27 L246.97 547.98 L247.87 548.7 L248.79 549.41 L249.75 550.12 L250.76 550.83 L251.82 551.5 L252.9 552.14 L254.01 552.76 L255.15 553.38 L256.33 554.04 L257.54 554.75 L258.8 555.54 L260.11 556.44 L261.48 557.47 L262.95 558.62 L264.47 559.86 L266.02 561.15 L267.57 562.46 L269.11 563.75 L270.59 565 L272 566.16 L273.4 567.3 L274.85 568.48 L276.3 569.65 L277.7 570.79 L279.01 571.85 L280.18 572.8 L281.16 573.59 L281.91 574.2" fill="none" stroke="#a66a30" stroke-width="1.2" stroke-linejoin="round"/>
<circle cx="168.63" cy="559.2" r="1.5" fill="#8b5a1e"/>
<circle cx="172.31" cy="543.35" r="1.5" fill="#8b5a1e"/>
<circle cx="176" cy="529.55" r="1.5" fill="#8b5a1e"/>
<circle cx="179.68" cy="516.67" r="1.5" fill="#8b5a1e"/>
<circle cx="183.36" cy="503.77" r="1.5" fill="#8b5a1e"/>
<circle cx="187.04" cy="495.98" r="1.5" fill="#8b5a1e"/>
<circle cx="190.72" cy="491.65" r="1.5" fill="#8b5a1e"/>
<circle cx="194.4" cy="490.55" r="1.5" fill="#8b5a1e"/>
<circle cx="198.08" cy="492.42" r="1.5" fill="#8b5a1e"/>
<circle cx="201.77" cy="495.78" r="1.5" fill="#8b5a1e"/>
<circle cx="205.45" cy="500.62" r="1.5" fill="#8b5a1e"/>
<circle cx="209.13" cy="508.49" r="1.5" fill="#8b5a1e"/>
<circle cx="212.81" cy="516.26" r="1.5" fill="#8b5a1e"/>
<circle cx="216.49" cy="522.89" r="1.5" fill="#8b5a1e"/>
<circle cx="220.17" cy="527.57" r="1.5" fill="#8b5a1e"/>
<circle cx="223.86" cy="531.26" r="1.5" fill="#8b5a1e"/>
<circle cx="227.54" cy="534.33" r="1.5" fill="#8b5a1e"/>
<circle cx="231.22" cy="536.69" r="1.5" fill="#8b5a1e"/>
<circle cx="234.9" cy="538.87" r="1.5" fill="#8b5a1e"/>
<circle cx="238.58" cy="541.45" r="1.5" fill="#8b5a1e"/>
<circle cx="242.26" cy="544.26" r="1.5" fill="#8b5a1e"/>
<circle cx="245.95" cy="547.15" r="1.5" fill="#8b5a1e"/>
<circle cx="249.63" cy="550.03" r="1.5" fill="#8b5a1e"/>
<circle cx="253.31" cy="552.37" r="1.5" fill="#8b5a1e"/>
<circle cx="256.99" cy="554.42" r="1.5" fill="#8b5a1e"/>
<circle cx="260.67" cy="556.86" r="1.5" fill="#8b5a1e"/>
<circle cx="264.35" cy="559.76" r="1.5" fill="#8b5a1e"/>
<circle cx="268.04" cy="562.85" r="1.5" fill="#8b5a1e"/>
<circle cx="271.72" cy="565.93" r="1.5" fill="#8b5a1e"/>
<circle cx="275.4" cy="568.92" r="1.5" fill="#8b5a1e"/>
<circle cx="279.08" cy="571.91" r="1.5" fill="#8b5a1e"/>
<path d="M168.63 545.03 L169.05 545.28 L169.58 545.57 L170.22 545.91 L170.93 546.32 L171.72 546.79 L172.55 547.35 L173.41 548.01 L174.3 548.77 L175.24 549.7 L176.29 550.8 L177.4 552.03 L178.54 553.33 L179.69 554.64 L180.8 555.91 L181.85 557.09 L182.79 558.12 L183.64 559.15 L184.41 560.31 L185.12 561.48 L185.8 562.56 L186.46 563.43 L187.11 563.99 L187.77 564.13 L188.46 563.73 L189.16 562.78 L189.87 561.36 L190.58 559.56 L191.29 557.42 L192 555.02 L192.7 552.42 L193.41 549.69 L194.12 546.9 L194.81 543.9 L195.47 540.57 L196.12 537 L196.77 533.28 L197.45 529.52 L198.17 525.8 L198.94 522.21 L199.78 518.85 L200.71 515.58 L201.71 512.24 L202.76 508.92 L203.85 505.7 L204.97 502.67 L206.09 499.89 L207.2 497.47 L208.28 495.47 L209.34 493.93 L210.4 492.77 L211.47 491.94 L212.53 491.38 L213.59 491.05 L214.65 490.87 L215.71 490.81 L216.78 490.8 L217.84 490.81 L218.9 490.87 L219.96 491.05 L221.02 491.38 L222.09 491.94 L223.15 492.77 L224.21 493.93 L225.27 495.47 L226.33 497.47 L227.4 499.89 L228.46 502.67 L229.52 505.7 L230.58 508.92 L231.64 512.24 L232.71 515.58 L233.77 518.85 L234.83 522.16 L235.89 525.64 L236.95 529.23 L238.02 532.88 L239.08 536.52 L240.14 540.11 L241.2 543.59 L242.26 546.9 L243.35 550.14 L244.45 553.4 L245.57 556.62 L246.69 559.76 L247.78 562.74 L248.84 565.53 L249.83 568.06 L250.76 570.27 L251.64 572.18 L252.51 573.82 L253.34 575.22 L254.12 576.41 L254.84 577.42 L255.47 578.27 L256.01 579 L256.42 579.62" fill="none" stroke="#fcf080" stroke-width="1.2" stroke-linejoin="round"/>
<circle cx="168.63" cy="545.03" r="0.9" fill="#f5e86a"/>
<circle cx="172.88" cy="547.6" r="0.9" fill="#f5e86a"/>
<circle cx="177.13" cy="551.73" r="0.9" fill="#f5e86a"/>
<circle cx="181.38" cy="556.56" r="0.9" fill="#f5e86a"/>
<circle cx="185.62" cy="562.28" r="0.9" fill="#f5e86a"/>
<circle cx="189.87" cy="561.36" r="0.9" fill="#f5e86a"/>
<circle cx="194.12" cy="546.9" r="0.9" fill="#f5e86a"/>
<circle cx="198.37" cy="524.87" r="0.9" fill="#f5e86a"/>
<circle cx="202.62" cy="509.38" r="0.9" fill="#f5e86a"/>
<circle cx="206.86" cy="498.2" r="0.9" fill="#f5e86a"/>
<circle cx="211.11" cy="492.22" r="0.9" fill="#f5e86a"/>
<circle cx="215.36" cy="490.83" r="0.9" fill="#f5e86a"/>
<circle cx="219.61" cy="490.99" r="0.9" fill="#f5e86a"/>
<circle cx="223.86" cy="493.55" r="0.9" fill="#f5e86a"/>
<circle cx="228.1" cy="501.74" r="0.9" fill="#f5e86a"/>
<circle cx="232.35" cy="514.46" r="0.9" fill="#f5e86a"/>
<circle cx="236.6" cy="528.04" r="0.9" fill="#f5e86a"/>
<circle cx="240.85" cy="542.43" r="0.9" fill="#f5e86a"/>
<circle cx="245.1" cy="555.25" r="0.9" fill="#f5e86a"/>
<circle cx="249.34" cy="566.82" r="0.9" fill="#f5e86a"/>
<circle cx="253.59" cy="575.6" r="0.9" fill="#f5e86a"/>
<path d="M176 544.09 L176.53 543.41 L177.24 542.48 L178.1 541.36 L179.04 540.13 L180.03 538.87 L181.01 537.64 L181.95 536.52 L182.79 535.59 L183.55 534.81 L184.29 534.13 L185 533.52 L185.69 532.96 L186.38 532.43 L187.07 531.93 L187.76 531.43 L188.46 530.91 L189.16 530.39 L189.87 529.89 L190.58 529.41 L191.29 528.94 L192 528.47 L192.7 528.01 L193.41 527.55 L194.12 527.08 L194.83 526.61 L195.54 526.14 L196.24 525.67 L196.95 525.21 L197.66 524.74 L198.37 524.28 L199.08 523.81 L199.78 523.34 L200.49 522.85 L201.2 522.34 L201.91 521.82 L202.62 521.3 L203.32 520.8 L204.03 520.33 L204.74 519.89 L205.45 519.5 L206.12 519.22 L206.73 519.05 L207.32 518.93 L207.93 518.84 L208.57 518.71 L209.3 518.5 L210.13 518.15 L211.11 517.63 L212.24 516.9 L213.5 515.99 L214.86 514.95 L216.3 513.83 L217.8 512.68 L219.34 511.54 L220.89 510.46 L222.44 509.5 L224.02 508.59 L225.67 507.65 L227.37 506.72 L229.1 505.84 L230.82 505.03 L232.52 504.33 L234.17 503.79 L235.75 503.42 L237.3 503.31 L238.87 503.44 L240.42 503.74 L241.93 504.14 L243.37 504.57 L244.73 504.95 L245.97 505.22 L247.08 505.29 L247.99 505.15 L248.72 504.84 L249.32 504.43 L249.84 503.97 L250.33 503.5 L250.85 503.1 L251.45 502.8 L252.18 502.67 L253.03 502.64 L253.96 502.62 L254.94 502.66 L255.96 502.77 L257.01 503.01 L258.06 503.41 L259.1 504 L260.11 504.82 L261.1 505.94 L262.09 507.33 L263.08 508.95 L264.07 510.7 L265.06 512.54 L266.05 514.38 L267.04 516.17 L268.04 517.82 L269.02 519.39 L270.01 520.95 L271 522.5 L271.98 524.03 L272.97 525.54 L273.96 527.03 L274.96 528.48 L275.96 529.88 L276.97 531.2 L277.98 532.41 L279 533.57 L280.02 534.7 L281.04 535.87 L282.08 537.11 L283.12 538.46 L284.18 539.98 L285.31 541.78 L286.54 543.88 L287.81 546.15 L289.08 548.47 L290.28 550.7 L291.37 552.73 L292.28 554.44 L292.96 555.69" fill="none" stroke="#ffe400" stroke-width="1.2" stroke-linejoin="round"/>
<circle cx="177.13" cy="542.63" r="1.5" fill="#f2d600"/>
<circle cx="180.81" cy="537.9" r="1.5" fill="#f2d600"/>
<circle cx="184.49" cy="533.95" r="1.5" fill="#f2d600"/>
<circle cx="188.17" cy="531.12" r="1.5" fill="#f2d600"/>
<circle cx="191.85" cy="528.56" r="1.5" fill="#f2d600"/>
<circle cx="195.54" cy="526.14" r="1.5" fill="#f2d600"/>
<circle cx="199.22" cy="523.72" r="1.5" fill="#f2d600"/>
<circle cx="202.9" cy="521.1" r="1.5" fill="#f2d600"/>
<circle cx="206.58" cy="519.09" r="1.5" fill="#f2d600"/>
<circle cx="210.26" cy="518.09" r="1.5" fill="#f2d600"/>
<circle cx="213.94" cy="515.65" r="1.5" fill="#f2d600"/>
<circle cx="217.63" cy="512.81" r="1.5" fill="#f2d600"/>
<circle cx="221.31" cy="510.2" r="1.5" fill="#f2d600"/>
<circle cx="224.99" cy="508.04" r="1.5" fill="#f2d600"/>
<circle cx="228.67" cy="506.05" r="1.5" fill="#f2d600"/>
<circle cx="232.35" cy="504.4" r="1.5" fill="#f2d600"/>
<circle cx="236.03" cy="503.4" r="1.5" fill="#f2d600"/>
<circle cx="239.72" cy="503.6" r="1.5" fill="#f2d600"/>
<circle cx="243.4" cy="504.58" r="1.5" fill="#f2d600"/>
<circle cx="247.08" cy="505.29" r="1.5" fill="#f2d600"/>
<circle cx="250.76" cy="503.17" r="1.5" fill="#f2d600"/>
<circle cx="254.44" cy="502.64" r="1.5" fill="#f2d600"/>
<circle cx="258.12" cy="503.45" r="1.5" fill="#f2d600"/>
<circle cx="261.8" cy="506.93" r="1.5" fill="#f2d600"/>
<circle cx="265.49" cy="513.33" r="1.5" fill="#f2d600"/>
<circle cx="269.17" cy="519.61" r="1.5" fill="#f2d600"/>
<circle cx="272.85" cy="525.36" r="1.5" fill="#f2d600"/>
<circle cx="276.53" cy="530.62" r="1.5" fill="#f2d600"/>
<circle cx="280.21" cy="534.93" r="1.5" fill="#f2d600"/>
<circle cx="283.89" cy="539.57" r="1.5" fill="#f2d600"/>
<circle cx="287.58" cy="545.73" r="1.5" fill="#f2d600"/>
<circle cx="291.26" cy="552.53" r="1.5" fill="#f2d600"/>
<path d="M178.83 539.42 L179.2 538.63 L179.69 537.6 L180.28 536.38 L180.93 535.01 L181.62 533.54 L182.33 532.01 L183.01 530.46 L183.64 528.95 L184.25 527.4 L184.85 525.76 L185.46 524.05 L186.07 522.3 L186.67 520.56 L187.27 518.85 L187.87 517.21 L188.46 515.67 L189.04 514.23 L189.62 512.85 L190.2 511.53 L190.77 510.25 L191.34 509 L191.9 507.76 L192.45 506.53 L192.99 505.29 L193.51 504.03 L194.02 502.74 L194.53 501.44 L195.02 500.17 L195.51 498.94 L195.99 497.78 L196.47 496.71 L196.95 495.76 L197.42 494.91 L197.89 494.14 L198.34 493.44 L198.79 492.82 L199.24 492.28 L199.7 491.81 L200.16 491.41 L200.63 491.08 L201.12 490.82 L201.61 490.62 L202.11 490.49 L202.62 490.43 L203.12 490.46 L203.62 490.57 L204.11 490.78 L204.6 491.08 L205.06 491.45 L205.51 491.86 L205.95 492.35 L206.39 492.93 L206.83 493.63 L207.29 494.49 L207.77 495.54 L208.28 496.78 L208.82 498.34 L209.38 500.23 L209.97 502.35 L210.56 504.59 L211.18 506.87 L211.8 509.07 L212.44 511.1 L213.09 512.87 L213.76 514.38 L214.45 515.74 L215.16 516.98 L215.87 518.12 L216.6 519.2 L217.32 520.24 L218.04 521.26 L218.76 522.31 L219.45 523.35 L220.13 524.33 L220.8 525.28 L221.47 526.21 L222.15 527.12 L222.87 528.03 L223.62 528.94 L224.42 529.88 L225.29 530.84 L226.2 531.8 L227.16 532.76 L228.14 533.72 L229.14 534.68 L230.13 535.64 L231.11 536.6 L232.07 537.55 L232.99 538.5 L233.88 539.45 L234.75 540.4 L235.63 541.34 L236.52 542.29 L237.44 543.23 L238.41 544.18 L239.43 545.12 L240.55 546.1 L241.77 547.11 L243.05 548.13 L244.35 549.15 L245.64 550.14 L246.88 551.07 L248.03 551.93 L249.06 552.7 L250 553.37 L250.89 553.99 L251.72 554.54 L252.49 555.04 L253.19 555.48 L253.8 555.85 L254.31 556.17 L254.72 556.44" fill="none" stroke="#20c070" stroke-width="1.2" stroke-linejoin="round"/>
<circle cx="179.96" cy="537.05" r="1.5" fill="#14b464"/>
<circle cx="183.64" cy="528.95" r="1.5" fill="#14b464"/>
<circle cx="187.32" cy="518.71" r="1.5" fill="#14b464"/>
<circle cx="191" cy="509.74" r="1.5" fill="#14b464"/>
<circle cx="194.69" cy="501.03" r="1.5" fill="#14b464"/>
<circle cx="198.37" cy="493.4" r="1.5" fill="#14b464"/>
<circle cx="202.05" cy="490.5" r="1.5" fill="#14b464"/>
<circle cx="205.73" cy="492.1" r="1.5" fill="#14b464"/>
<circle cx="209.41" cy="500.34" r="1.5" fill="#14b464"/>
<circle cx="213.09" cy="512.87" r="1.5" fill="#14b464"/>
<circle cx="216.78" cy="519.45" r="1.5" fill="#14b464"/>
<circle cx="220.46" cy="524.8" r="1.5" fill="#14b464"/>
<circle cx="224.14" cy="529.55" r="1.5" fill="#14b464"/>
<circle cx="227.82" cy="533.4" r="1.5" fill="#14b464"/>
<circle cx="231.5" cy="536.98" r="1.5" fill="#14b464"/>
<circle cx="235.18" cy="540.86" r="1.5" fill="#14b464"/>
<circle cx="238.87" cy="544.6" r="1.5" fill="#14b464"/>
<circle cx="242.55" cy="547.73" r="1.5" fill="#14b464"/>
<circle cx="246.23" cy="550.58" r="1.5" fill="#14b464"/>
<circle cx="249.91" cy="553.31" r="1.5" fill="#14b464"/>
<circle cx="253.59" cy="555.73" r="1.5" fill="#14b464"/>
<path d="M174.3 565.6 L179.96 546.9 L185.62 526.33 L189.87 507.63 L194.12 495.47 L199.78 490.8 L205.45 491.73 L211.11 495.47 L216.78 509.5 L222.44 528.2 L229.52 542.22 L236.6 556.25 L243.68 567.47 L250.76 574.95 L257.84 580.56 L264.92 584.3 L293.24 584.3" fill="none" stroke="#fbf7a0" stroke-width="1.2" stroke-linejoin="round"/>
<path d="M194.12 556.44 L194.56 554.79 L195.16 552.55 L195.87 549.89 L196.65 546.95 L197.47 543.9 L198.29 540.88 L199.08 538.06 L199.78 535.59 L200.43 533.42 L201.05 531.4 L201.66 529.48 L202.26 527.64 L202.85 525.86 L203.43 524.1 L204.02 522.33 L204.6 520.53 L205.17 518.7 L205.72 516.86 L206.27 515.02 L206.81 513.2 L207.36 511.41 L207.92 509.66 L208.51 507.96 L209.13 506.32 L209.78 504.71 L210.46 503.09 L211.16 501.51 L211.87 499.97 L212.6 498.51 L213.33 497.17 L214.06 495.96 L214.79 494.91 L215.53 494.05 L216.27 493.33 L217.02 492.75 L217.77 492.28 L218.52 491.9 L219.27 491.59 L220.01 491.32 L220.74 491.08 L221.47 490.87 L222.2 490.7 L222.94 490.59 L223.66 490.55 L224.38 490.57 L225.08 490.66 L225.75 490.83 L226.4 491.08 L227.02 491.41 L227.61 491.81 L228.17 492.28 L228.72 492.82 L229.27 493.44 L229.81 494.14 L230.36 494.91 L230.94 495.76 L231.52 496.7 L232.1 497.73 L232.68 498.85 L233.27 500.04 L233.87 501.3 L234.48 502.6 L235.11 503.93 L235.75 505.29 L236.42 506.7 L237.11 508.18 L237.81 509.72 L238.53 511.29 L239.25 512.89 L239.98 514.49 L240.7 516.08 L241.41 517.63 L242.12 519.24 L242.83 520.94 L243.54 522.69 L244.25 524.41 L244.95 526.05 L245.66 527.55 L246.37 528.84 L247.08 529.88 L247.77 530.65 L248.45 531.21 L249.13 531.58 L249.8 531.81 L250.49 531.91 L251.21 531.93 L251.95 531.9 L252.74 531.85 L253.6 531.69 L254.54 531.35 L255.53 530.89 L256.53 530.39 L257.52 529.89 L258.46 529.45 L259.34 529.15 L260.11 529.04 L260.75 529.07 L261.29 529.15 L261.75 529.31 L262.18 529.56 L262.59 529.93 L263.02 530.44 L263.5 531.1 L264.07 531.94 L264.72 533.01 L265.42 534.31 L266.16 535.79 L266.92 537.4 L267.7 539.08 L268.48 540.77 L269.26 542.43 L270.02 544 L270.75 545.52 L271.45 547.06 L272.15 548.61 L272.85 550.15 L273.57 551.68 L274.32 553.19 L275.11 554.65 L275.96 556.06 L276.87 557.42 L277.82 558.73 L278.8 559.99 L279.82 561.23 L280.87 562.46 L281.95 563.68 L283.05 564.91 L284.18 566.16 L285.31 567.47 L286.46 568.85 L287.63 570.26 L288.83 571.65 L290.07 572.99 L291.35 574.23 L292.69 575.34 L294.09 576.26 L295.66 576.99 L297.43 577.58 L299.32 578.03 L301.22 578.39 L303.05 578.66 L304.7 578.88 L306.09 579.07 L307.12 579.25" fill="none" stroke="#5a9a3a" stroke-width="1.2" stroke-linejoin="round"/>
<circle cx="194.12" cy="556.44" r="1.5" fill="#4a8a2e"/>
<circle cx="197.8" cy="542.69" r="1.5" fill="#4a8a2e"/>
<circle cx="201.48" cy="530.05" r="1.5" fill="#4a8a2e"/>
<circle cx="205.16" cy="518.72" r="1.5" fill="#4a8a2e"/>
<circle cx="208.85" cy="507.07" r="1.5" fill="#4a8a2e"/>
<circle cx="212.53" cy="498.66" r="1.5" fill="#4a8a2e"/>
<circle cx="216.21" cy="493.39" r="1.5" fill="#4a8a2e"/>
<circle cx="219.89" cy="491.37" r="1.5" fill="#4a8a2e"/>
<circle cx="223.57" cy="490.55" r="1.5" fill="#4a8a2e"/>
<circle cx="227.25" cy="491.56" r="1.5" fill="#4a8a2e"/>
<circle cx="230.94" cy="495.76" r="1.5" fill="#4a8a2e"/>
<circle cx="234.62" cy="502.89" r="1.5" fill="#4a8a2e"/>
<circle cx="238.3" cy="510.79" r="1.5" fill="#4a8a2e"/>
<circle cx="241.98" cy="518.92" r="1.5" fill="#4a8a2e"/>
<circle cx="245.66" cy="527.55" r="1.5" fill="#4a8a2e"/>
<circle cx="249.34" cy="531.65" r="1.5" fill="#4a8a2e"/>
<circle cx="253.03" cy="531.79" r="1.5" fill="#4a8a2e"/>
<circle cx="256.71" cy="530.3" r="1.5" fill="#4a8a2e"/>
<circle cx="260.39" cy="529.05" r="1.5" fill="#4a8a2e"/>
<circle cx="264.07" cy="531.94" r="1.5" fill="#4a8a2e"/>
<circle cx="267.75" cy="539.19" r="1.5" fill="#4a8a2e"/>
<circle cx="271.43" cy="547.02" r="1.5" fill="#4a8a2e"/>
<circle cx="275.12" cy="554.65" r="1.5" fill="#4a8a2e"/>
<circle cx="278.8" cy="559.98" r="1.5" fill="#4a8a2e"/>
<circle cx="282.48" cy="564.27" r="1.5" fill="#4a8a2e"/>
<circle cx="286.16" cy="568.49" r="1.5" fill="#4a8a2e"/>
<circle cx="289.84" cy="572.75" r="1.5" fill="#4a8a2e"/>
<circle cx="293.52" cy="575.89" r="1.5" fill="#4a8a2e"/>
<circle cx="297.2" cy="577.5" r="1.5" fill="#4a8a2e"/>
<circle cx="300.89" cy="578.32" r="1.5" fill="#4a8a2e"/>
<circle cx="304.57" cy="578.86" r="1.5" fill="#4a8a2e"/>
<path d="M196.95 502.02 L197.63 502 L198.54 501.94 L199.64 501.88 L200.85 501.82 L202.1 501.78 L203.32 501.79 L204.46 501.86 L205.45 502.02 L206.29 502.26 L207.06 502.58 L207.78 502.95 L208.46 503.36 L209.11 503.82 L209.76 504.3 L210.42 504.79 L211.11 505.29 L211.81 505.82 L212.48 506.4 L213.15 507.02 L213.82 507.65 L214.51 508.28 L215.22 508.89 L215.97 509.46 L216.78 509.97 L217.65 510.45 L218.59 510.95 L219.59 511.44 L220.6 511.89 L221.61 512.28 L222.6 512.59 L223.55 512.79 L224.42 512.87 L225.21 512.82 L225.93 512.68 L226.6 512.45 L227.25 512.13 L227.9 511.72 L228.58 511.22 L229.3 510.64 L230.09 509.97 L230.95 509.17 L231.87 508.21 L232.82 507.14 L233.8 506 L234.8 504.82 L235.79 503.65 L236.78 502.51 L237.73 501.46 L238.66 500.44 L239.59 499.41 L240.5 498.38 L241.41 497.37 L242.33 496.4 L243.24 495.5 L244.16 494.69 L245.1 493.98 L246.04 493.36 L246.99 492.8 L247.96 492.3 L248.92 491.88 L249.88 491.54 L250.84 491.29 L251.8 491.13 L252.74 491.08 L253.69 491.13 L254.66 491.29 L255.64 491.53 L256.6 491.87 L257.54 492.29 L258.45 492.78 L259.31 493.35 L260.11 493.98 L260.81 494.67 L261.44 495.41 L262 496.22 L262.53 497.11 L263.06 498.09 L263.62 499.16 L264.23 500.35 L264.92 501.65 L265.69 503.1 L266.5 504.72 L267.36 506.47 L268.25 508.3 L269.16 510.19 L270.1 512.08 L271.05 513.96 L272 515.76 L272.97 517.58 L273.98 519.46 L275.01 521.37 L276.05 523.26 L277.1 525.1 L278.15 526.85 L279.19 528.45 L280.21 529.88 L281.22 531.18 L282.22 532.39 L283.21 533.51 L284.2 534.51 L285.18 535.38 L286.17 536.09 L287.15 536.64 L288.14 536.99 L289.15 537.15 L290.17 537.14 L291.2 536.97 L292.23 536.64 L293.24 536.17 L294.23 535.54 L295.18 534.79 L296.07 533.9 L296.91 532.82 L297.7 531.5 L298.45 530 L299.17 528.38 L299.88 526.69 L300.58 525 L301.29 523.37 L302.02 521.84 L302.77 520.34 L303.55 518.76 L304.32 517.15 L305.1 515.58 L305.86 514.1 L306.6 512.76 L307.3 511.61 L307.97 510.72 L308.58 510.06 L309.15 509.6 L309.7 509.31 L310.21 509.18 L310.72 509.18 L311.21 509.29 L311.71 509.5 L312.21 509.78 L312.73 510.14 L313.25 510.6 L313.77 511.16 L314.29 511.83 L314.79 512.62 L315.27 513.53 L315.74 514.58 L316.18 515.76 L316.59 517.06 L316.97 518.44 L317.32 519.93 L317.67 521.56 L318 523.35 L318.33 525.31 L318.66 527.49 L319.01 529.88 L319.35 532.66 L319.66 535.86 L319.96 539.35 L320.27 542.97 L320.59 546.6 L320.96 550.08 L321.37 553.29 L321.84 556.06 L322.43 558.5 L323.14 560.77 L323.91 562.86 L324.71 564.76 L325.49 566.45 L326.2 567.93 L326.79 569.17 L327.22 570.18" fill="none" stroke="#3c64d0" stroke-width="1.2" stroke-linejoin="round"/>
<circle cx="196.95" cy="502.02" r="1.5" fill="#3058c8"/>
<circle cx="200.35" cy="501.84" r="1.5" fill="#3058c8"/>
<circle cx="203.75" cy="501.82" r="1.5" fill="#3058c8"/>
<circle cx="207.15" cy="502.62" r="1.5" fill="#3058c8"/>
<circle cx="210.55" cy="504.88" r="1.5" fill="#3058c8"/>
<circle cx="213.94" cy="507.77" r="1.5" fill="#3058c8"/>
<circle cx="217.34" cy="510.28" r="1.5" fill="#3058c8"/>
<circle cx="220.74" cy="511.94" r="1.5" fill="#3058c8"/>
<circle cx="224.14" cy="512.84" r="1.5" fill="#3058c8"/>
<circle cx="227.54" cy="511.95" r="1.5" fill="#3058c8"/>
<circle cx="230.94" cy="509.18" r="1.5" fill="#3058c8"/>
<circle cx="234.33" cy="505.37" r="1.5" fill="#3058c8"/>
<circle cx="237.73" cy="501.46" r="1.5" fill="#3058c8"/>
<circle cx="241.13" cy="497.68" r="1.5" fill="#3058c8"/>
<circle cx="244.53" cy="494.41" r="1.5" fill="#3058c8"/>
<circle cx="247.93" cy="492.32" r="1.5" fill="#3058c8"/>
<circle cx="251.33" cy="491.21" r="1.5" fill="#3058c8"/>
<circle cx="254.72" cy="491.3" r="1.5" fill="#3058c8"/>
<circle cx="258.12" cy="492.6" r="1.5" fill="#3058c8"/>
<circle cx="261.52" cy="495.53" r="1.5" fill="#3058c8"/>
<circle cx="264.92" cy="501.65" r="1.5" fill="#3058c8"/>
<circle cx="268.32" cy="508.45" r="1.5" fill="#3058c8"/>
<circle cx="271.72" cy="515.23" r="1.5" fill="#3058c8"/>
<circle cx="275.12" cy="521.56" r="1.5" fill="#3058c8"/>
<circle cx="278.51" cy="527.4" r="1.5" fill="#3058c8"/>
<circle cx="281.91" cy="532.02" r="1.5" fill="#3058c8"/>
<circle cx="285.31" cy="535.47" r="1.5" fill="#3058c8"/>
<circle cx="288.71" cy="537.08" r="1.5" fill="#3058c8"/>
<circle cx="292.11" cy="536.68" r="1.5" fill="#3058c8"/>
<circle cx="295.51" cy="534.46" r="1.5" fill="#3058c8"/>
<circle cx="298.9" cy="528.97" r="1.5" fill="#3058c8"/>
<circle cx="302.3" cy="521.28" r="1.5" fill="#3058c8"/>
<circle cx="305.7" cy="514.41" r="1.5" fill="#3058c8"/>
<circle cx="309.1" cy="509.65" r="1.5" fill="#3058c8"/>
<circle cx="312.5" cy="509.98" r="1.5" fill="#3058c8"/>
<circle cx="315.9" cy="515" r="1.5" fill="#3058c8"/>
<circle cx="319.29" cy="532.22" r="1.5" fill="#3058c8"/>
<circle cx="322.69" cy="559.35" r="1.5" fill="#3058c8"/>
<circle cx="326.09" cy="567.71" r="1.5" fill="#3058c8"/>
<path d="M171.46 519.5 L171.88 519.22 L172.43 518.86 L173.08 518.43 L173.81 517.94 L174.59 517.41 L175.4 516.85 L176.2 516.27 L176.99 515.67 L177.78 515.07 L178.61 514.46 L179.48 513.83 L180.36 513.16 L181.23 512.46 L182.08 511.69 L182.89 510.87 L183.64 509.97 L184.34 508.93 L185 507.74 L185.63 506.44 L186.23 505.12 L186.81 503.81 L187.38 502.59 L187.92 501.5 L188.46 500.62 L188.96 499.91 L189.43 499.3 L189.87 498.8 L190.3 498.4 L190.72 498.1 L191.16 497.88 L191.63 497.76 L192.14 497.72 L192.69 497.8 L193.26 498.04 L193.86 498.39 L194.47 498.81 L195.1 499.28 L195.72 499.76 L196.34 500.22 L196.95 500.62 L197.55 500.99 L198.14 501.37 L198.72 501.76 L199.31 502.14 L199.9 502.51 L200.5 502.85 L201.12 503.16 L201.77 503.42 L202.42 503.65 L203.08 503.85 L203.75 504.03 L204.44 504.18 L205.14 504.29 L205.88 504.36 L206.64 504.39 L207.43 504.36 L208.27 504.27 L209.15 504.13 L210.05 503.94 L210.99 503.71 L211.94 503.45 L212.89 503.15 L213.85 502.83 L214.79 502.49 L215.74 502.14 L216.69 501.78 L217.64 501.39 L218.6 500.98 L219.56 500.52 L220.52 500 L221.48 499.42 L222.44 498.75 L223.42 497.9 L224.44 496.86 L225.48 495.7 L226.51 494.5 L227.51 493.35 L228.45 492.35 L229.32 491.56 L230.09 491.08 L230.72 490.84 L231.24 490.73 L231.67 490.77 L232.05 490.99 L232.42 491.39 L232.8 492.01 L233.24 492.87 L233.77 493.98 L234.38 495.4 L235.04 497.15 L235.75 499.15 L236.48 501.36 L237.22 503.71 L237.97 506.13 L238.71 508.58 L239.43 511 L240.14 513.44 L240.85 516 L241.56 518.65 L242.26 521.35 L242.97 524.06 L243.68 526.76 L244.39 529.39 L245.1 531.94 L245.82 534.45 L246.55 536.98 L247.29 539.51 L248.03 541.99 L248.76 544.39 L249.46 546.69 L250.13 548.84 L250.76 550.83 L251.33 552.6 L251.85 554.19 L252.33 555.62 L252.8 556.96 L253.25 558.23 L253.71 559.49 L254.2 560.78 L254.72 562.14 L255.3 563.59 L255.92 565.07 L256.57 566.58 L257.22 568.08 L257.86 569.54 L258.47 570.94 L259.04 572.25 L259.54 573.45 L259.98 574.57 L260.4 575.64 L260.77 576.64 L261.11 577.57 L261.42 578.42 L261.68 579.16 L261.91 579.78 L262.09 580.28" fill="none" stroke="#2a7a2a" stroke-width="1.2" stroke-linejoin="round"/>
<circle cx="171.46" cy="519.5" r="1.5" fill="#1a5a1a"/>
<circle cx="175.15" cy="517.03" r="1.5" fill="#1a5a1a"/>
<circle cx="178.83" cy="514.31" r="1.5" fill="#1a5a1a"/>
<circle cx="182.51" cy="511.26" r="1.5" fill="#1a5a1a"/>
<circle cx="186.19" cy="505.21" r="1.5" fill="#1a5a1a"/>
<circle cx="189.87" cy="498.8" r="1.5" fill="#1a5a1a"/>
<circle cx="193.55" cy="498.21" r="1.5" fill="#1a5a1a"/>
<circle cx="197.24" cy="500.79" r="1.5" fill="#1a5a1a"/>
<circle cx="200.92" cy="503.06" r="1.5" fill="#1a5a1a"/>
<circle cx="204.6" cy="504.21" r="1.5" fill="#1a5a1a"/>
<circle cx="208.28" cy="504.27" r="1.5" fill="#1a5a1a"/>
<circle cx="211.96" cy="503.44" r="1.5" fill="#1a5a1a"/>
<circle cx="215.64" cy="502.17" r="1.5" fill="#1a5a1a"/>
<circle cx="219.32" cy="500.63" r="1.5" fill="#1a5a1a"/>
<circle cx="223.01" cy="498.26" r="1.5" fill="#1a5a1a"/>
<circle cx="226.69" cy="494.3" r="1.5" fill="#1a5a1a"/>
<circle cx="230.37" cy="490.97" r="1.5" fill="#1a5a1a"/>
<circle cx="234.05" cy="494.64" r="1.5" fill="#1a5a1a"/>
<circle cx="237.73" cy="505.37" r="1.5" fill="#1a5a1a"/>
<circle cx="241.41" cy="518.12" r="1.5" fill="#1a5a1a"/>
<circle cx="245.1" cy="531.94" r="1.5" fill="#1a5a1a"/>
<circle cx="248.78" cy="544.45" r="1.5" fill="#1a5a1a"/>
<circle cx="252.46" cy="555.99" r="1.5" fill="#1a5a1a"/>
<circle cx="256.14" cy="565.58" r="1.5" fill="#1a5a1a"/>
<circle cx="259.82" cy="574.16" r="1.5" fill="#1a5a1a"/>
<line x1="357.3" y1="488.6" x2="369" y2="488.6" stroke="#7cc040" stroke-width="0.95"/>
<circle cx="363.35" cy="488.6" r="1.6" fill="#6cb334"/>
<text x="369.8" y="490.76" font-size="6.0" fill="#262626" class="t" textLength="26.57" lengthAdjust="spacingAndGlyphs">DTF_WC1</text>
<line x1="357.3" y1="496.12" x2="369" y2="496.12" stroke="#f8d090" stroke-width="0.95"/>
<circle cx="363.35" cy="496.12" r="1.6" fill="#f5c47a"/>
<text x="369.8" y="498.29" font-size="6.0" fill="#262626" class="t" textLength="26.57" lengthAdjust="spacingAndGlyphs">DTF_WC2</text>
<line x1="357.3" y1="503.65" x2="369" y2="503.65" stroke="#fdfdb0" stroke-width="0.95"/>
<circle cx="363.35" cy="503.65" r="1.6" fill="#f8f8a0"/>
<text x="369.8" y="505.81" font-size="6.0" fill="#262626" class="t" textLength="25.01" lengthAdjust="spacingAndGlyphs">DTF_SC2</text>
<line x1="357.3" y1="511.18" x2="369" y2="511.18" stroke="#f0d800" stroke-width="0.95"/>
<circle cx="363.35" cy="511.18" r="1.6" fill="#e8cc00"/>
<text x="369.8" y="513.34" font-size="6.0" fill="#262626" class="t" textLength="24.7" lengthAdjust="spacingAndGlyphs">DTF_SE1</text>
<line x1="357.3" y1="518.7" x2="369" y2="518.7" stroke="#20a8e8" stroke-width="0.95"/>
<circle cx="363.35" cy="518.7" r="1.6" fill="#14a0e0"/>
<text x="369.8" y="520.86" font-size="6.0" fill="#262626" class="t" textLength="24.7" lengthAdjust="spacingAndGlyphs">DTF_SE2</text>
<line x1="357.3" y1="526.23" x2="369" y2="526.23" stroke="#a66a30" stroke-width="0.95"/>
<circle cx="363.35" cy="526.23" r="1.6" fill="#8b5a1e"/>
<text x="369.8" y="528.38" font-size="6.0" fill="#262626" class="t" textLength="25.01" lengthAdjust="spacingAndGlyphs">DTF_NE1</text>
<line x1="357.3" y1="533.75" x2="369" y2="533.75" stroke="#fcf080" stroke-width="0.95"/>
<circle cx="363.35" cy="533.75" r="1.6" fill="#f5e86a"/>
<text x="369.8" y="535.91" font-size="6.0" fill="#262626" class="t" textLength="24.69" lengthAdjust="spacingAndGlyphs">DTF_NBJ</text>
<line x1="357.3" y1="541.27" x2="369" y2="541.27" stroke="#ffe400" stroke-width="0.95"/>
<circle cx="363.35" cy="541.27" r="1.6" fill="#f2d600"/>
<text x="369.8" y="543.43" font-size="6.0" fill="#262626" class="t" textLength="34.38" lengthAdjust="spacingAndGlyphs">DTF_WE_NC</text>
<line x1="357.3" y1="548.8" x2="369" y2="548.8" stroke="#20c070" stroke-width="0.95"/>
<circle cx="363.35" cy="548.8" r="1.6" fill="#14b464"/>
<text x="369.8" y="550.96" font-size="6.0" fill="#262626" class="t" textLength="23.44" lengthAdjust="spacingAndGlyphs">DTF_NW</text>
<line x1="357.3" y1="556.33" x2="369" y2="556.33" stroke="#fbf7a0" stroke-width="0.95"/>
<text x="369.8" y="558.49" font-size="6.0" fill="#262626" class="t" textLength="21.26" lengthAdjust="spacingAndGlyphs">DTF_C2</text>
<line x1="357.3" y1="563.85" x2="369" y2="563.85" stroke="#5a9a3a" stroke-width="0.95"/>
<circle cx="363.35" cy="563.85" r="1.6" fill="#4a8a2e"/>
<text x="369.8" y="566.01" font-size="6.0" fill="#262626" class="t" textLength="25.95" lengthAdjust="spacingAndGlyphs">WTF_SE1</text>
<line x1="357.3" y1="571.38" x2="369" y2="571.38" stroke="#3c64d0" stroke-width="0.95"/>
<circle cx="363.35" cy="571.38" r="1.6" fill="#3058c8"/>
<text x="369.8" y="573.53" font-size="6.0" fill="#262626" class="t" textLength="25.95" lengthAdjust="spacingAndGlyphs">WTF_SE2</text>
<line x1="357.3" y1="578.9" x2="369" y2="578.9" stroke="#2a7a2a" stroke-width="0.95"/>
<circle cx="363.35" cy="578.9" r="1.6" fill="#1a5a1a"/>
<text x="369.8" y="581.06" font-size="6.0" fill="#262626" class="t" textLength="32.68" lengthAdjust="spacingAndGlyphs">WET_SE1+2</text>
</svg></body></html>
